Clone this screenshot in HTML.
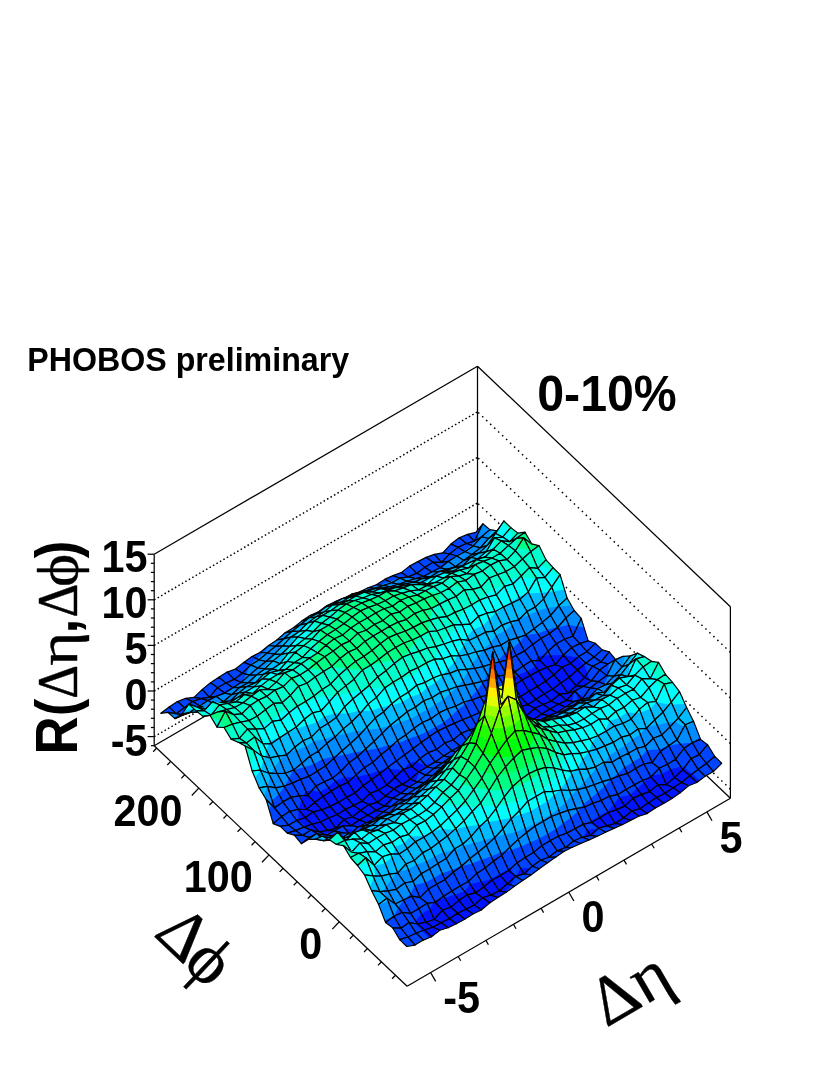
<!DOCTYPE html>
<html><head><meta charset="utf-8"><title>PHOBOS preliminary</title><style>html,body{margin:0;padding:0;background:#fff}svg{display:block}text{font-family:"Liberation Sans",sans-serif;font-weight:bold;fill:#000}.sy{font-family:"Liberation Serif",serif;font-weight:normal;stroke:#000;stroke-width:.4px}</style></head><body>
<svg width="830" height="1075" viewBox="0 0 830 1075">
<rect width="830" height="1075" fill="#fff"/>
<g stroke="#000" stroke-width="1.25" fill="none" stroke-linecap="butt"><line x1="154.2" y1="745.7" x2="154.2" y2="554.2" /><line x1="730.4" y1="798.2" x2="730.4" y2="606.7" /><line x1="477.5" y1="557.7" x2="477.5" y2="366.2" /><line x1="154.2" y1="554.2" x2="477.5" y2="366.2" /><line x1="730.4" y1="606.7" x2="477.5" y2="366.2" /><line x1="154.2" y1="745.7" x2="477.5" y2="557.7" /><line x1="730.4" y1="798.2" x2="477.5" y2="557.7" /><line x1="154.2" y1="736.6" x2="477.5" y2="548.6" stroke-dasharray="1.5 2.5" stroke-width="1.5"/><line x1="730.4" y1="789.1" x2="477.5" y2="548.6" stroke-dasharray="1.5 4.0" stroke-width="1.5"/><line x1="154.2" y1="691.0" x2="477.5" y2="503.0" stroke-dasharray="1.5 2.5" stroke-width="1.5"/><line x1="730.4" y1="743.5" x2="477.5" y2="503.0" stroke-dasharray="1.5 4.0" stroke-width="1.5"/><line x1="154.2" y1="645.4" x2="477.5" y2="457.4" stroke-dasharray="1.5 2.5" stroke-width="1.5"/><line x1="730.4" y1="697.9" x2="477.5" y2="457.4" stroke-dasharray="1.5 4.0" stroke-width="1.5"/><line x1="154.2" y1="599.8" x2="477.5" y2="411.8" stroke-dasharray="1.5 2.5" stroke-width="1.5"/><line x1="730.4" y1="652.3" x2="477.5" y2="411.8" stroke-dasharray="1.5 4.0" stroke-width="1.5"/></g>
<g transform="scale(.1)" stroke="#000" stroke-width="12" stroke-linejoin="round"><path d="M4745 5412l83-174-70 86-83 20z" fill="#0044ff" stroke="none"/>
<path d="M4782 5335l46-97-32 40z" fill="#008bff" stroke="none"/>
<path d="M4745 5412l83-174-70 86-83 20z" fill="none"/>
<path d="M4663 5435l82-23-70-68-83 33z" fill="#0044ff"/>
<path d="M4580 5474l83-39-71-58-83 64z" fill="#0044ff"/>
<path d="M4497 5540l83-66-71-33-82 87z" fill="#0044ff"/>
<path d="M4414 5624l83-84-70-12-83 16z" fill="#0044ff"/>
<path d="M4331 5623l83 1-70-80-83 30z" fill="#0044ff"/>
<path d="M4248 5674l83-51-70-49-83 42z" fill="#0044ff"/>
<path d="M4165 5734l83-60-70-58-83 45z" fill="#0044ff"/>
<path d="M4082 5769l83-35-70-73-83 65z" fill="#0044ff"/>
<path d="M3999 5783l83-14-70-43-83 30z" fill="#0044ff" stroke="none"/>
<path d="M3999 5783l18-3-30-1z" fill="#008bff" stroke="none"/>
<path d="M3999 5783l83-14-70-43-83 30z" fill="none"/>
<path d="M3917 5828l82-45-70-27-83 38z" fill="#0044ff" stroke="none"/>
<path d="M3917 5828l82-45-12-4-93 38z" fill="#008bff" stroke="none"/>
<path d="M3917 5828l82-45-70-27-83 38z" fill="none"/>
<path d="M3834 5855l83-27-71-34-83 54z" fill="#0044ff" stroke="none"/>
<path d="M3834 5855l83-27-23-11-98 34z" fill="#008bff" stroke="none"/>
<path d="M3834 5855l83-27-71-34-83 54z" fill="none"/>
<path d="M3751 5884l83-29-71-7-83 29z" fill="#0044ff" stroke="none"/>
<path d="M3751 5884l83-29-38-4-106 27z" fill="#008bff" stroke="none"/>
<path d="M3751 5884l83-29-71-7-83 29z" fill="none"/>
<path d="M3668 5906l83-22-71-7-82 40z" fill="#0044ff" stroke="none"/>
<path d="M3668 5906l83-22-61-6-92 39z" fill="#008bff" stroke="none"/>
<path d="M3668 5906l83-22-71-7-82 40z" fill="none"/>
<path d="M3585 5926l83-20-70 11-83 25z" fill="#0044ff" stroke="none"/>
<path d="M3585 5926l83-20-70 11-1 0-82 25z" fill="#008bff" stroke="none"/>
<path d="M3585 5926l29-7-37 9z" fill="#00bbff" stroke="none"/>
<path d="M3585 5926l83-20-70 11-83 25z" fill="none"/>
<path d="M3502 5959l83-33-70 16-83 46z" fill="#008bff" stroke="none"/>
<path d="M3502 5959l83-33-8 2-93 38z" fill="#00bbff" stroke="none"/>
<path d="M3502 5959l83-33-70 16-83 46z" fill="none"/>
<path d="M3419 5987l83-28-70 29-83 30z" fill="#008bff" stroke="none"/>
<path d="M3419 5987l83-28-18 7-97 35z" fill="#00bbff" stroke="none"/>
<path d="M3419 5987l83-28-70 29-83 30z" fill="none"/>
<path d="M3336 6041l83-54-70 31-83 40z" fill="#008bff" stroke="none"/>
<path d="M3336 6041l83-54-32 14-84 48z" fill="#00bbff" stroke="none"/>
<path d="M3336 6041l83-54-70 31-83 40z" fill="none"/>
<path d="M3253 6072l83-31-70 17-83 61z" fill="#008bff" stroke="none"/>
<path d="M3253 6072l83-31-33 8-85 46z" fill="#00bbff" stroke="none"/>
<path d="M3253 6072l83-31-70 17-83 61z" fill="none"/>
<path d="M3170 6137l83-65-70 47-83 36z" fill="#008bff" stroke="none"/>
<path d="M3170 6137l83-65-35 23-81 50z" fill="#00bbff" stroke="none"/>
<path d="M3170 6137l83-65-70 47-83 36z" fill="none"/>
<path d="M3088 6180l82-43-70 18-83 56z" fill="#008bff" stroke="none"/>
<path d="M3088 6180l82-43-33 8-82 49z" fill="#00bbff" stroke="none"/>
<path d="M3088 6180l82-43-70 18-83 56z" fill="none"/>
<path d="M3005 6248l83-68-71 31-83 66z" fill="#008bff" stroke="none"/>
<path d="M3005 6248l83-68-33 14-69 62z" fill="#00bbff" stroke="none"/>
<path d="M3005 6248l83-68-71 31-83 66z" fill="none"/>
<path d="M2922 6312l83-64-71 29-83 51z" fill="#008bff" stroke="none"/>
<path d="M2922 6312l83-64-19 8-72 57z" fill="#00bbff" stroke="none"/>
<path d="M2922 6312l83-64-71 29-83 51z" fill="none"/>
<path d="M2839 6388l83-76-71 16-82 71z" fill="#0044ff" stroke="none"/>
<path d="M2839 6388l83-76-71 16-82 70 0 1z" fill="#008bff" stroke="none"/>
<path d="M2893 6338l29-26-8 1z" fill="#00bbff" stroke="none"/>
<path d="M2839 6388l83-76-71 16-82 71z" fill="none"/>
<path d="M2756 6463l83-75-70 11-83 56z" fill="#0044ff" stroke="none"/>
<path d="M2756 6463l83-75-70 11-73 57z" fill="#008bff" stroke="none"/>
<path d="M2756 6463l83-75-70 11-83 56z" fill="none"/>
<path d="M2673 6530l83-67-70-8-83 68z" fill="#0044ff" stroke="none"/>
<path d="M2673 6530l83-67-60-7-60 70z" fill="#008bff" stroke="none"/>
<path d="M2673 6530l83-67-70-8-83 68z" fill="none"/>
<path d="M2590 6599l83-69-70-7-83 42z" fill="#0044ff" stroke="none"/>
<path d="M2590 6599l83-69-37-4-69 62z" fill="#008bff" stroke="none"/>
<path d="M2590 6599l83-69-70-7-83 42z" fill="none"/>
<path d="M2507 6651l83-52-70-34-83 59z" fill="#0044ff" stroke="none"/>
<path d="M2507 6651l83-52-23-11-72 58z" fill="#008bff" stroke="none"/>
<path d="M2507 6651l83-52-70-34-83 59z" fill="none"/>
<path d="M2424 6733l83-82-70-27-83 66z" fill="#0044ff" stroke="none"/>
<path d="M2490 6668l17-17-12-5z" fill="#008bff" stroke="none"/>
<path d="M2424 6733l83-82-70-27-83 66z" fill="none"/>
<path d="M2341 6794l83-61-70-43-83 31z" fill="#0044ff"/>
<path d="M2259 6831l82-37-70-73-83 52z" fill="#0044ff"/>
<path d="M2176 6877l83-46-71-58-83 54z" fill="#0044ff"/>
<path d="M2093 6974l83-97-71-50-82 67z" fill="#0044ff"/>
<path d="M2010 6986l83-12-70-80-83 80z" fill="#0044ff"/>
<path d="M1927 7016l83-30-70-12-83 10z" fill="#0044ff"/>
<path d="M1844 7077l83-61-70-32-83 31z" fill="#0044ff"/>
<path d="M1761 7138l83-61-70-62-83 56z" fill="#0044ff"/>
<path d="M1678 7123l83 15-70-67-83 62z" fill="#0044ff" stroke="none"/>
<path d="M1678 7123l23 4-38-2z" fill="#008bff" stroke="none"/>
<path d="M1678 7123l83 15-70-67-83 62z" fill="none"/>
<path d="M4816 5368l83-72-71-58-83 174z" fill="#0044ff" stroke="none"/>
<path d="M4816 5368l83-72-71-58-46 97-1 55z" fill="#008bff" stroke="none"/>
<path d="M4816 5368l83-72-71-58-83 174z" fill="none"/>
<path d="M4733 5459l83-91-71 44-82 23z" fill="#0044ff" stroke="none"/>
<path d="M4733 5459l83-91-35 22-69 62z" fill="#008bff" stroke="none"/>
<path d="M4733 5459l83-91-71 44-82 23z" fill="none"/>
<path d="M4650 5517l83-58-70-24-83 39z" fill="#0044ff" stroke="none"/>
<path d="M4650 5517l83-58-21-7-71 59z" fill="#008bff" stroke="none"/>
<path d="M4650 5517l83-58-70-24-83 39z" fill="none"/>
<path d="M4567 5560l83-43-70-43-83 66z" fill="#0044ff" stroke="none"/>
<path d="M4567 5560l83-43-9-6-86 45z" fill="#008bff" stroke="none"/>
<path d="M4567 5560l83-43-70-43-83 66z" fill="none"/>
<path d="M4484 5614l83-54-70-20-83 84z" fill="#0044ff" stroke="none"/>
<path d="M4484 5614l83-54-12-4-73 58z" fill="#008bff" stroke="none"/>
<path d="M4484 5614l83-54-70-20-83 84z" fill="none"/>
<path d="M4401 5678l83-64-70 10-83-1z" fill="#0044ff" stroke="none"/>
<path d="M4473 5623l11-9-2 0z" fill="#008bff" stroke="none"/>
<path d="M4401 5678l83-64-70 10-83-1z" fill="none"/>
<path d="M4318 5720l83-42-70-55-83 51z" fill="#0044ff"/>
<path d="M4235 5765l83-45-70-46-83 60z" fill="#0044ff"/>
<path d="M4153 5787l82-22-70-31-83 35z" fill="#0044ff" stroke="none"/>
<path d="M4153 5787l70-19-102 11z" fill="#008bff" stroke="none"/>
<path d="M4153 5787l82-22-70-31-83 35z" fill="none"/>
<path d="M4070 5812l83-25-71-18-83 14z" fill="#0044ff" stroke="none"/>
<path d="M4070 5812l83-25-32-8-104 1-18 3z" fill="#008bff" stroke="none"/>
<path d="M4070 5812l83-25-71-18-83 14z" fill="none"/>
<path d="M3987 5843l83-31-71-29-82 45z" fill="#008bff"/>
<path d="M3904 5868l83-25-70-15-83 27z" fill="#008bff"/>
<path d="M3821 5881l83-13-70-13-83 29z" fill="#008bff" stroke="none"/>
<path d="M3821 5881l60-10-85 11z" fill="#00bbff" stroke="none"/>
<path d="M3821 5881l83-13-70-13-83 29z" fill="none"/>
<path d="M3738 5890l83-9-70 3-83 22z" fill="#008bff" stroke="none"/>
<path d="M3738 5890l83-9-25 1-113 20z" fill="#00bbff" stroke="none"/>
<path d="M3738 5890l83-9-70 3-83 22z" fill="none"/>
<path d="M3655 5928l83-38-70 16-83 20z" fill="#008bff" stroke="none"/>
<path d="M3655 5928l83-38-55 12-69 17-29 7z" fill="#00bbff" stroke="none"/>
<path d="M3655 5928l83-38-70 16-83 20z" fill="none"/>
<path d="M3572 5944l83-16-70-2-83 33z" fill="#00bbff" stroke="none"/>
<path d="M3572 5944l28-5-37 7z" fill="#00fffc" stroke="none"/>
<path d="M3572 5944l83-16-70-2-83 33z" fill="none"/>
<path d="M3489 5977l83-33-70 15-83 28z" fill="#00bbff" stroke="none"/>
<path d="M3489 5977l83-33-9 2-98 34z" fill="#00fffc" stroke="none"/>
<path d="M3489 5977l83-33-70 15-83 28z" fill="none"/>
<path d="M3406 6024l83-47-70 10-83 54z" fill="#00bbff" stroke="none"/>
<path d="M3406 6024l83-47-24 3-82 49z" fill="#00fffc" stroke="none"/>
<path d="M3406 6024l83-47-70 10-83 54z" fill="none"/>
<path d="M3324 6051l82-27-70 17-83 31z" fill="#00bbff" stroke="none"/>
<path d="M3324 6051l82-27-23 5-98 33z" fill="#00fffc" stroke="none"/>
<path d="M3324 6051l82-27-70 17-83 31z" fill="none"/>
<path d="M3241 6120l83-69-71 21-83 65z" fill="#00bbff" stroke="none"/>
<path d="M3241 6120l83-69-39 11-67 64z" fill="#00fffc" stroke="none"/>
<path d="M3241 6120l83-69-71 21-83 65z" fill="none"/>
<path d="M3158 6170l83-50-71 17-82 43z" fill="#00bbff" stroke="none"/>
<path d="M3158 6170l83-50-23 6-84 47z" fill="#00fffc" stroke="none"/>
<path d="M3158 6170l83-50-71 17-82 43z" fill="none"/>
<path d="M3075 6233l83-63-70 10-83 68z" fill="#00bbff" stroke="none"/>
<path d="M3075 6233l83-63-24 3-69 62z" fill="#00fffc" stroke="none"/>
<path d="M3075 6233l83-63-70 10-83 68z" fill="none"/>
<path d="M2992 6314l83-81-70 15-83 64z" fill="#00bbff" stroke="none"/>
<path d="M3047 6260l28-27-10 2z" fill="#00fffc" stroke="none"/>
<path d="M2992 6314l83-81-70 15-83 64z" fill="none"/>
<path d="M2909 6372l83-58-70-2-83 76z" fill="#008bff" stroke="none"/>
<path d="M2909 6372l83-58-70-2-29 26-39 46z" fill="#00bbff" stroke="none"/>
<path d="M2909 6372l83-58-70-2-83 76z" fill="none"/>
<path d="M2826 6459l83-87-70 16-83 75z" fill="#008bff" stroke="none"/>
<path d="M2826 6459l83-87-55 12-53 77z" fill="#00bbff" stroke="none"/>
<path d="M2826 6459l83-87-70 16-83 75z" fill="none"/>
<path d="M2743 6542l83-83-70 4-83 67z" fill="#008bff" stroke="none"/>
<path d="M2766 6519l60-60-25 2z" fill="#00bbff" stroke="none"/>
<path d="M2743 6542l83-83-70 4-83 67z" fill="none"/>
<path d="M2660 6615l83-73-70-12-83 69z" fill="#008bff"/>
<path d="M2578 6680l82-65-70-16-83 52z" fill="#008bff"/>
<path d="M2495 6751l83-71-71-29-83 82z" fill="#0044ff" stroke="none"/>
<path d="M2495 6751l83-71-71-29-17 17-27 75z" fill="#008bff" stroke="none"/>
<path d="M2495 6751l83-71-71-29-83 82z" fill="none"/>
<path d="M2412 6825l83-74-71-18-83 61z" fill="#0044ff" stroke="none"/>
<path d="M2424 6814l71-63-32-8z" fill="#008bff" stroke="none"/>
<path d="M2412 6825l83-74-71-18-83 61z" fill="none"/>
<path d="M2329 6877l83-52-71-31-82 37z" fill="#0044ff"/>
<path d="M2246 6931l83-54-70-46-83 46z" fill="#0044ff"/>
<path d="M2163 6964l83-33-70-54-83 97z" fill="#0044ff" stroke="none"/>
<path d="M2163 6964l11-5-13 5z" fill="#008bff" stroke="none"/>
<path d="M2163 6964l83-33-70-54-83 97z" fill="none"/>
<path d="M2080 7006l83-42-70 10-83 12z" fill="#0044ff" stroke="none"/>
<path d="M2080 7006l83-42-2 0-93 38z" fill="#008bff" stroke="none"/>
<path d="M2080 7006l83-42-70 10-83 12z" fill="none"/>
<path d="M1997 7059l83-53-70-20-83 30z" fill="#0044ff" stroke="none"/>
<path d="M1997 7059l83-53-12-4-80 51z" fill="#008bff" stroke="none"/>
<path d="M1997 7059l83-53-70-20-83 30z" fill="none"/>
<path d="M1914 7122l83-63-70-43-83 61z" fill="#0044ff" stroke="none"/>
<path d="M1980 7073l17-14-9-6z" fill="#008bff" stroke="none"/>
<path d="M1914 7122l83-63-70-43-83 61z" fill="none"/>
<path d="M1831 7149l83-27-70-45-83 61z" fill="#0044ff" stroke="none"/>
<path d="M1831 7149l37-12-48 10z" fill="#008bff" stroke="none"/>
<path d="M1831 7149l83-27-70-45-83 61z" fill="none"/>
<path d="M1749 7186l82-37-70-11-83-15z" fill="#0044ff" stroke="none"/>
<path d="M1749 7186l82-37-11-2-119-20-23-4z" fill="#008bff" stroke="none"/>
<path d="M1749 7186l82-37-70-11-83-15z" fill="none"/>
<path d="M4886 5385l83-77-70-12-83 72z" fill="#008bff" stroke="none"/>
<path d="M4886 5385l83-77-49-8-47 82z" fill="#00bbff" stroke="none"/>
<path d="M4886 5385l83-77-70-12-83 72z" fill="none"/>
<path d="M4803 5479l83-94-70-17-83 91z" fill="#008bff" stroke="none"/>
<path d="M4869 5404l17-19-13-3z" fill="#00bbff" stroke="none"/>
<path d="M4803 5479l83-94-70-17-83 91z" fill="none"/>
<path d="M4720 5545l83-66-70-20-83 58z" fill="#008bff"/>
<path d="M4637 5606l83-61-70-28-83 43z" fill="#008bff"/>
<path d="M4554 5667l83-61-70-46-83 54z" fill="#008bff"/>
<path d="M4472 5694l82-27-70-53-83 64z" fill="#0044ff" stroke="none"/>
<path d="M4472 5694l82-27-70-53-11 9-53 59z" fill="#008bff" stroke="none"/>
<path d="M4472 5694l82-27-70-53-83 64z" fill="none"/>
<path d="M4389 5716l83-22-71-16-83 42z" fill="#0044ff" stroke="none"/>
<path d="M4389 5716l83-22-52-12-94 38z" fill="#008bff" stroke="none"/>
<path d="M4389 5716l83-22-71-16-83 42z" fill="none"/>
<path d="M4306 5767l83-51-71 4-83 45z" fill="#0044ff" stroke="none"/>
<path d="M4306 5767l83-51-63 4-86 45z" fill="#008bff" stroke="none"/>
<path d="M4306 5767l83-51-71 4-83 45z" fill="none"/>
<path d="M4223 5786l83-19-71-2-82 22z" fill="#0044ff" stroke="none"/>
<path d="M4223 5786l83-19-66-2-17 3-70 19z" fill="#008bff" stroke="none"/>
<path d="M4223 5786l83-19-71-2-82 22z" fill="none"/>
<path d="M4140 5821l83-35-70 1-83 25z" fill="#008bff" stroke="none"/>
<path d="M4140 5821l43-18-51 17z" fill="#00bbff" stroke="none"/>
<path d="M4140 5821l83-35-70 1-83 25z" fill="none"/>
<path d="M4057 5838l83-17-70-9-83 31z" fill="#008bff" stroke="none"/>
<path d="M4057 5838l83-17-8-1-112 21z" fill="#00bbff" stroke="none"/>
<path d="M4057 5838l83-17-70-9-83 31z" fill="none"/>
<path d="M3974 5868l83-30-70 5-83 25z" fill="#008bff" stroke="none"/>
<path d="M3974 5868l83-30-37 3-106 27z" fill="#00bbff" stroke="none"/>
<path d="M3974 5868l83-30-70 5-83 25z" fill="none"/>
<path d="M3891 5886l83-18-70 0-83 13z" fill="#008bff" stroke="none"/>
<path d="M3891 5886l83-18-60 0-33 3-60 10z" fill="#00bbff" stroke="none"/>
<path d="M3891 5886l83-18-70 0-83 13z" fill="none"/>
<path d="M3808 5887l83-1-70-5-83 9z" fill="#00bbff" stroke="none"/>
<path d="M3808 5887l68-1-106 2z" fill="#00fffc" stroke="none"/>
<path d="M3808 5887l83-1-70-5-83 9z" fill="none"/>
<path d="M3725 5918l83-31-70 3-83 38z" fill="#00bbff" stroke="none"/>
<path d="M3725 5918l83-31-38 1-95 37z" fill="#00fffc" stroke="none"/>
<path d="M3725 5918l83-31-70 3-83 38z" fill="none"/>
<path d="M3643 5922l82-4-70 10-83 16z" fill="#00bbff" stroke="none"/>
<path d="M3643 5922l82-4-50 7-75 14-28 5z" fill="#00fffc" stroke="none"/>
<path d="M3643 5922l7 0-10 1z" fill="#00ffcc" stroke="none"/>
<path d="M3643 5922l82-4-70 10-83 16z" fill="none"/>
<path d="M3560 5960l83-38-71 22-83 33z" fill="#00fffc" stroke="none"/>
<path d="M3560 5960l83-38-3 1-92 40z" fill="#00ffcc" stroke="none"/>
<path d="M3560 5960l83-38-71 22-83 33z" fill="none"/>
<path d="M3477 6009l83-49-71 17-83 47z" fill="#00fffc" stroke="none"/>
<path d="M3477 6009l83-49-12 3-83 49z" fill="#00ffcc" stroke="none"/>
<path d="M3477 6009l83-49-71 17-83 47z" fill="none"/>
<path d="M3394 6046l83-37-71 15-82 27z" fill="#00fffc" stroke="none"/>
<path d="M3394 6046l83-37-12 3-95 36z" fill="#00ffcc" stroke="none"/>
<path d="M3394 6046l83-37-71 15-82 27z" fill="none"/>
<path d="M3311 6106l83-60-70 5-83 69z" fill="#00fffc" stroke="none"/>
<path d="M3311 6106l83-60-24 2-70 60z" fill="#00ffcc" stroke="none"/>
<path d="M3311 6106l83-60-70 5-83 69z" fill="none"/>
<path d="M3228 6153l83-47-70 14-83 50z" fill="#00fffc" stroke="none"/>
<path d="M3228 6153l83-47-11 2-84 48z" fill="#00ffcc" stroke="none"/>
<path d="M3228 6153l83-47-70 14-83 50z" fill="none"/>
<path d="M3145 6211l83-58-70 17-83 63z" fill="#00fffc" stroke="none"/>
<path d="M3145 6211l83-58-12 3-74 56z" fill="#00ffcc" stroke="none"/>
<path d="M3145 6211l83-58-70 17-83 63z" fill="none"/>
<path d="M3062 6303l83-92-70 22-83 81z" fill="#00bbff" stroke="none"/>
<path d="M3062 6303l83-92-70 22-28 27-35 51z" fill="#00fffc" stroke="none"/>
<path d="M3138 6219l7-8-3 1z" fill="#00ffcc" stroke="none"/>
<path d="M3062 6303l83-92-70 22-83 81z" fill="none"/>
<path d="M2979 6369l83-66-70 11-83 58z" fill="#00bbff" stroke="none"/>
<path d="M2979 6369l83-66-50 8-71 60z" fill="#00fffc" stroke="none"/>
<path d="M2979 6369l83-66-70 11-83 58z" fill="none"/>
<path d="M2896 6464l83-95-70 3-83 87z" fill="#00bbff" stroke="none"/>
<path d="M2912 6447l67-78-38 2z" fill="#00fffc" stroke="none"/>
<path d="M2896 6464l83-95-70 3-83 87z" fill="none"/>
<path d="M2814 6543l82-79-70-5-83 83z" fill="#008bff" stroke="none"/>
<path d="M2814 6543l82-79-70-5-60 60-12 23z" fill="#00bbff" stroke="none"/>
<path d="M2814 6543l82-79-70-5-83 83z" fill="none"/>
<path d="M2731 6609l83-66-71-1-83 73z" fill="#008bff" stroke="none"/>
<path d="M2731 6609l83-66-60-1-61 70z" fill="#00bbff" stroke="none"/>
<path d="M2731 6609l83-66-71-1-83 73z" fill="none"/>
<path d="M2648 6689l83-80-71 6-82 65z" fill="#008bff" stroke="none"/>
<path d="M2648 6689l83-80-38 3-54 76z" fill="#00bbff" stroke="none"/>
<path d="M2648 6689l83-80-71 6-82 65z" fill="none"/>
<path d="M2565 6750l83-61-70-9-83 71z" fill="#008bff" stroke="none"/>
<path d="M2605 6721l43-32-9-1z" fill="#00bbff" stroke="none"/>
<path d="M2565 6750l83-61-70-9-83 71z" fill="none"/>
<path d="M2482 6827l83-77-70 1-83 74z" fill="#0044ff" stroke="none"/>
<path d="M2482 6827l83-77-70 1-71 63-8 11z" fill="#008bff" stroke="none"/>
<path d="M2482 6827l83-77-70 1-83 74z" fill="none"/>
<path d="M2399 6873l83-46-70-2-83 52z" fill="#0044ff" stroke="none"/>
<path d="M2399 6873l83-46-66-2-79 52z" fill="#008bff" stroke="none"/>
<path d="M2399 6873l83-46-70-2-83 52z" fill="none"/>
<path d="M2316 6947l83-74-70 4-83 54z" fill="#0044ff" stroke="none"/>
<path d="M2316 6947l83-74-62 4-73 58z" fill="#008bff" stroke="none"/>
<path d="M2316 6947l83-74-70 4-83 54z" fill="none"/>
<path d="M2233 7017l83-70-70-16-83 33z" fill="#0044ff" stroke="none"/>
<path d="M2233 7017l83-70-52-12-90 24-11 5z" fill="#008bff" stroke="none"/>
<path d="M2233 7017l83-70-70-16-83 33z" fill="none"/>
<path d="M2150 7052l83-35-70-53-83 42z" fill="#008bff"/>
<path d="M2067 7088l83-36-70-46-83 53z" fill="#008bff"/>
<path d="M1985 7118l82-30-70-29-83 63z" fill="#0044ff" stroke="none"/>
<path d="M1985 7118l82-30-70-29-17 14-54 49z" fill="#008bff" stroke="none"/>
<path d="M1985 7118l82-30-70-29-83 63z" fill="none"/>
<path d="M1902 7120l83-2-71 4-83 27z" fill="#0044ff" stroke="none"/>
<path d="M1902 7120l83-2-59 4-58 15-37 12z" fill="#008bff" stroke="none"/>
<path d="M1902 7120l17 0-24 3z" fill="#00bbff" stroke="none"/>
<path d="M1902 7120l83-2-71 4-83 27z" fill="none"/>
<path d="M1819 7140l83-20-71 29-82 37z" fill="#008bff" stroke="none"/>
<path d="M1819 7140l83-20-7 3-100 32z" fill="#00bbff" stroke="none"/>
<path d="M1819 7140l83-20-71 29-82 37z" fill="none"/>
<path d="M4956 5335l83-125-70 98-83 77z" fill="#00bbff" stroke="none"/>
<path d="M4956 5335l83-125-46 64-55 74z" fill="#00fffc" stroke="none"/>
<path d="M5026 5229l13-19-5 7z" fill="#00ffcc" stroke="none"/>
<path d="M4956 5335l83-125-70 98-83 77z" fill="none"/>
<path d="M4873 5453l83-118-70 50-83 94z" fill="#008bff" stroke="none"/>
<path d="M4873 5453l83-118-70 50-17 19-38 65z" fill="#00bbff" stroke="none"/>
<path d="M4920 5386l36-51-18 13z" fill="#00fffc" stroke="none"/>
<path d="M4873 5453l83-118-70 50-83 94z" fill="none"/>
<path d="M4790 5531l83-78-70 26-83 66z" fill="#008bff" stroke="none"/>
<path d="M4790 5531l83-78-42 16-63 67z" fill="#00bbff" stroke="none"/>
<path d="M4790 5531l83-78-70 26-83 66z" fill="none"/>
<path d="M4708 5575l82-44-70 14-83 61z" fill="#008bff" stroke="none"/>
<path d="M4708 5575l82-44-22 5-83 48z" fill="#00bbff" stroke="none"/>
<path d="M4708 5575l82-44-70 14-83 61z" fill="none"/>
<path d="M4625 5660l83-85-71 31-83 61z" fill="#008bff" stroke="none"/>
<path d="M4638 5646l70-71-23 9z" fill="#00bbff" stroke="none"/>
<path d="M4625 5660l83-85-71 31-83 61z" fill="none"/>
<path d="M4542 5677l83-17-71 7-82 27z" fill="#008bff" stroke="none"/>
<path d="M4542 5677l67-14-89 19z" fill="#00bbff" stroke="none"/>
<path d="M4542 5677l83-17-71 7-82 27z" fill="none"/>
<path d="M4459 5708l83-31-70 17-83 22z" fill="#008bff" stroke="none"/>
<path d="M4459 5708l83-31-22 5-101 31z" fill="#00bbff" stroke="none"/>
<path d="M4459 5708l83-31-70 17-83 22z" fill="none"/>
<path d="M4376 5769l83-61-70 8-83 51z" fill="#008bff" stroke="none"/>
<path d="M4376 5769l83-61-40 5-76 55z" fill="#00bbff" stroke="none"/>
<path d="M4376 5769l83-61-70 8-83 51z" fill="none"/>
<path d="M4293 5779l83-10-70-2-83 19z" fill="#008bff" stroke="none"/>
<path d="M4293 5779l83-10-33-1-114 18z" fill="#00bbff" stroke="none"/>
<path d="M4293 5779l83-10-70-2-83 19z" fill="none"/>
<path d="M4210 5825l83-46-70 7-83 35z" fill="#008bff" stroke="none"/>
<path d="M4210 5825l83-46-64 7-46 17-43 18z" fill="#00bbff" stroke="none"/>
<path d="M4210 5825l83-46-70 7-83 35z" fill="none"/>
<path d="M4127 5865l83-40-70-4-83 17z" fill="#00bbff"/>
<path d="M4044 5856l83 9-70-27-83 30z" fill="#00bbff" stroke="none"/>
<path d="M4044 5856l58 6-93 0z" fill="#00fffc" stroke="none"/>
<path d="M4044 5856l83 9-70-27-83 30z" fill="none"/>
<path d="M3961 5874l83-18-70 12-83 18z" fill="#00bbff" stroke="none"/>
<path d="M3961 5874l83-18-35 6-110 23z" fill="#00fffc" stroke="none"/>
<path d="M3961 5874l83-18-70 12-83 18z" fill="none"/>
<path d="M3879 5904l82-30-70 12-83 1z" fill="#00bbff" stroke="none"/>
<path d="M3879 5904l82-30-62 11-23 1-68 1z" fill="#00fffc" stroke="none"/>
<path d="M3879 5904l82-30-70 12-83 1z" fill="none"/>
<path d="M3796 5931l83-27-71-17-83 31z" fill="#00fffc" stroke="none"/>
<path d="M3796 5931l54-18-72 15z" fill="#00ffcc" stroke="none"/>
<path d="M3796 5931l83-27-71-17-83 31z" fill="none"/>
<path d="M3713 5945l83-14-71-13-82 4z" fill="#00fffc" stroke="none"/>
<path d="M3713 5945l83-14-18-3-128-6-7 0z" fill="#00ffcc" stroke="none"/>
<path d="M3713 5945l83-14-71-13-82 4z" fill="none"/>
<path d="M3630 5980l83-35-70-23-83 38z" fill="#00ffcc"/>
<path d="M3547 6005l83-25-70-20-83 49z" fill="#00ffcc"/>
<path d="M3464 6039l83-34-70 4-83 37z" fill="#00ffcc" stroke="none"/>
<path d="M3464 6039l16-6-18 6z" fill="#00ff85" stroke="none"/>
<path d="M3464 6039l83-34-70 4-83 37z" fill="none"/>
<path d="M3381 6101l83-62-70 7-83 60z" fill="#00ffcc" stroke="none"/>
<path d="M3449 6051l15-12-2 0z" fill="#00ff85" stroke="none"/>
<path d="M3381 6101l83-62-70 7-83 60z" fill="none"/>
<path d="M3298 6172l83-71-70 5-83 47z" fill="#00ffcc"/>
<path d="M3215 6234l83-62-70-19-83 58z" fill="#00ffcc"/>
<path d="M3132 6317l83-83-70-23-83 92z" fill="#00fffc" stroke="none"/>
<path d="M3132 6317l83-83-70-23-7 8-23 94z" fill="#00ffcc" stroke="none"/>
<path d="M3132 6317l83-83-70-23-83 92z" fill="none"/>
<path d="M3050 6386l82-69-70-14-83 66z" fill="#00fffc" stroke="none"/>
<path d="M3078 6362l54-45-17-4z" fill="#00ffcc" stroke="none"/>
<path d="M3050 6386l82-69-70-14-83 66z" fill="none"/>
<path d="M2967 6453l83-67-71-17-83 95z" fill="#00bbff" stroke="none"/>
<path d="M2967 6453l83-67-71-17-67 78-8 16z" fill="#00fffc" stroke="none"/>
<path d="M2967 6453l83-67-71-17-83 95z" fill="none"/>
<path d="M2884 6531l83-78-71 11-82 79z" fill="#00bbff" stroke="none"/>
<path d="M2884 6531l83-78-63 10-56 74z" fill="#00fffc" stroke="none"/>
<path d="M2884 6531l83-78-71 11-82 79z" fill="none"/>
<path d="M2801 6637l83-106-70 12-83 66z" fill="#00bbff" stroke="none"/>
<path d="M2826 6604l58-73-36 6z" fill="#00fffc" stroke="none"/>
<path d="M2801 6637l83-106-70 12-83 66z" fill="none"/>
<path d="M2718 6692l83-55-70-28-83 80z" fill="#00bbff"/>
<path d="M2635 6743l83-51-70-3-83 61z" fill="#008bff" stroke="none"/>
<path d="M2635 6743l83-51-70-3-43 32-34 29z" fill="#00bbff" stroke="none"/>
<path d="M2635 6743l83-51-70-3-83 61z" fill="none"/>
<path d="M2552 6829l83-86-70 7-83 77z" fill="#008bff" stroke="none"/>
<path d="M2552 6829l83-86-64 7-51 78z" fill="#00bbff" stroke="none"/>
<path d="M2552 6829l83-86-70 7-83 77z" fill="none"/>
<path d="M2469 6865l83-36-70-2-83 46z" fill="#008bff" stroke="none"/>
<path d="M2469 6865l83-36-32-1-90 42z" fill="#00bbff" stroke="none"/>
<path d="M2469 6865l83-36-70-2-83 46z" fill="none"/>
<path d="M2386 6930l83-65-70 8-83 74z" fill="#008bff" stroke="none"/>
<path d="M2386 6930l83-65-39 5-65 65z" fill="#00bbff" stroke="none"/>
<path d="M2386 6930l83-65-70 8-83 74z" fill="none"/>
<path d="M2304 7010l82-80-70 17-83 70z" fill="#008bff" stroke="none"/>
<path d="M2320 6994l66-64-21 5z" fill="#00bbff" stroke="none"/>
<path d="M2304 7010l82-80-70 17-83 70z" fill="none"/>
<path d="M2221 7021l83-11-71 7-83 35z" fill="#008bff" stroke="none"/>
<path d="M2221 7021l69-9-92 19z" fill="#00bbff" stroke="none"/>
<path d="M2221 7021l83-11-71 7-83 35z" fill="none"/>
<path d="M2138 7074l83-53-71 31-83 36z" fill="#008bff" stroke="none"/>
<path d="M2138 7074l83-53-23 10-83 47z" fill="#00bbff" stroke="none"/>
<path d="M2138 7074l83-53-71 31-83 36z" fill="none"/>
<path d="M2055 7092l83-18-71 14-82 30z" fill="#008bff" stroke="none"/>
<path d="M2055 7092l83-18-23 4-103 30z" fill="#00bbff" stroke="none"/>
<path d="M2055 7092l83-18-71 14-82 30z" fill="none"/>
<path d="M1972 7071l83 21-70 26-83 2z" fill="#008bff" stroke="none"/>
<path d="M1972 7071l83 21-43 16-93 12-17 0z" fill="#00bbff" stroke="none"/>
<path d="M1972 7071l36 9-54 3z" fill="#00fffc" stroke="none"/>
<path d="M1972 7071l83 21-70 26-83 2z" fill="none"/>
<path d="M1889 7041l83 30-70 49-83 20z" fill="#00bbff" stroke="none"/>
<path d="M1889 7041l83 30-18 12-111 22z" fill="#00fffc" stroke="none"/>
<path d="M1889 7041l13 5-18 2z" fill="#00ffcc" stroke="none"/>
<path d="M1889 7041l83 30-70 49-83 20z" fill="none"/>
<path d="M5026 5371l83-95-70-66-83 125z" fill="#00fffc" stroke="none"/>
<path d="M5088 5301l21-25-70-66-13 19z" fill="#00ffcc" stroke="none"/>
<path d="M5026 5371l83-95-70-66-83 125z" fill="none"/>
<path d="M4944 5380l82-9-70-36-83 118z" fill="#00bbff" stroke="none"/>
<path d="M4944 5380l82-9-70-36-36 51-27 46z" fill="#00fffc" stroke="none"/>
<path d="M4944 5380l10-1-13 3z" fill="#00ffcc" stroke="none"/>
<path d="M4944 5380l82-9-70-36-83 118z" fill="none"/>
<path d="M4861 5519l83-139-71 73-83 78z" fill="#00bbff" stroke="none"/>
<path d="M4861 5519l83-139-51 52-41 88z" fill="#00fffc" stroke="none"/>
<path d="M4939 5387l5-7-3 2z" fill="#00ffcc" stroke="none"/>
<path d="M4861 5519l83-139-71 73-83 78z" fill="none"/>
<path d="M4778 5589l83-70-71 12-82 44z" fill="#00bbff" stroke="none"/>
<path d="M4824 5550l37-31-9 1z" fill="#00fffc" stroke="none"/>
<path d="M4778 5589l83-70-71 12-82 44z" fill="none"/>
<path d="M4695 5627l83-38-70-14-83 85z" fill="#008bff" stroke="none"/>
<path d="M4695 5627l83-38-70-14-70 71-9 12z" fill="#00bbff" stroke="none"/>
<path d="M4695 5627l83-38-70-14-83 85z" fill="none"/>
<path d="M4612 5667l83-40-70 33-83 17z" fill="#008bff" stroke="none"/>
<path d="M4612 5667l83-40-66 31-20 5-67 14z" fill="#00bbff" stroke="none"/>
<path d="M4612 5667l58-28-63 29z" fill="#00fffc" stroke="none"/>
<path d="M4612 5667l83-40-70 33-83 17z" fill="none"/>
<path d="M4529 5713l83-46-70 10-83 31z" fill="#00bbff" stroke="none"/>
<path d="M4529 5713l83-46-5 1-88 44z" fill="#00fffc" stroke="none"/>
<path d="M4529 5713l83-46-70 10-83 31z" fill="none"/>
<path d="M4446 5728l83-15-70-5-83 61z" fill="#00bbff" stroke="none"/>
<path d="M4446 5728l83-15-10-1-100 32z" fill="#00fffc" stroke="none"/>
<path d="M4446 5728l83-15-70-5-83 61z" fill="none"/>
<path d="M4363 5761l83-33-70 41-83 10z" fill="#00bbff" stroke="none"/>
<path d="M4363 5761l83-33-27 16-103 29z" fill="#00fffc" stroke="none"/>
<path d="M4363 5761l83-33-70 41-83 10z" fill="none"/>
<path d="M4280 5839l83-78-70 18-83 46z" fill="#00bbff" stroke="none"/>
<path d="M4280 5839l83-78-47 12-72 59z" fill="#00fffc" stroke="none"/>
<path d="M4280 5839l83-78-70 18-83 46z" fill="none"/>
<path d="M4198 5844l82-5-70-14-83 40z" fill="#00bbff" stroke="none"/>
<path d="M4198 5844l82-5-36-7-103 29z" fill="#00fffc" stroke="none"/>
<path d="M4198 5844l82-5-70-14-83 40z" fill="none"/>
<path d="M4115 5847l83-3-71 21-83-9z" fill="#00bbff" stroke="none"/>
<path d="M4115 5847l83-3-57 17-39 1-58-6z" fill="#00fffc" stroke="none"/>
<path d="M4115 5847l36-1-55 3z" fill="#00ffcc" stroke="none"/>
<path d="M4115 5847l83-3-71 21-83-9z" fill="none"/>
<path d="M4032 5879l83-32-71 9-83 18z" fill="#00fffc" stroke="none"/>
<path d="M4032 5879l83-32-19 2-105 27z" fill="#00ffcc" stroke="none"/>
<path d="M4032 5879l83-32-71 9-83 18z" fill="none"/>
<path d="M3949 5909l83-30-71-5-82 30z" fill="#00fffc" stroke="none"/>
<path d="M3949 5909l83-30-41-3-104 28z" fill="#00ffcc" stroke="none"/>
<path d="M3949 5909l83-30-71-5-82 30z" fill="none"/>
<path d="M3866 5915l83-6-70-5-83 27z" fill="#00fffc" stroke="none"/>
<path d="M3866 5915l83-6-62-5-37 9-54 18z" fill="#00ffcc" stroke="none"/>
<path d="M3866 5915l2-1-3 1z" fill="#00ff85" stroke="none"/>
<path d="M3866 5915l83-6-70-5-83 27z" fill="none"/>
<path d="M3783 5962l83-47-70 16-83 14z" fill="#00ffcc" stroke="none"/>
<path d="M3783 5962l83-47-1 0-84 47z" fill="#00ff85" stroke="none"/>
<path d="M3783 5962l83-47-70 16-83 14z" fill="none"/>
<path d="M3700 5999l83-37-70-17-83 35z" fill="#00ffcc" stroke="none"/>
<path d="M3700 5999l83-37-2 0-100 32z" fill="#00ff85" stroke="none"/>
<path d="M3700 5999l83-37-70-17-83 35z" fill="none"/>
<path d="M3617 6030l83-31-70-19-83 25z" fill="#00ffcc" stroke="none"/>
<path d="M3617 6030l83-31-19-5-115 18z" fill="#00ff85" stroke="none"/>
<path d="M3617 6030l83-31-70-19-83 25z" fill="none"/>
<path d="M3534 6075l83-45-70-25-83 34z" fill="#00ffcc" stroke="none"/>
<path d="M3534 6075l83-45-51-18-86 21-16 6z" fill="#00ff85" stroke="none"/>
<path d="M3534 6075l83-45-70-25-83 34z" fill="none"/>
<path d="M3451 6126l83-51-70-36-83 62z" fill="#00ffcc" stroke="none"/>
<path d="M3451 6126l83-51-70-36-15 12-49 57z" fill="#00ff85" stroke="none"/>
<path d="M3451 6126l83-51-70-36-83 62z" fill="none"/>
<path d="M3369 6192l82-66-70-25-83 71z" fill="#00ffcc" stroke="none"/>
<path d="M3369 6192l82-66-51-18-51 79z" fill="#00ff85" stroke="none"/>
<path d="M3369 6192l82-66-70-25-83 71z" fill="none"/>
<path d="M3286 6252l83-60-71-20-83 62z" fill="#00ffcc" stroke="none"/>
<path d="M3286 6252l83-60-20-5-65 64z" fill="#00ff85" stroke="none"/>
<path d="M3286 6252l83-60-71-20-83 62z" fill="none"/>
<path d="M3203 6300l83-48-71-18-83 83z" fill="#00ffcc" stroke="none"/>
<path d="M3203 6300l83-48-2-1-82 49z" fill="#00ff85" stroke="none"/>
<path d="M3203 6300l83-48-71-18-83 83z" fill="none"/>
<path d="M3120 6391l83-91-71 17-82 69z" fill="#00fffc" stroke="none"/>
<path d="M3120 6391l83-91-71 17-54 45-20 24z" fill="#00ffcc" stroke="none"/>
<path d="M3201 6302l2-2-1 0z" fill="#00ff85" stroke="none"/>
<path d="M3120 6391l83-91-71 17-82 69z" fill="none"/>
<path d="M3037 6457l83-66-70-5-83 67z" fill="#00fffc" stroke="none"/>
<path d="M3037 6457l83-66-62-5-62 69z" fill="#00ffcc" stroke="none"/>
<path d="M3037 6457l83-66-70-5-83 67z" fill="none"/>
<path d="M2954 6522l83-65-70-4-83 78z" fill="#00fffc" stroke="none"/>
<path d="M2954 6522l83-65-41-2-60 69z" fill="#00ffcc" stroke="none"/>
<path d="M2954 6522l83-65-70-4-83 78z" fill="none"/>
<path d="M2871 6615l83-93-70 9-83 106z" fill="#00bbff" stroke="none"/>
<path d="M2871 6615l83-93-70 9-58 73-11 28z" fill="#00fffc" stroke="none"/>
<path d="M2918 6563l36-41-18 2z" fill="#00ffcc" stroke="none"/>
<path d="M2871 6615l83-93-70 9-83 106z" fill="none"/>
<path d="M2788 6707l83-92-70 22-83 55z" fill="#00bbff" stroke="none"/>
<path d="M2788 6707l83-92-56 17-63 67z" fill="#00fffc" stroke="none"/>
<path d="M2788 6707l83-92-70 22-83 55z" fill="none"/>
<path d="M2705 6725l83-18-70-15-83 51z" fill="#00bbff" stroke="none"/>
<path d="M2705 6725l83-18-36-8-94 38z" fill="#00fffc" stroke="none"/>
<path d="M2705 6725l83-18-70-15-83 51z" fill="none"/>
<path d="M2622 6789l83-64-70 18-83 86z" fill="#00bbff" stroke="none"/>
<path d="M2622 6789l83-64-47 12-63 67z" fill="#00fffc" stroke="none"/>
<path d="M2622 6789l83-64-70 18-83 86z" fill="none"/>
<path d="M2540 6870l82-81-70 40-83 36z" fill="#00bbff" stroke="none"/>
<path d="M2540 6870l82-81-27 15-65 65z" fill="#00fffc" stroke="none"/>
<path d="M2540 6870l82-81-70 40-83 36z" fill="none"/>
<path d="M2457 6921l83-51-71-5-83 65z" fill="#00bbff" stroke="none"/>
<path d="M2457 6921l83-51-10-1-79 53z" fill="#00fffc" stroke="none"/>
<path d="M2457 6921l83-51-71-5-83 65z" fill="none"/>
<path d="M2374 6977l83-56-71 9-82 80z" fill="#008bff" stroke="none"/>
<path d="M2374 6977l83-56-71 9-66 64-12 14z" fill="#00bbff" stroke="none"/>
<path d="M2398 6960l59-39-6 1z" fill="#00fffc" stroke="none"/>
<path d="M2374 6977l83-56-71 9-82 80z" fill="none"/>
<path d="M2291 7035l83-58-70 33-83 11z" fill="#008bff" stroke="none"/>
<path d="M2291 7035l83-58-66 31-18 4-69 9z" fill="#00bbff" stroke="none"/>
<path d="M2291 7035l83-58-70 33-83 11z" fill="none"/>
<path d="M2208 7062l83-27-70-14-83 53z" fill="#00bbff" stroke="none"/>
<path d="M2208 7062l37-12-46 13z" fill="#00fffc" stroke="none"/>
<path d="M2208 7062l83-27-70-14-83 53z" fill="none"/>
<path d="M2125 7019l83 43-70 12-83 18z" fill="#00bbff" stroke="none"/>
<path d="M2125 7019l83 43-9 1-124 8z" fill="#00fffc" stroke="none"/>
<path d="M2125 7019l5 2-7 0z" fill="#00ffcc" stroke="none"/>
<path d="M2125 7019l83 43-70 12-83 18z" fill="none"/>
<path d="M2042 7107l83-88-70 73-83-21z" fill="#00bbff" stroke="none"/>
<path d="M2042 7107l83-88-50 52-67 9-36-9z" fill="#00fffc" stroke="none"/>
<path d="M2115 7030l10-11-2 2z" fill="#00ffcc" stroke="none"/>
<path d="M2042 7107l83-88-70 73-83-21z" fill="none"/>
<path d="M1959 7108l83-1-70-36-83-30z" fill="#00fffc" stroke="none"/>
<path d="M1959 7108l22-1-79-61-13-5z" fill="#00ffcc" stroke="none"/>
<path d="M1959 7108l83-1-70-36-83-30z" fill="none"/>
<path d="M5097 5417l83-85-71-56-83 95z" fill="#00fffc" stroke="none"/>
<path d="M5127 5385l53-53-71-56-21 25z" fill="#00ffcc" stroke="none"/>
<path d="M5097 5417l83-85-71-56-83 95z" fill="none"/>
<path d="M5014 5409l83 8-71-46-82 9z" fill="#00fffc" stroke="none"/>
<path d="M5014 5409l63 6-123-36-10 1z" fill="#00ffcc" stroke="none"/>
<path d="M5014 5409l83 8-71-46-82 9z" fill="none"/>
<path d="M4931 5493l83-84-70-29-83 139z" fill="#00fffc" stroke="none"/>
<path d="M4931 5493l83-84-70-29-5 7-13 108z" fill="#00ffcc" stroke="none"/>
<path d="M4931 5493l83-84-70-29-83 139z" fill="none"/>
<path d="M4848 5572l83-79-70 26-83 70z" fill="#00bbff" stroke="none"/>
<path d="M4848 5572l83-79-70 26-37 31-36 37z" fill="#00fffc" stroke="none"/>
<path d="M4913 5510l18-17-5 2z" fill="#00ffcc" stroke="none"/>
<path d="M4848 5572l83-79-70 26-83 70z" fill="none"/>
<path d="M4765 5596l83-24-70 17-83 38z" fill="#00bbff" stroke="none"/>
<path d="M4765 5596l83-24-60 15-91 40z" fill="#00fffc" stroke="none"/>
<path d="M4765 5596l83-24-70 17-83 38z" fill="none"/>
<path d="M4682 5681l83-85-70 31-83 40z" fill="#00bbff" stroke="none"/>
<path d="M4682 5681l83-85-68 31-27 12-58 28z" fill="#00fffc" stroke="none"/>
<path d="M4682 5681l83-85-70 31-83 40z" fill="none"/>
<path d="M4599 5702l83-21-70-14-83 46z" fill="#00fffc"/>
<path d="M4516 5733l83-31-70 11-83 15z" fill="#00fffc" stroke="none"/>
<path d="M4516 5733l37-14-45 14z" fill="#00ffcc" stroke="none"/>
<path d="M4516 5733l83-31-70 11-83 15z" fill="none"/>
<path d="M4434 5782l82-49-70-5-83 33z" fill="#00fffc" stroke="none"/>
<path d="M4434 5782l82-49-8 0-85 46z" fill="#00ffcc" stroke="none"/>
<path d="M4434 5782l82-49-70-5-83 33z" fill="none"/>
<path d="M4351 5825l83-43-71-21-83 78z" fill="#00fffc" stroke="none"/>
<path d="M4351 5825l83-43-11-3-83 48z" fill="#00ffcc" stroke="none"/>
<path d="M4351 5825l83-43-71-21-83 78z" fill="none"/>
<path d="M4268 5856l83-31-71 14-82 5z" fill="#00fffc" stroke="none"/>
<path d="M4268 5856l83-31-11 2-110 23z" fill="#00ffcc" stroke="none"/>
<path d="M4268 5856l83-31-71 14-82 5z" fill="none"/>
<path d="M4185 5900l83-44-70-12-83 3z" fill="#00fffc" stroke="none"/>
<path d="M4185 5900l83-44-38-6-79-4-36 1z" fill="#00ffcc" stroke="none"/>
<path d="M4185 5900l83-44-70-12-83 3z" fill="none"/>
<path d="M4102 5909l83-9-70-53-83 32z" fill="#00ffcc"/>
<path d="M4019 5933l83-24-70-30-83 30z" fill="#00ffcc" stroke="none"/>
<path d="M4019 5933l3 0-4 0z" fill="#00ff85" stroke="none"/>
<path d="M4019 5933l83-24-70-30-83 30z" fill="none"/>
<path d="M3936 5961l83-28-70-24-83 6z" fill="#00ffcc" stroke="none"/>
<path d="M3936 5961l83-28-1 0-150-19-2 1z" fill="#00ff85" stroke="none"/>
<path d="M3936 5961l83-28-70-24-83 6z" fill="none"/>
<path d="M3853 6007l83-46-70-46-83 47z" fill="#00ff85"/>
<path d="M3770 6045l83-38-70-45-83 37z" fill="#00ff85"/>
<path d="M3687 6074l83-29-70-46-83 31z" fill="#00ff85"/>
<path d="M3605 6109l82-35-70-44-83 45z" fill="#00ff85"/>
<path d="M3522 6170l83-61-71-34-83 51z" fill="#00ff85"/>
<path d="M3439 6238l83-68-71-44-82 66z" fill="#00ff85"/>
<path d="M3356 6296l83-58-70-46-83 60z" fill="#00ff85"/>
<path d="M3273 6347l83-51-70-44-83 48z" fill="#00ff85"/>
<path d="M3190 6415l83-68-70-47-83 91z" fill="#00ffcc" stroke="none"/>
<path d="M3190 6415l83-68-70-47-2 2-12 113z" fill="#00ff85" stroke="none"/>
<path d="M3190 6415l83-68-70-47-83 91z" fill="none"/>
<path d="M3107 6488l83-73-70-24-83 66z" fill="#00ffcc" stroke="none"/>
<path d="M3187 6418l3-3-1 0z" fill="#00ff85" stroke="none"/>
<path d="M3107 6488l83-73-70-24-83 66z" fill="none"/>
<path d="M3024 6574l83-86-70-31-83 65z" fill="#00ffcc"/>
<path d="M2941 6627l83-53-70-52-83 93z" fill="#00fffc" stroke="none"/>
<path d="M2941 6627l83-53-70-52-36 41-14 58z" fill="#00ffcc" stroke="none"/>
<path d="M2941 6627l83-53-70-52-83 93z" fill="none"/>
<path d="M2859 6693l82-66-70-12-83 92z" fill="#00fffc" stroke="none"/>
<path d="M2859 6693l82-66-37-6-56 74z" fill="#00ffcc" stroke="none"/>
<path d="M2859 6693l82-66-70-12-83 92z" fill="none"/>
<path d="M2776 6746l83-53-71 14-83 18z" fill="#00fffc" stroke="none"/>
<path d="M2776 6746l83-53-11 2-83 48z" fill="#00ffcc" stroke="none"/>
<path d="M2776 6746l83-53-71 14-83 18z" fill="none"/>
<path d="M2693 6794l83-48-71-21-83 64z" fill="#00fffc" stroke="none"/>
<path d="M2693 6794l83-48-11-3-81 50z" fill="#00ffcc" stroke="none"/>
<path d="M2693 6794l83-48-71-21-83 64z" fill="none"/>
<path d="M2610 6859l83-65-71-5-82 81z" fill="#00fffc" stroke="none"/>
<path d="M2656 6823l37-29-9-1z" fill="#00ffcc" stroke="none"/>
<path d="M2610 6859l83-65-71-5-82 81z" fill="none"/>
<path d="M2527 6935l83-76-70 11-83 51z" fill="#00fffc"/>
<path d="M2444 6946l83-11-70-14-83 56z" fill="#00bbff" stroke="none"/>
<path d="M2444 6946l83-11-70-14-59 39-22 16z" fill="#00fffc" stroke="none"/>
<path d="M2444 6946l83-11-70-14-83 56z" fill="none"/>
<path d="M2361 7018l83-72-70 31-83 58z" fill="#00bbff" stroke="none"/>
<path d="M2361 7018l83-72-68 30-75 57z" fill="#00fffc" stroke="none"/>
<path d="M2361 7018l83-72-70 31-83 58z" fill="none"/>
<path d="M2278 7035l83-17-70 17-83 27z" fill="#00bbff" stroke="none"/>
<path d="M2278 7035l83-17-60 15-56 17-37 12z" fill="#00fffc" stroke="none"/>
<path d="M2278 7035l18-3-23 5z" fill="#00ffcc" stroke="none"/>
<path d="M2278 7035l83-17-70 17-83 27z" fill="none"/>
<path d="M2195 7048l83-13-70 27-83-43z" fill="#00fffc" stroke="none"/>
<path d="M2195 7048l83-13-5 2-143-16-5-2z" fill="#00ffcc" stroke="none"/>
<path d="M2195 7048l83-13-70 27-83-43z" fill="none"/>
<path d="M2112 7152l83-104-70-29-83 88z" fill="#00fffc" stroke="none"/>
<path d="M2133 7127l62-79-70-29-10 11z" fill="#00ffcc" stroke="none"/>
<path d="M2112 7152l83-104-70-29-83 88z" fill="none"/>
<path d="M2030 7164l82-12-70-45-83 1z" fill="#00fffc" stroke="none"/>
<path d="M2030 7164l52-8-101-49-22 1z" fill="#00ffcc" stroke="none"/>
<path d="M2030 7164l82-12-70-45-83 1z" fill="none"/>
<path d="M5167 5383l83-61-70 10-83 85z" fill="#00fffc" stroke="none"/>
<path d="M5167 5383l83-61-70 10-53 53-21 27z" fill="#00ffcc" stroke="none"/>
<path d="M5222 5342l28-20-4 0z" fill="#00ff85" stroke="none"/>
<path d="M5167 5383l83-61-70 10-83 85z" fill="none"/>
<path d="M5084 5456l83-73-70 34-83-8z" fill="#00fffc" stroke="none"/>
<path d="M5084 5456l83-73-61 29-29 3-63-6z" fill="#00ffcc" stroke="none"/>
<path d="M5084 5456l83-73-70 34-83-8z" fill="none"/>
<path d="M5001 5533l83-77-70-47-83 84z" fill="#00ffcc"/>
<path d="M4918 5582l83-49-70-40-83 79z" fill="#00fffc" stroke="none"/>
<path d="M4918 5582l83-49-70-40-18 17-35 66z" fill="#00ffcc" stroke="none"/>
<path d="M4918 5582l83-49-70-40-83 79z" fill="none"/>
<path d="M4835 5614l83-32-70-10-83 24z" fill="#00fffc" stroke="none"/>
<path d="M4835 5614l83-32-40-6-113 20z" fill="#00ffcc" stroke="none"/>
<path d="M4835 5614l83-32-70-10-83 24z" fill="none"/>
<path d="M4753 5646l82-32-70-18-83 85z" fill="#00fffc" stroke="none"/>
<path d="M4753 5646l82-32-70-18-57 73z" fill="#00ffcc" stroke="none"/>
<path d="M4753 5646l82-32-70-18-83 85z" fill="none"/>
<path d="M4670 5737l83-91-71 35-83 21z" fill="#00fffc" stroke="none"/>
<path d="M4670 5737l83-91-45 23-88 44z" fill="#00ffcc" stroke="none"/>
<path d="M4670 5737l83-91-71 35-83 21z" fill="none"/>
<path d="M4587 5761l83-24-71-35-83 31z" fill="#00fffc" stroke="none"/>
<path d="M4587 5761l83-24-50-24-67 6-37 14z" fill="#00ffcc" stroke="none"/>
<path d="M4587 5761l83-24-71-35-83 31z" fill="none"/>
<path d="M4504 5765l83-4-71-28-82 49z" fill="#00ffcc"/>
<path d="M4421 5832l83-67-70 17-83 43z" fill="#00ffcc"/>
<path d="M4338 5866l83-34-70-7-83 31z" fill="#00ffcc"/>
<path d="M4255 5907l83-41-70-10-83 44z" fill="#00ffcc"/>
<path d="M4172 5951l83-44-70-7-83 9z" fill="#00ffcc" stroke="none"/>
<path d="M4172 5951l29-15-32 13z" fill="#00ff85" stroke="none"/>
<path d="M4172 5951l83-44-70-7-83 9z" fill="none"/>
<path d="M4089 5970l83-19-70-42-83 24z" fill="#00ffcc" stroke="none"/>
<path d="M4089 5970l83-19-3-2-147-16-3 0z" fill="#00ff85" stroke="none"/>
<path d="M4089 5970l83-19-70-42-83 24z" fill="none"/>
<path d="M4006 6002l83-32-70-37-83 28z" fill="#00ff85"/>
<path d="M3924 6062l82-60-70-41-83 46z" fill="#00ff85"/>
<path d="M3841 6088l83-26-71-55-83 38z" fill="#00ff85"/>
<path d="M3758 6130l83-42-71-43-83 29z" fill="#00ff85"/>
<path d="M3675 6180l83-50-71-56-82 35z" fill="#00ff85"/>
<path d="M3592 6226l83-46-70-71-83 61z" fill="#00ff85"/>
<path d="M3509 6280l83-54-70-56-83 68z" fill="#00ff85"/>
<path d="M3426 6351l83-71-70-42-83 58z" fill="#00ff85"/>
<path d="M3343 6388l83-37-70-55-83 51z" fill="#00ff85"/>
<path d="M3260 6452l83-64-70-41-83 68z" fill="#00ff85"/>
<path d="M3177 6530l83-78-70-37-83 73z" fill="#00ffcc" stroke="none"/>
<path d="M3177 6530l83-78-70-37-3 3-13 110z" fill="#00ff85" stroke="none"/>
<path d="M3177 6530l83-78-70-37-83 73z" fill="none"/>
<path d="M3095 6582l82-52-70-42-83 86z" fill="#00ffcc" stroke="none"/>
<path d="M3149 6548l28-18-3-2z" fill="#00ff85" stroke="none"/>
<path d="M3095 6582l82-52-70-42-83 86z" fill="none"/>
<path d="M3012 6637l83-55-71-8-83 53z" fill="#00ffcc"/>
<path d="M2929 6699l83-62-71-10-82 66z" fill="#00ffcc"/>
<path d="M2846 6729l83-30-70-6-83 53z" fill="#00ffcc"/>
<path d="M2763 6821l83-92-70 17-83 48z" fill="#00ffcc"/>
<path d="M2680 6894l83-73-70-27-83 65z" fill="#00fffc" stroke="none"/>
<path d="M2680 6894l83-73-70-27-37 29-25 46z" fill="#00ffcc" stroke="none"/>
<path d="M2680 6894l83-73-70-27-83 65z" fill="none"/>
<path d="M2597 6900l83-6-70-35-83 76z" fill="#00fffc" stroke="none"/>
<path d="M2597 6900l83-6-49-25-79 53z" fill="#00ffcc" stroke="none"/>
<path d="M2597 6900l83-6-70-35-83 76z" fill="none"/>
<path d="M2514 6963l83-63-70 35-83 11z" fill="#00fffc" stroke="none"/>
<path d="M2514 6963l83-63-45 22-108 24z" fill="#00ffcc" stroke="none"/>
<path d="M2514 6963l83-63-70 35-83 11z" fill="none"/>
<path d="M2431 7028l83-65-70-17-83 72z" fill="#00fffc" stroke="none"/>
<path d="M2431 7028l83-65-70-17-53 77z" fill="#00ffcc" stroke="none"/>
<path d="M2431 7028l83-65-70-17-83 72z" fill="none"/>
<path d="M2348 7076l83-48-70-10-83 17z" fill="#00fffc" stroke="none"/>
<path d="M2348 7076l83-48-40-5-95 9-18 3z" fill="#00ffcc" stroke="none"/>
<path d="M2348 7076l83-48-70-10-83 17z" fill="none"/>
<path d="M2266 7095l82-19-70-41-83 13z" fill="#00ffcc"/>
<path d="M2183 7118l83-23-71-47-83 104z" fill="#00fffc" stroke="none"/>
<path d="M2183 7118l83-23-71-47-62 79-11 21z" fill="#00ffcc" stroke="none"/>
<path d="M2183 7118l83-23-71-47-83 104z" fill="none"/>
<path d="M2100 7153l83-35-71 34-82 12z" fill="#00fffc" stroke="none"/>
<path d="M2100 7153l83-35-61 30-40 8-52 8z" fill="#00ffcc" stroke="none"/>
<path d="M2100 7153l29-12-33 13z" fill="#00ff85" stroke="none"/>
<path d="M2100 7153l83-35-71 34-82 12z" fill="none"/>
<path d="M5237 5379l83 63-70-120-83 61z" fill="#00ffcc" stroke="none"/>
<path d="M5237 5379l47 35-29-83-5-9-28 20-46 40z" fill="#00ff85" stroke="none"/>
<path d="M5237 5379l83 63-70-120-83 61z" fill="none"/>
<path d="M5154 5508l83-129-70 4-83 73z" fill="#00ffcc" stroke="none"/>
<path d="M5173 5478l64-99-61 3z" fill="#00ff85" stroke="none"/>
<path d="M5154 5508l83-129-70 4-83 73z" fill="none"/>
<path d="M5071 5597l83-89-70-52-83 77z" fill="#00ffcc"/>
<path d="M4989 5609l82-12-70-64-83 49z" fill="#00ffcc"/>
<path d="M4906 5651l83-42-71-27-83 32z" fill="#00ffcc"/>
<path d="M4823 5711l83-60-71-37-82 32z" fill="#00ffcc"/>
<path d="M4740 5744l83-33-70-65-83 91z" fill="#00ffcc"/>
<path d="M4657 5806l83-62-70-7-83 24z" fill="#00ffcc"/>
<path d="M4574 5820l83-14-70-45-83 4z" fill="#00ffcc" stroke="none"/>
<path d="M4574 5820l16-3-57-29z" fill="#00ff85" stroke="none"/>
<path d="M4574 5820l83-14-70-45-83 4z" fill="none"/>
<path d="M4491 5883l83-63-70-55-83 67z" fill="#00ffcc" stroke="none"/>
<path d="M4536 5849l38-29-41-32z" fill="#00ff85" stroke="none"/>
<path d="M4491 5883l83-63-70-55-83 67z" fill="none"/>
<path d="M4408 5927l83-44-70-51-83 34z" fill="#00ffcc"/>
<path d="M4325 5955l83-28-70-61-83 41z" fill="#00ffcc" stroke="none"/>
<path d="M4325 5955l68-23-129-19z" fill="#00ff85" stroke="none"/>
<path d="M4325 5955l83-28-70-61-83 41z" fill="none"/>
<path d="M4242 5989l83-34-70-48-83 44z" fill="#00ffcc" stroke="none"/>
<path d="M4242 5989l83-34-61-42-63 23-29 15z" fill="#00ff85" stroke="none"/>
<path d="M4242 5989l83-34-70-48-83 44z" fill="none"/>
<path d="M4160 6030l82-41-70-38-83 19z" fill="#00ff85"/>
<path d="M4077 6064l83-34-71-60-83 32z" fill="#00ff85"/>
<path d="M3994 6122l83-58-71-62-82 60z" fill="#00ff85"/>
<path d="M3911 6140l83-18-70-60-83 26z" fill="#00ff85"/>
<path d="M3828 6206l83-66-70-52-83 42z" fill="#00ff85"/>
<path d="M3745 6245l83-39-70-76-83 50z" fill="#00ff85"/>
<path d="M3662 6303l83-58-70-65-83 46z" fill="#00ff85"/>
<path d="M3579 6333l83-30-70-77-83 54z" fill="#00ff85"/>
<path d="M3496 6411l83-78-70-53-83 71z" fill="#00ff85"/>
<path d="M3413 6449l83-38-70-60-83 37z" fill="#00ff85"/>
<path d="M3331 6512l82-63-70-61-83 64z" fill="#00ff85"/>
<path d="M3248 6567l83-55-71-60-83 78z" fill="#00ff85"/>
<path d="M3165 6630l83-63-71-37-82 52z" fill="#00ffcc" stroke="none"/>
<path d="M3165 6630l83-63-71-37-28 18-45 40z" fill="#00ff85" stroke="none"/>
<path d="M3165 6630l83-63-71-37-82 52z" fill="none"/>
<path d="M3082 6698l83-68-70-48-83 55z" fill="#00ffcc" stroke="none"/>
<path d="M3097 6686l68-56-61-42z" fill="#00ff85" stroke="none"/>
<path d="M3082 6698l83-68-70-48-83 55z" fill="none"/>
<path d="M2999 6751l83-53-70-61-83 62z" fill="#00ffcc"/>
<path d="M2916 6784l83-33-70-52-83 30z" fill="#00ffcc" stroke="none"/>
<path d="M2916 6784l38-15-79-17z" fill="#00ff85" stroke="none"/>
<path d="M2916 6784l83-33-70-52-83 30z" fill="none"/>
<path d="M2833 6866l83-82-70-55-83 92z" fill="#00ffcc" stroke="none"/>
<path d="M2900 6800l16-16-41-32z" fill="#00ff85" stroke="none"/>
<path d="M2833 6866l83-82-70-55-83 92z" fill="none"/>
<path d="M2750 6901l83-35-70-45-83 73z" fill="#00ffcc"/>
<path d="M2667 6964l83-63-70-7-83 6z" fill="#00ffcc"/>
<path d="M2585 7001l82-37-70-64-83 63z" fill="#00ffcc"/>
<path d="M2502 7056l83-55-71-38-83 65z" fill="#00ffcc"/>
<path d="M2419 7139l83-83-71-28-83 48z" fill="#00ffcc"/>
<path d="M2336 7146l83-7-71-63-82 19z" fill="#00ffcc"/>
<path d="M2253 7112l83 34-70-51-83 23z" fill="#00ffcc" stroke="none"/>
<path d="M2253 7112l65 27-127-22z" fill="#00ff85" stroke="none"/>
<path d="M2253 7112l83 34-70-51-83 23z" fill="none"/>
<path d="M2170 7271l83-159-70 6-83 35z" fill="#00ffcc" stroke="none"/>
<path d="M2205 7204l48-92-62 5-62 24-29 12 6 11z" fill="#00ff85" stroke="none"/>
<path d="M2170 7271l83-159-70 6-83 35z" fill="none"/>
<path d="M5307 5517l83-61-70-14-83-63z" fill="#00ffcc" stroke="none"/>
<path d="M5363 5476l27-20-5-2-101-40-47-35 62 121z" fill="#00ff85" stroke="none"/>
<path d="M5307 5517l83-61-70-14-83-63z" fill="none"/>
<path d="M5225 5590l82-73-70-138-83 129z" fill="#00ffcc" stroke="none"/>
<path d="M5299 5500l-62-121-64 99z" fill="#00ff85" stroke="none"/>
<path d="M5225 5590l82-73-70-138-83 129z" fill="none"/>
<path d="M5142 5667l83-77-71-82-83 89z" fill="#00ffcc"/>
<path d="M5059 5716l83-49-71-70-82 12z" fill="#00ffcc"/>
<path d="M4976 5747l83-31-70-107-83 42z" fill="#00ffcc"/>
<path d="M4893 5780l83-33-70-96-83 60z" fill="#00ffcc"/>
<path d="M4810 5871l83-91-70-69-83 33z" fill="#00ffcc"/>
<path d="M4727 5894l83-23-70-127-83 62z" fill="#00ffcc"/>
<path d="M4644 5898l83-4-70-88-83 14z" fill="#00ffcc" stroke="none"/>
<path d="M4590 5817l-16 3 40 45z" fill="#00ff85" stroke="none"/>
<path d="M4644 5898l83-4-70-88-83 14z" fill="none"/>
<path d="M4561 5965l83-67-70-78-83 63z" fill="#00ffcc" stroke="none"/>
<path d="M4614 5865l-40-45-38 29z" fill="#00ff85" stroke="none"/>
<path d="M4561 5965l83-67-70-78-83 63z" fill="none"/>
<path d="M4479 5999l82-34-70-82-83 44z" fill="#00ffcc"/>
<path d="M4396 6041l83-42-71-72-83 28z" fill="#00ffcc" stroke="none"/>
<path d="M4393 5932l-68 23 61 74z" fill="#00ff85" stroke="none"/>
<path d="M4396 6041l83-42-71-72-83 28z" fill="none"/>
<path d="M4313 6085l83-44-71-86-83 34z" fill="#00ffcc" stroke="none"/>
<path d="M4313 6085l27-14 46-42-61-74-83 34z" fill="#00ff85" stroke="none"/>
<path d="M4313 6085l83-44-71-86-83 34z" fill="none"/>
<path d="M4230 6103l83-18-71-96-82 41z" fill="#00ff85"/>
<path d="M4147 6136l83-33-70-73-83 34z" fill="#00ff85"/>
<path d="M4064 6196l83-60-70-72-83 58z" fill="#00ff85"/>
<path d="M3981 6221l83-25-70-74-83 18z" fill="#00ff85"/>
<path d="M3898 6263l83-42-70-81-83 66z" fill="#00ff85"/>
<path d="M3815 6313l83-50-70-57-83 39z" fill="#00ff85"/>
<path d="M3732 6360l83-47-70-68-83 58z" fill="#00ff85"/>
<path d="M3650 6414l82-54-70-57-83 30z" fill="#00ff85"/>
<path d="M3567 6485l83-71-71-81-83 78z" fill="#00ff85"/>
<path d="M3484 6521l83-36-71-74-83 38z" fill="#00ff85"/>
<path d="M3401 6585l83-64-71-72-82 63z" fill="#00ff85"/>
<path d="M3318 6664l83-79-70-73-83 55z" fill="#00ff85"/>
<path d="M3235 6716l83-52-70-97-83 63z" fill="#00ffcc" stroke="none"/>
<path d="M3291 6681l27-17-70-97-83 63 61 74z" fill="#00ff85" stroke="none"/>
<path d="M3235 6716l83-52-70-97-83 63z" fill="none"/>
<path d="M3152 6771l83-55-70-86-83 68z" fill="#00ffcc" stroke="none"/>
<path d="M3226 6704l-61-74-68 56z" fill="#00ff85" stroke="none"/>
<path d="M3152 6771l83-55-70-86-83 68z" fill="none"/>
<path d="M3069 6833l83-62-70-73-83 53z" fill="#00ffcc"/>
<path d="M2986 6862l83-29-70-82-83 33z" fill="#00ffcc" stroke="none"/>
<path d="M2954 6769l-38 15 41 45z" fill="#00ff85" stroke="none"/>
<path d="M2986 6862l83-29-70-82-83 33z" fill="none"/>
<path d="M2903 6955l83-93-70-78-83 82z" fill="#00ffcc" stroke="none"/>
<path d="M2957 6829l-41-45-16 16z" fill="#00ff85" stroke="none"/>
<path d="M2903 6955l83-93-70-78-83 82z" fill="none"/>
<path d="M2821 7028l82-73-70-89-83 35z" fill="#00ffcc"/>
<path d="M2738 7034l83-6-71-127-83 63z" fill="#00ffcc"/>
<path d="M2655 7097l83-63-71-70-82 37z" fill="#00ffcc"/>
<path d="M2572 7162l83-65-70-96-83 55z" fill="#00ffcc"/>
<path d="M2489 7206l83-44-70-106-83 83z" fill="#00ffcc"/>
<path d="M2406 7221l83-15-70-67-83 7z" fill="#00ffcc"/>
<path d="M2323 7241l83-20-70-75-83-34z" fill="#00ffcc" stroke="none"/>
<path d="M2323 7241l7-2-12-100-65-27z" fill="#00ff85" stroke="none"/>
<path d="M2323 7241l83-20-70-75-83-34z" fill="none"/>
<path d="M2240 7275l83-34-70-129-83 159z" fill="#00ffcc" stroke="none"/>
<path d="M2240 7275l83-34-70-129-48 92 17 70z" fill="#00ff85" stroke="none"/>
<path d="M2240 7275l83-34-70-129-83 159z" fill="none"/>
<path d="M5378 5684l83-85-71-143-83 61z" fill="#00fffc" stroke="none"/>
<path d="M5409 5653l52-54-71-143-83 61 61 144z" fill="#00ffcc" stroke="none"/>
<path d="M5394 5463l-4-7-27 20z" fill="#00ff85" stroke="none"/>
<path d="M5378 5684l83-85-71-143-83 61z" fill="none"/>
<path d="M5295 5677l83 7-71-167-82 73z" fill="#00fffc" stroke="none"/>
<path d="M5295 5677l62 5 11-21-61-144-82 73z" fill="#00ffcc" stroke="none"/>
<path d="M5295 5677l83 7-71-167-82 73z" fill="none"/>
<path d="M5212 5760l83-83-70-87-83 77z" fill="#00ffcc"/>
<path d="M5129 5840l83-80-70-93-83 49z" fill="#00fffc" stroke="none"/>
<path d="M5194 5777l18-17-70-93-83 49 40 70z" fill="#00ffcc" stroke="none"/>
<path d="M5129 5840l83-80-70-93-83 49z" fill="none"/>
<path d="M5046 5864l83-24-70-124-83 31z" fill="#00fffc" stroke="none"/>
<path d="M5099 5786l-40-70-83 31 69 116z" fill="#00ffcc" stroke="none"/>
<path d="M5046 5864l83-24-70-124-83 31z" fill="none"/>
<path d="M4963 5949l83-85-70-117-83 33z" fill="#00fffc" stroke="none"/>
<path d="M5045 5863l-69-116-83 33 44 107z" fill="#00ffcc" stroke="none"/>
<path d="M4963 5949l83-85-70-117-83 33z" fill="none"/>
<path d="M4880 5970l83-21-70-169-83 91z" fill="#00fffc" stroke="none"/>
<path d="M4937 5887l-44-107-83 91 48 68z" fill="#00ffcc" stroke="none"/>
<path d="M4880 5970l83-21-70-169-83 91z" fill="none"/>
<path d="M4797 6001l83-31-70-99-83 23z" fill="#00fffc" stroke="none"/>
<path d="M4797 6001l34-13 27-49-48-68-83 23z" fill="#00ffcc" stroke="none"/>
<path d="M4797 6001l83-31-70-99-83 23z" fill="none"/>
<path d="M4715 6050l82-49-70-107-83 4z" fill="#00ffcc"/>
<path d="M4632 6093l83-43-71-152-83 67z" fill="#00ffcc"/>
<path d="M4549 6124l83-31-71-128-82 34z" fill="#00ffcc"/>
<path d="M4466 6167l83-43-70-125-83 42z" fill="#00ffcc"/>
<path d="M4383 6177l83-10-70-126-83 44z" fill="#00ffcc" stroke="none"/>
<path d="M4340 6071l-27 14 3 5z" fill="#00ff85" stroke="none"/>
<path d="M4383 6177l83-10-70-126-83 44z" fill="none"/>
<path d="M4300 6201l83-24-70-92-83 18z" fill="#00ffcc" stroke="none"/>
<path d="M4300 6201l2-1 14-110-3-5-83 18z" fill="#00ff85" stroke="none"/>
<path d="M4300 6201l83-24-70-92-83 18z" fill="none"/>
<path d="M4217 6229l83-28-70-98-83 33z" fill="#00ff85"/>
<path d="M4134 6274l83-45-70-93-83 60z" fill="#00ff85"/>
<path d="M4051 6312l83-38-70-78-83 25z" fill="#00ff85"/>
<path d="M3968 6341l83-29-70-91-83 42z" fill="#00ff85"/>
<path d="M3886 6376l82-35-70-78-83 50z" fill="#00ff85"/>
<path d="M3803 6437l83-61-71-63-83 47z" fill="#00ff85"/>
<path d="M3720 6505l83-68-71-77-82 54z" fill="#00ff85"/>
<path d="M3637 6564l83-59-70-91-83 71z" fill="#00ff85"/>
<path d="M3554 6614l83-50-70-79-83 36z" fill="#00ff85"/>
<path d="M3471 6683l83-69-70-93-83 64z" fill="#00ff85"/>
<path d="M3388 6755l83-72-70-98-83 79z" fill="#00ffcc" stroke="none"/>
<path d="M3469 6685l2-2-70-98-83 79 3 4z" fill="#00ff85" stroke="none"/>
<path d="M3388 6755l83-72-70-98-83 79z" fill="none"/>
<path d="M3305 6842l83-87-70-91-83 52z" fill="#00ffcc" stroke="none"/>
<path d="M3321 6668l-3-4-27 17z" fill="#00ff85" stroke="none"/>
<path d="M3305 6842l83-87-70-91-83 52z" fill="none"/>
<path d="M3222 6895l83-53-70-126-83 55z" fill="#00ffcc"/>
<path d="M3140 6960l82-65-70-124-83 62z" fill="#00ffcc"/>
<path d="M3057 7014l83-54-71-127-83 29z" fill="#00ffcc"/>
<path d="M2974 7062l83-48-71-152-83 93z" fill="#00ffcc"/>
<path d="M2891 7127l83-65-71-107-82 73z" fill="#00fffc" stroke="none"/>
<path d="M2940 7088l34-26-71-107-82 73 48 68z" fill="#00ffcc" stroke="none"/>
<path d="M2891 7127l83-65-71-107-82 73z" fill="none"/>
<path d="M2808 7202l83-75-70-99-83 6z" fill="#00fffc" stroke="none"/>
<path d="M2869 7096l-48-68-83 6 44 106z" fill="#00ffcc" stroke="none"/>
<path d="M2808 7202l83-75-70-99-83 6z" fill="none"/>
<path d="M2725 7214l83-12-70-168-83 63z" fill="#00fffc" stroke="none"/>
<path d="M2782 7140l-44-106-83 63 69 115z" fill="#00ffcc" stroke="none"/>
<path d="M2725 7214l83-12-70-168-83 63z" fill="none"/>
<path d="M2642 7286l83-72-70-117-83 65z" fill="#00fffc" stroke="none"/>
<path d="M2724 7212l-69-115-83 65 40 71z" fill="#00ffcc" stroke="none"/>
<path d="M2642 7286l83-72-70-117-83 65z" fill="none"/>
<path d="M2559 7291l83-5-70-124-83 44z" fill="#00fffc" stroke="none"/>
<path d="M2559 7291l36-2 17-56-40-71-83 44z" fill="#00ffcc" stroke="none"/>
<path d="M2559 7291l83-5-70-124-83 44z" fill="none"/>
<path d="M2476 7291l83 0-70-85-83 15z" fill="#00ffcc"/>
<path d="M2393 7383l83-92-70-70-83 20z" fill="#00ffcc" stroke="none"/>
<path d="M2330 7239l-7 2 2 4z" fill="#00ff85" stroke="none"/>
<path d="M2393 7383l83-92-70-70-83 20z" fill="none"/>
<path d="M2311 7391l82-8-70-142-83 34z" fill="#00ffcc" stroke="none"/>
<path d="M2325 7245l-2-4-83 34 24 39z" fill="#00ff85" stroke="none"/>
<path d="M2311 7391l82-8-70-142-83 34z" fill="none"/>
<path d="M5448 5773l83-96-70-78-83 85z" fill="#00fffc" stroke="none"/>
<path d="M5510 5701l21-24-70-78-52 54z" fill="#00ffcc" stroke="none"/>
<path d="M5448 5773l83-96-70-78-83 85z" fill="none"/>
<path d="M5365 5781l83-8-70-89-83-7z" fill="#00fffc" stroke="none"/>
<path d="M5365 5781l9 0-17-99-62-5z" fill="#00ffcc" stroke="none"/>
<path d="M5365 5781l83-8-70-89-83-7z" fill="none"/>
<path d="M5282 5921l83-140-70-104-83 83z" fill="#00fffc" stroke="none"/>
<path d="M5361 5788l4-7-70-104-83 83 5 12z" fill="#00ffcc" stroke="none"/>
<path d="M5282 5921l83-140-70-104-83 83z" fill="none"/>
<path d="M5199 5992l83-71-70-161-83 80z" fill="#00bbff" stroke="none"/>
<path d="M5251 5947l31-26-70-161-83 80 59 127z" fill="#00fffc" stroke="none"/>
<path d="M5217 5772l-5-12-18 17z" fill="#00ffcc" stroke="none"/>
<path d="M5199 5992l83-71-70-161-83 80z" fill="none"/>
<path d="M5116 6031l83-39-70-152-83 24z" fill="#00bbff" stroke="none"/>
<path d="M5188 5967l-59-127-83 24 67 159z" fill="#00fffc" stroke="none"/>
<path d="M5116 6031l83-39-70-152-83 24z" fill="none"/>
<path d="M5034 6071l82-40-70-167-83 85z" fill="#00bbff" stroke="none"/>
<path d="M5034 6071l33-17 46-31-67-159-83 85z" fill="#00fffc" stroke="none"/>
<path d="M5034 6071l82-40-70-167-83 85z" fill="none"/>
<path d="M4951 6117l83-46-71-122-83 21z" fill="#00fffc"/>
<path d="M4868 6132l83-15-71-147-83 31z" fill="#00fffc" stroke="none"/>
<path d="M4831 5988l-34 13 8 14z" fill="#00ffcc" stroke="none"/>
<path d="M4868 6132l83-15-71-147-83 31z" fill="none"/>
<path d="M4785 6164l83-32-71-131-82 49z" fill="#00fffc" stroke="none"/>
<path d="M4805 6015l-8-14-82 49 8 15z" fill="#00ffcc" stroke="none"/>
<path d="M4785 6164l83-32-71-131-82 49z" fill="none"/>
<path d="M4702 6242l83-78-70-114-83 43z" fill="#00fffc" stroke="none"/>
<path d="M4723 6065l-8-15-83 43 10 21z" fill="#00ffcc" stroke="none"/>
<path d="M4702 6242l83-78-70-114-83 43z" fill="none"/>
<path d="M4619 6246l83-4-70-149-83 31z" fill="#00fffc" stroke="none"/>
<path d="M4642 6114l-10-21-83 31 36 63z" fill="#00ffcc" stroke="none"/>
<path d="M4619 6246l83-4-70-149-83 31z" fill="none"/>
<path d="M4536 6249l83-3-70-122-83 43z" fill="#00fffc" stroke="none"/>
<path d="M4536 6249l34-1 15-61-36-63-83 43z" fill="#00ffcc" stroke="none"/>
<path d="M4536 6249l83-3-70-122-83 43z" fill="none"/>
<path d="M4453 6280l83-31-70-82-83 10z" fill="#00ffcc"/>
<path d="M4370 6310l83-30-70-103-83 24z" fill="#00ffcc" stroke="none"/>
<path d="M4302 6200l-2 1 1 1z" fill="#00ff85" stroke="none"/>
<path d="M4370 6310l83-30-70-103-83 24z" fill="none"/>
<path d="M4287 6316l83-6-70-109-83 28z" fill="#00ffcc" stroke="none"/>
<path d="M4287 6316l2 0 12-114-1-1-83 28z" fill="#00ff85" stroke="none"/>
<path d="M4287 6316l83-6-70-109-83 28z" fill="none"/>
<path d="M4205 6363l82-47-70-87-83 45z" fill="#00ff85"/>
<path d="M4122 6400l83-37-71-89-83 38z" fill="#00ff85"/>
<path d="M4039 6430l83-30-71-88-83 29z" fill="#00ff85"/>
<path d="M3956 6476l83-46-71-89-82 35z" fill="#00ff85"/>
<path d="M3873 6527l83-51-70-100-83 61z" fill="#00ff85"/>
<path d="M3790 6593l83-66-70-90-83 68z" fill="#00ff85"/>
<path d="M3707 6653l83-60-70-88-83 59z" fill="#00ff85"/>
<path d="M3624 6701l83-48-70-89-83 50z" fill="#00ff85"/>
<path d="M3541 6792l83-91-70-87-83 69z" fill="#00ffcc" stroke="none"/>
<path d="M3623 6703l1-2-70-87-83 69 1 2z" fill="#00ff85" stroke="none"/>
<path d="M3541 6792l83-91-70-87-83 69z" fill="none"/>
<path d="M3458 6859l83-67-70-109-83 72z" fill="#00ffcc" stroke="none"/>
<path d="M3472 6685l-1-2-2 2z" fill="#00ff85" stroke="none"/>
<path d="M3458 6859l83-67-70-109-83 72z" fill="none"/>
<path d="M3376 6924l82-65-70-104-83 87z" fill="#00ffcc"/>
<path d="M3293 7018l83-94-71-82-83 53z" fill="#00fffc" stroke="none"/>
<path d="M3342 6962l34-38-71-82-83 53 37 63z" fill="#00ffcc" stroke="none"/>
<path d="M3293 7018l83-94-71-82-83 53z" fill="none"/>
<path d="M3210 7110l83-92-71-123-82 65z" fill="#00fffc" stroke="none"/>
<path d="M3259 6958l-37-63-82 65 9 22z" fill="#00ffcc" stroke="none"/>
<path d="M3210 7110l83-92-71-123-82 65z" fill="none"/>
<path d="M3127 7128l83-18-70-150-83 54z" fill="#00fffc" stroke="none"/>
<path d="M3149 6982l-9-22-83 54 9 15z" fill="#00ffcc" stroke="none"/>
<path d="M3127 7128l83-18-70-150-83 54z" fill="none"/>
<path d="M3044 7192l83-64-70-114-83 48z" fill="#00fffc" stroke="none"/>
<path d="M3066 7029l-9-15-83 48 7 14z" fill="#00ffcc" stroke="none"/>
<path d="M3044 7192l83-64-70-114-83 48z" fill="none"/>
<path d="M2961 7273l83-81-70-130-83 65z" fill="#00fffc" stroke="none"/>
<path d="M2981 7076l-7-14-34 26z" fill="#00ffcc" stroke="none"/>
<path d="M2961 7273l83-81-70-130-83 65z" fill="none"/>
<path d="M2878 7324l83-51-70-146-83 75z" fill="#00fffc"/>
<path d="M2795 7380l83-56-70-122-83 12z" fill="#00bbff" stroke="none"/>
<path d="M2844 7347l34-23-70-122-83 12 67 159z" fill="#00fffc" stroke="none"/>
<path d="M2795 7380l83-56-70-122-83 12z" fill="none"/>
<path d="M2712 7438l83-58-70-166-83 72z" fill="#00bbff" stroke="none"/>
<path d="M2792 7373l-67-159-83 72 59 127z" fill="#00fffc" stroke="none"/>
<path d="M2712 7438l83-58-70-166-83 72z" fill="none"/>
<path d="M2629 7438l83 0-70-152-83 5z" fill="#00bbff" stroke="none"/>
<path d="M2629 7438l59 0 13-25-59-127-83 5z" fill="#00fffc" stroke="none"/>
<path d="M2595 7289l-36 2 17 34z" fill="#00ffcc" stroke="none"/>
<path d="M2629 7438l83 0-70-152-83 5z" fill="none"/>
<path d="M2547 7369l82 69-70-147-83 0z" fill="#00fffc" stroke="none"/>
<path d="M2547 7369l39 33-10-77-17-34-83 0z" fill="#00ffcc" stroke="none"/>
<path d="M2547 7369l82 69-70-147-83 0z" fill="none"/>
<path d="M2464 7431l83-62-71-78-83 92z" fill="#00ffcc"/>
<path d="M2381 7423l83 8-71-48-82 8z" fill="#00ffcc" stroke="none"/>
<path d="M2381 7423l3 0-8-2z" fill="#00ff85" stroke="none"/>
<path d="M2381 7423l83 8-71-48-82 8z" fill="none"/>
<path d="M5518 5872l83-126-70-69-83 96z" fill="#00fffc" stroke="none"/>
<path d="M5590 5762l11-16-70-69-21 24z" fill="#00ffcc" stroke="none"/>
<path d="M5518 5872l83-126-70-69-83 96z" fill="none"/>
<path d="M5435 5991l83-119-70-99-83 8z" fill="#00bbff" stroke="none"/>
<path d="M5486 5919l32-47-70-99-83 8 49 147z" fill="#00fffc" stroke="none"/>
<path d="M5374 5781l-9 0 2 6z" fill="#00ffcc" stroke="none"/>
<path d="M5435 5991l83-119-70-99-83 8z" fill="none"/>
<path d="M5352 6071l83-80-70-210-83 140z" fill="#00bbff" stroke="none"/>
<path d="M5414 5928l-49-147-83 140 7 15z" fill="#00fffc" stroke="none"/>
<path d="M5367 5787l-2-6-4 7z" fill="#00ffcc" stroke="none"/>
<path d="M5352 6071l83-80-70-210-83 140z" fill="none"/>
<path d="M5270 6115l82-44-70-150-83 71z" fill="#00bbff" stroke="none"/>
<path d="M5289 5936l-7-15-31 26z" fill="#00fffc" stroke="none"/>
<path d="M5270 6115l82-44-70-150-83 71z" fill="none"/>
<path d="M5187 6202l83-87-71-123-83 39z" fill="#008bff" stroke="none"/>
<path d="M5215 6172l55-57-71-123-83 39 62 149z" fill="#00bbff" stroke="none"/>
<path d="M5187 6202l83-87-71-123-83 39z" fill="none"/>
<path d="M5104 6219l83-17-71-171-82 40z" fill="#008bff" stroke="none"/>
<path d="M5104 6219l47-10 27-29-62-149-82 40z" fill="#00bbff" stroke="none"/>
<path d="M5067 6054l-33 17 2 6z" fill="#00fffc" stroke="none"/>
<path d="M5104 6219l83-17-71-171-82 40z" fill="none"/>
<path d="M5021 6251l83-32-70-148-83 46z" fill="#00bbff" stroke="none"/>
<path d="M5036 6077l-2-6-83 46 6 11z" fill="#00fffc" stroke="none"/>
<path d="M5021 6251l83-32-70-148-83 46z" fill="none"/>
<path d="M4938 6312l83-61-70-134-83 15z" fill="#00bbff" stroke="none"/>
<path d="M4957 6128l-6-11-83 15 24 61z" fill="#00fffc" stroke="none"/>
<path d="M4938 6312l83-61-70-134-83 15z" fill="none"/>
<path d="M4855 6322l83-10-70-180-83 32z" fill="#00bbff" stroke="none"/>
<path d="M4892 6193l-24-61-83 32 42 95z" fill="#00fffc" stroke="none"/>
<path d="M4855 6322l83-10-70-180-83 32z" fill="none"/>
<path d="M4772 6366l83-44-70-158-83 78z" fill="#00bbff" stroke="none"/>
<path d="M4827 6259l-42-95-83 78 31 54z" fill="#00fffc" stroke="none"/>
<path d="M4772 6366l83-44-70-158-83 78z" fill="none"/>
<path d="M4689 6405l83-39-70-124-83 4z" fill="#00bbff" stroke="none"/>
<path d="M4733 6296l-31-54-83 4 53 119z" fill="#00fffc" stroke="none"/>
<path d="M4689 6405l83-39-70-124-83 4z" fill="none"/>
<path d="M4606 6394l83 11-70-159-83 3z" fill="#00bbff" stroke="none"/>
<path d="M4606 6394l51 7 15-36-53-119-83 3z" fill="#00fffc" stroke="none"/>
<path d="M4570 6248l-34 1 17 34z" fill="#00ffcc" stroke="none"/>
<path d="M4606 6394l83 11-70-159-83 3z" fill="none"/>
<path d="M4523 6412l83-18-70-145-83 31z" fill="#00fffc" stroke="none"/>
<path d="M4553 6283l-17-34-83 31 39 72z" fill="#00ffcc" stroke="none"/>
<path d="M4523 6412l83-18-70-145-83 31z" fill="none"/>
<path d="M4441 6440l82-28-70-132-83 30z" fill="#00fffc" stroke="none"/>
<path d="M4492 6352l-39-72-83 30 61 111z" fill="#00ffcc" stroke="none"/>
<path d="M4441 6440l82-28-70-132-83 30z" fill="none"/>
<path d="M4358 6466l83-26-71-130-83 6z" fill="#00fffc" stroke="none"/>
<path d="M4358 6466l48-15 25-30-61-111-83 6z" fill="#00ffcc" stroke="none"/>
<path d="M4289 6316l-2 0 1 1z" fill="#00ff85" stroke="none"/>
<path d="M4358 6466l83-26-71-130-83 6z" fill="none"/>
<path d="M4275 6480l83-14-71-150-82 47z" fill="#00ffcc" stroke="none"/>
<path d="M4288 6317l-1-1-82 47 1 3z" fill="#00ff85" stroke="none"/>
<path d="M4275 6480l83-14-71-150-82 47z" fill="none"/>
<path d="M4192 6514l83-34-70-117-83 37z" fill="#00ffcc" stroke="none"/>
<path d="M4206 6366l-1-3-83 37 19 31z" fill="#00ff85" stroke="none"/>
<path d="M4192 6514l83-34-70-117-83 37z" fill="none"/>
<path d="M4109 6539l83-25-70-114-83 30z" fill="#00ffcc" stroke="none"/>
<path d="M4141 6431l-19-31-83 30 51 79z" fill="#00ff85" stroke="none"/>
<path d="M4109 6539l83-25-70-114-83 30z" fill="none"/>
<path d="M4026 6573l83-34-70-109-83 46z" fill="#00ffcc" stroke="none"/>
<path d="M4026 6573l15-6 49-58-51-79-83 46z" fill="#00ff85" stroke="none"/>
<path d="M4026 6573l83-34-70-109-83 46z" fill="none"/>
<path d="M3943 6636l83-63-70-97-83 51z" fill="#00ffcc" stroke="none"/>
<path d="M4011 6585l15-12-70-97-83 51 51 79z" fill="#00ff85" stroke="none"/>
<path d="M3943 6636l83-63-70-97-83 51z" fill="none"/>
<path d="M3860 6707l83-71-70-109-83 66z" fill="#00ffcc" stroke="none"/>
<path d="M3924 6606l-51-79-83 66 19 31z" fill="#00ff85" stroke="none"/>
<path d="M3860 6707l83-71-70-109-83 66z" fill="none"/>
<path d="M3777 6769l83-62-70-114-83 60z" fill="#00ffcc" stroke="none"/>
<path d="M3809 6624l-19-31-83 60 2 3z" fill="#00ff85" stroke="none"/>
<path d="M3777 6769l83-62-70-114-83 60z" fill="none"/>
<path d="M3694 6852l83-83-70-116-83 48z" fill="#00ffcc" stroke="none"/>
<path d="M3709 6656l-2-3-83 48 1 2z" fill="#00ff85" stroke="none"/>
<path d="M3694 6852l83-83-70-116-83 48z" fill="none"/>
<path d="M3612 6922l82-70-70-151-83 91z" fill="#00fffc" stroke="none"/>
<path d="M3646 6893l48-41-70-151-83 91 61 111z" fill="#00ffcc" stroke="none"/>
<path d="M3625 6703l-1-2-1 2z" fill="#00ff85" stroke="none"/>
<path d="M3612 6922l82-70-70-151-83 91z" fill="none"/>
<path d="M3529 6990l83-68-71-130-83 67z" fill="#00fffc" stroke="none"/>
<path d="M3602 6903l-61-111-83 67 39 72z" fill="#00ffcc" stroke="none"/>
<path d="M3529 6990l83-68-71-130-83 67z" fill="none"/>
<path d="M3446 7069l83-79-71-131-82 65z" fill="#00fffc" stroke="none"/>
<path d="M3497 6931l-39-72-82 65 16 34z" fill="#00ffcc" stroke="none"/>
<path d="M3446 7069l83-79-71-131-82 65z" fill="none"/>
<path d="M3363 7176l83-107-70-145-83 94z" fill="#00bbff" stroke="none"/>
<path d="M3395 7134l51-65-70-145-83 94 52 118z" fill="#00fffc" stroke="none"/>
<path d="M3392 6958l-16-34-34 38z" fill="#00ffcc" stroke="none"/>
<path d="M3363 7176l83-107-70-145-83 94z" fill="none"/>
<path d="M3280 7234l83-58-70-158-83 92z" fill="#00bbff" stroke="none"/>
<path d="M3345 7136l-52-118-83 92 30 54z" fill="#00fffc" stroke="none"/>
<path d="M3280 7234l83-58-70-158-83 92z" fill="none"/>
<path d="M3197 7286l83-52-70-124-83 18z" fill="#00bbff" stroke="none"/>
<path d="M3240 7164l-30-54-83 18 42 95z" fill="#00fffc" stroke="none"/>
<path d="M3197 7286l83-52-70-124-83 18z" fill="none"/>
<path d="M3114 7372l83-86-70-158-83 64z" fill="#00bbff" stroke="none"/>
<path d="M3169 7223l-42-95-83 64 24 62z" fill="#00fffc" stroke="none"/>
<path d="M3114 7372l83-86-70-158-83 64z" fill="none"/>
<path d="M3031 7408l83-36-70-180-83 81z" fill="#00bbff" stroke="none"/>
<path d="M3068 7254l-24-62-83 81 6 12z" fill="#00fffc" stroke="none"/>
<path d="M3031 7408l83-36-70-180-83 81z" fill="none"/>
<path d="M2948 7473l83-65-70-135-83 51z" fill="#00bbff" stroke="none"/>
<path d="M2967 7285l-6-12-83 51 3 6z" fill="#00fffc" stroke="none"/>
<path d="M2948 7473l83-65-70-135-83 51z" fill="none"/>
<path d="M2866 7551l82-78-70-149-83 56z" fill="#008bff" stroke="none"/>
<path d="M2901 7517l47-44-70-149-83 56 62 150z" fill="#00bbff" stroke="none"/>
<path d="M2881 7330l-3-6-34 23z" fill="#00fffc" stroke="none"/>
<path d="M2866 7551l82-78-70-149-83 56z" fill="none"/>
<path d="M2783 7561l83-10-71-171-83 58z" fill="#008bff" stroke="none"/>
<path d="M2783 7561l54-6 20-25-62-150-83 58z" fill="#00bbff" stroke="none"/>
<path d="M2783 7561l83-10-71-171-83 58z" fill="none"/>
<path d="M2700 7578l83-17-71-123-83 0z" fill="#00bbff" stroke="none"/>
<path d="M2688 7438l-59 0 33 65z" fill="#00fffc" stroke="none"/>
<path d="M2700 7578l83-17-71-123-83 0z" fill="none"/>
<path d="M2617 7560l83 18-71-140-82-69z" fill="#00bbff" stroke="none"/>
<path d="M2617 7560l34 7 11-64-33-65-82-69z" fill="#00fffc" stroke="none"/>
<path d="M2586 7402l-39-33 31 85z" fill="#00ffcc" stroke="none"/>
<path d="M2617 7560l83 18-71-140-82-69z" fill="none"/>
<path d="M2534 7502l83 58-70-191-83 62z" fill="#00fffc" stroke="none"/>
<path d="M2534 7502l29 20 15-68-31-85-83 62z" fill="#00ffcc" stroke="none"/>
<path d="M2534 7502l83 58-70-191-83 62z" fill="none"/>
<path d="M2451 7460l83 42-70-71-83-8z" fill="#00ffcc" stroke="none"/>
<path d="M2451 7460l29 15-96-52-3 0z" fill="#00ff85" stroke="none"/>
<path d="M2451 7460l83 42-70-71-83-8z" fill="none"/>
<path d="M5588 6059l83-79-70-234-83 126z" fill="#00bbff" stroke="none"/>
<path d="M5646 5894l-45-148-83 126 16 43z" fill="#00fffc" stroke="none"/>
<path d="M5605 5760l-4-14-11 16z" fill="#00ffcc" stroke="none"/>
<path d="M5588 6059l83-79-70-234-83 126z" fill="none"/>
<path d="M5506 6155l82-96-70-187-83 119z" fill="#008bff" stroke="none"/>
<path d="M5582 6066l6-7-70-187-83 119 39 89z" fill="#00bbff" stroke="none"/>
<path d="M5534 5915l-16-43-32 47z" fill="#00fffc" stroke="none"/>
<path d="M5506 6155l82-96-70-187-83 119z" fill="none"/>
<path d="M5423 6224l83-69-71-164-83 80z" fill="#008bff" stroke="none"/>
<path d="M5474 6080l-39-89-83 80 18 38z" fill="#00bbff" stroke="none"/>
<path d="M5423 6224l83-69-71-164-83 80z" fill="none"/>
<path d="M5340 6287l83-63-71-153-82 44z" fill="#008bff" stroke="none"/>
<path d="M5370 6109l-18-38-82 44 16 41z" fill="#00bbff" stroke="none"/>
<path d="M5340 6287l83-63-71-153-82 44z" fill="none"/>
<path d="M5257 6351l83-64-70-172-83 87z" fill="#0044ff" stroke="none"/>
<path d="M5258 6350l82-63-70-172-83 87 70 149z" fill="#008bff" stroke="none"/>
<path d="M5286 6156l-16-41-55 57z" fill="#00bbff" stroke="none"/>
<path d="M5257 6351l83-64-70-172-83 87z" fill="none"/>
<path d="M5174 6379l83-28-70-149-83 17z" fill="#0044ff" stroke="none"/>
<path d="M5174 6379l82-28 1 0-70-149-83 17z" fill="#008bff" stroke="none"/>
<path d="M5151 6209l-47 10 13 30z" fill="#00bbff" stroke="none"/>
<path d="M5174 6379l83-28-70-149-83 17z" fill="none"/>
<path d="M5091 6403l83-24-70-160-83 32z" fill="#008bff" stroke="none"/>
<path d="M5117 6249l-13-30-83 32 28 60z" fill="#00bbff" stroke="none"/>
<path d="M5091 6403l83-24-70-160-83 32z" fill="none"/>
<path d="M5008 6453l83-50-70-152-83 61z" fill="#008bff" stroke="none"/>
<path d="M5049 6311l-28-60-83 61 20 40z" fill="#00bbff" stroke="none"/>
<path d="M5008 6453l83-50-70-152-83 61z" fill="none"/>
<path d="M4925 6471l83-18-70-141-83 10z" fill="#008bff" stroke="none"/>
<path d="M4958 6352l-20-40-83 10 51 107z" fill="#00bbff" stroke="none"/>
<path d="M4925 6471l83-18-70-141-83 10z" fill="none"/>
<path d="M4842 6504l83-33-70-149-83 44z" fill="#008bff" stroke="none"/>
<path d="M4906 6429l-51-107-83 44 63 123z" fill="#00bbff" stroke="none"/>
<path d="M4842 6504l83-33-70-149-83 44z" fill="none"/>
<path d="M4760 6518l82-14-70-138-83 39z" fill="#008bff" stroke="none"/>
<path d="M4760 6518l64-11 11-18-63-123-83 39z" fill="#00bbff" stroke="none"/>
<path d="M4760 6518l82-14-70-138-83 39z" fill="none"/>
<path d="M4677 6545l83-27-71-113-83-11z" fill="#00bbff" stroke="none"/>
<path d="M4657 6401l-51-7 30 65z" fill="#00fffc" stroke="none"/>
<path d="M4677 6545l83-27-71-113-83-11z" fill="none"/>
<path d="M4594 6560l83-15-71-151-83 18z" fill="#00bbff" stroke="none"/>
<path d="M4636 6459l-30-65-83 18 58 121z" fill="#00fffc" stroke="none"/>
<path d="M4594 6560l83-15-71-151-83 18z" fill="none"/>
<path d="M4511 6559l83 1-71-148-82 28z" fill="#00bbff" stroke="none"/>
<path d="M4511 6559l58 1 12-27-58-121-82 28z" fill="#00fffc" stroke="none"/>
<path d="M4511 6559l83 1-71-148-82 28z" fill="none"/>
<path d="M4428 6588l83-29-70-119-83 26z" fill="#00fffc" stroke="none"/>
<path d="M4406 6451l-48 15 16 28z" fill="#00ffcc" stroke="none"/>
<path d="M4428 6588l83-29-70-119-83 26z" fill="none"/>
<path d="M4345 6592l83-4-70-122-83 14z" fill="#00fffc" stroke="none"/>
<path d="M4345 6592l5-1 24-97-16-28-83 14z" fill="#00ffcc" stroke="none"/>
<path d="M4345 6592l83-4-70-122-83 14z" fill="none"/>
<path d="M4262 6629l83-37-70-112-83 34z" fill="#00ffcc"/>
<path d="M4179 6678l83-49-70-115-83 25z" fill="#00ffcc"/>
<path d="M4096 6714l83-36-70-139-83 34z" fill="#00ffcc" stroke="none"/>
<path d="M4041 6567l-15 6 3 5z" fill="#00ff85" stroke="none"/>
<path d="M4096 6714l83-36-70-139-83 34z" fill="none"/>
<path d="M4013 6774l83-60-70-141-83 63z" fill="#00ffcc" stroke="none"/>
<path d="M4029 6578l-3-5-15 12z" fill="#00ff85" stroke="none"/>
<path d="M4013 6774l83-60-70-141-83 63z" fill="none"/>
<path d="M3931 6822l82-48-70-138-83 71z" fill="#00ffcc"/>
<path d="M3848 6881l83-59-71-115-83 62z" fill="#00ffcc"/>
<path d="M3765 6974l83-93-71-112-83 83z" fill="#00fffc" stroke="none"/>
<path d="M3843 6886l5-5-71-112-83 83 17 28z" fill="#00ffcc" stroke="none"/>
<path d="M3765 6974l83-93-71-112-83 83z" fill="none"/>
<path d="M3682 7041l83-67-71-122-82 70z" fill="#00fffc" stroke="none"/>
<path d="M3711 6880l-17-28-48 41z" fill="#00ffcc" stroke="none"/>
<path d="M3682 7041l83-67-71-122-82 70z" fill="none"/>
<path d="M3599 7138l83-97-70-119-83 68z" fill="#00bbff" stroke="none"/>
<path d="M3624 7109l58-68-70-119-83 68 57 121z" fill="#00fffc" stroke="none"/>
<path d="M3599 7138l83-97-70-119-83 68z" fill="none"/>
<path d="M3516 7220l83-82-70-148-83 79z" fill="#00bbff" stroke="none"/>
<path d="M3586 7111l-57-121-83 79 30 65z" fill="#00fffc" stroke="none"/>
<path d="M3516 7220l83-82-70-148-83 79z" fill="none"/>
<path d="M3433 7289l83-69-70-151-83 107z" fill="#00bbff" stroke="none"/>
<path d="M3476 7134l-30-65-51 65z" fill="#00fffc" stroke="none"/>
<path d="M3433 7289l83-69-70-151-83 107z" fill="none"/>
<path d="M3350 7372l83-83-70-113-83 58z" fill="#008bff" stroke="none"/>
<path d="M3369 7353l64-64-70-113-83 58 63 123z" fill="#00bbff" stroke="none"/>
<path d="M3350 7372l83-83-70-113-83 58z" fill="none"/>
<path d="M3267 7436l83-64-70-138-83 52z" fill="#008bff" stroke="none"/>
<path d="M3343 7357l-63-123-83 52 51 107z" fill="#00bbff" stroke="none"/>
<path d="M3267 7436l83-64-70-138-83 52z" fill="none"/>
<path d="M3184 7513l83-77-70-150-83 86z" fill="#008bff" stroke="none"/>
<path d="M3248 7393l-51-107-83 86 20 41z" fill="#00bbff" stroke="none"/>
<path d="M3184 7513l83-77-70-150-83 86z" fill="none"/>
<path d="M3102 7560l82-47-70-141-83 36z" fill="#008bff" stroke="none"/>
<path d="M3134 7413l-20-41-83 36 28 60z" fill="#00bbff" stroke="none"/>
<path d="M3102 7560l82-47-70-141-83 36z" fill="none"/>
<path d="M3019 7633l83-73-71-152-83 65z" fill="#008bff" stroke="none"/>
<path d="M3059 7468l-28-60-83 65 13 29z" fill="#00bbff" stroke="none"/>
<path d="M3019 7633l83-73-71-152-83 65z" fill="none"/>
<path d="M2936 7701l83-68-71-160-82 78z" fill="#0044ff" stroke="none"/>
<path d="M2937 7700l82-67-71-160-82 78 70 150z" fill="#008bff" stroke="none"/>
<path d="M2961 7502l-13-29-47 44z" fill="#00bbff" stroke="none"/>
<path d="M2936 7701l83-68-71-160-82 78z" fill="none"/>
<path d="M2853 7733l83-32-70-150-83 10z" fill="#0044ff" stroke="none"/>
<path d="M2853 7733l82-32 1 0-70-150-83 10z" fill="#008bff" stroke="none"/>
<path d="M2837 7555l-54 6 16 41z" fill="#00bbff" stroke="none"/>
<path d="M2853 7733l83-32-70-150-83 10z" fill="none"/>
<path d="M2770 7735l83-2-70-172-83 17z" fill="#008bff" stroke="none"/>
<path d="M2799 7602l-16-41-83 17 44 98z" fill="#00bbff" stroke="none"/>
<path d="M2770 7735l83-2-70-172-83 17z" fill="none"/>
<path d="M2687 7732l83 3-70-157-83-18z" fill="#008bff" stroke="none"/>
<path d="M2687 7732l29 1 28-57-44-98-83-18z" fill="#00bbff" stroke="none"/>
<path d="M2651 7567l-34-7 18 44z" fill="#00fffc" stroke="none"/>
<path d="M2687 7732l83 3-70-157-83-18z" fill="none"/>
<path d="M2604 7702l83 30-70-172-83-58z" fill="#00bbff" stroke="none"/>
<path d="M2604 7702l1 0 30-98-18-44-83-58z" fill="#00fffc" stroke="none"/>
<path d="M2563 7522l-29-20 20 56z" fill="#00ffcc" stroke="none"/>
<path d="M2604 7702l83 30-70-172-83-58z" fill="none"/>
<path d="M2521 7709l83-7-70-200-83-42z" fill="#00fffc" stroke="none"/>
<path d="M2554 7558l-20-56-83-42 49 175z" fill="#00ffcc" stroke="none"/>
<path d="M2480 7475l-29-15 12 44z" fill="#00ff85" stroke="none"/>
<path d="M2521 7709l83-7-70-200-83-42z" fill="none"/>
<path d="M5659 6180l83-75-71-125-83 79z" fill="#008bff" stroke="none"/>
<path d="M5713 6053l-42-73-83 79 5 8z" fill="#00bbff" stroke="none"/>
<path d="M5659 6180l83-75-71-125-83 79z" fill="none"/>
<path d="M5576 6275l83-95-71-121-82 96z" fill="#0044ff" stroke="none"/>
<path d="M5579 6272l80-92-71-121-82 96 68 116z" fill="#008bff" stroke="none"/>
<path d="M5593 6067l-5-8-6 7z" fill="#00bbff" stroke="none"/>
<path d="M5576 6275l83-95-71-121-82 96z" fill="none"/>
<path d="M5493 6337l83-62-70-120-83 69z" fill="#0044ff" stroke="none"/>
<path d="M5574 6271l-68-116-83 69 46 75z" fill="#008bff" stroke="none"/>
<path d="M5493 6337l83-62-70-120-83 69z" fill="none"/>
<path d="M5410 6385l83-48-70-113-83 63z" fill="#0044ff" stroke="none"/>
<path d="M5469 6299l-46-75-83 63 36 50z" fill="#008bff" stroke="none"/>
<path d="M5410 6385l83-48-70-113-83 63z" fill="none"/>
<path d="M5327 6444l83-59-70-98-83 64z" fill="#0044ff" stroke="none"/>
<path d="M5376 6337l-36-50-82 63z" fill="#008bff" stroke="none"/>
<path d="M5327 6444l83-59-70-98-83 64z" fill="none"/>
<path d="M5244 6511l83-67-70-93-83 28z" fill="#0044ff" stroke="none"/>
<path d="M5256 6351l-82 28 22 41z" fill="#008bff" stroke="none"/>
<path d="M5244 6511l83-67-70-93-83 28z" fill="none"/>
<path d="M5161 6555l83-44-70-132-83 24z" fill="#0044ff" stroke="none"/>
<path d="M5196 6420l-22-41-83 24 36 79z" fill="#008bff" stroke="none"/>
<path d="M5161 6555l83-44-70-132-83 24z" fill="none"/>
<path d="M5078 6599l83-44-70-152-83 50z" fill="#0044ff" stroke="none"/>
<path d="M5127 6482l-36-79-83 50 38 78z" fill="#008bff" stroke="none"/>
<path d="M5078 6599l83-44-70-152-83 50z" fill="none"/>
<path d="M4996 6619l82-20-70-146-83 18z" fill="#0044ff" stroke="none"/>
<path d="M5046 6531l-38-78-83 18 63 132z" fill="#008bff" stroke="none"/>
<path d="M4996 6619l82-20-70-146-83 18z" fill="none"/>
<path d="M4913 6640l83-21-71-148-83 33z" fill="#0044ff" stroke="none"/>
<path d="M4913 6640l56-14 19-23-63-132-83 33z" fill="#008bff" stroke="none"/>
<path d="M4913 6640l83-21-71-148-83 33z" fill="none"/>
<path d="M4830 6666l83-26-71-136-82 14z" fill="#008bff" stroke="none"/>
<path d="M4824 6507l-64 11 23 48z" fill="#00bbff" stroke="none"/>
<path d="M4830 6666l83-26-71-136-82 14z" fill="none"/>
<path d="M4747 6685l83-19-70-148-83 27z" fill="#008bff" stroke="none"/>
<path d="M4783 6566l-23-48-83 27 46 91z" fill="#00bbff" stroke="none"/>
<path d="M4747 6685l83-19-70-148-83 27z" fill="none"/>
<path d="M4664 6693l83-8-70-140-83 15z" fill="#008bff" stroke="none"/>
<path d="M4664 6693l30-3 29-54-46-91-83 15z" fill="#00bbff" stroke="none"/>
<path d="M4664 6693l83-8-70-140-83 15z" fill="none"/>
<path d="M4581 6699l83-6-70-133-83-1z" fill="#00bbff" stroke="none"/>
<path d="M4569 6560l-58-1 33 66z" fill="#00fffc" stroke="none"/>
<path d="M4581 6699l83-6-70-133-83-1z" fill="none"/>
<path d="M4498 6734l83-35-70-140-83 29z" fill="#00bbff" stroke="none"/>
<path d="M4544 6625l-33-66-83 29 47 99z" fill="#00fffc" stroke="none"/>
<path d="M4498 6734l83-35-70-140-83 29z" fill="none"/>
<path d="M4415 6748l83-14-70-146-83 4z" fill="#00bbff" stroke="none"/>
<path d="M4415 6748l21-3 39-58-47-99-83 4z" fill="#00fffc" stroke="none"/>
<path d="M4350 6591l-5 1 2 4z" fill="#00ffcc" stroke="none"/>
<path d="M4415 6748l83-14-70-146-83 4z" fill="none"/>
<path d="M4332 6780l83-32-70-156-83 37z" fill="#00fffc" stroke="none"/>
<path d="M4347 6596l-2-4-83 37 11 24z" fill="#00ffcc" stroke="none"/>
<path d="M4332 6780l83-32-70-156-83 37z" fill="none"/>
<path d="M4249 6826l83-46-70-151-83 49z" fill="#00fffc" stroke="none"/>
<path d="M4273 6653l-11-24-83 49 11 23z" fill="#00ffcc" stroke="none"/>
<path d="M4249 6826l83-46-70-151-83 49z" fill="none"/>
<path d="M4167 6853l82-27-70-148-83 36z" fill="#00fffc" stroke="none"/>
<path d="M4190 6701l-11-23-83 36 24 47z" fill="#00ffcc" stroke="none"/>
<path d="M4167 6853l82-27-70-148-83 36z" fill="none"/>
<path d="M4084 6923l83-70-71-139-83 60z" fill="#00fffc" stroke="none"/>
<path d="M4120 6761l-24-47-83 60 11 23z" fill="#00ffcc" stroke="none"/>
<path d="M4084 6923l83-70-71-139-83 60z" fill="none"/>
<path d="M4001 6973l83-50-71-149-82 48z" fill="#00fffc" stroke="none"/>
<path d="M4024 6797l-11-23-82 48 11 23z" fill="#00ffcc" stroke="none"/>
<path d="M4001 6973l83-50-71-149-82 48z" fill="none"/>
<path d="M3918 7037l83-64-70-151-83 59z" fill="#00fffc" stroke="none"/>
<path d="M3942 6845l-11-23-83 59 2 4z" fill="#00ffcc" stroke="none"/>
<path d="M3918 7037l83-64-70-151-83 59z" fill="none"/>
<path d="M3835 7120l83-83-70-156-83 93z" fill="#00bbff" stroke="none"/>
<path d="M3897 7058l21-21-70-156-83 93 47 98z" fill="#00fffc" stroke="none"/>
<path d="M3850 6885l-2-4-5 5z" fill="#00ffcc" stroke="none"/>
<path d="M3835 7120l83-83-70-156-83 93z" fill="none"/>
<path d="M3752 7181l83-61-70-146-83 67z" fill="#00bbff" stroke="none"/>
<path d="M3812 7072l-47-98-83 67 33 66z" fill="#00fffc" stroke="none"/>
<path d="M3752 7181l83-61-70-146-83 67z" fill="none"/>
<path d="M3669 7272l83-91-70-140-83 97z" fill="#00bbff" stroke="none"/>
<path d="M3715 7107l-33-66-58 68z" fill="#00fffc" stroke="none"/>
<path d="M3669 7272l83-91-70-140-83 97z" fill="none"/>
<path d="M3586 7360l83-88-70-134-83 82z" fill="#008bff" stroke="none"/>
<path d="M3639 7304l30-32-70-134-83 82 46 91z" fill="#00bbff" stroke="none"/>
<path d="M3586 7360l83-88-70-134-83 82z" fill="none"/>
<path d="M3503 7437l83-77-70-140-83 69z" fill="#008bff" stroke="none"/>
<path d="M3562 7311l-46-91-83 69 23 49z" fill="#00bbff" stroke="none"/>
<path d="M3503 7437l83-77-70-140-83 69z" fill="none"/>
<path d="M3421 7507l82-70-70-148-83 83z" fill="#008bff" stroke="none"/>
<path d="M3456 7338l-23-49-64 64z" fill="#00bbff" stroke="none"/>
<path d="M3421 7507l82-70-70-148-83 83z" fill="none"/>
<path d="M3338 7584l83-77-71-135-83 64z" fill="#0044ff" stroke="none"/>
<path d="M3364 7559l57-52-71-135-83 64 63 131z" fill="#008bff" stroke="none"/>
<path d="M3338 7584l83-77-71-135-83 64z" fill="none"/>
<path d="M3255 7660l83-76-71-148-83 77z" fill="#0044ff" stroke="none"/>
<path d="M3330 7567l-63-131-83 77 38 79z" fill="#008bff" stroke="none"/>
<path d="M3255 7660l83-76-71-148-83 77z" fill="none"/>
<path d="M3172 7712l83-52-71-147-82 47z" fill="#0044ff" stroke="none"/>
<path d="M3222 7592l-38-79-82 47 36 79z" fill="#008bff" stroke="none"/>
<path d="M3172 7712l83-52-71-147-82 47z" fill="none"/>
<path d="M3089 7764l83-52-70-152-83 73z" fill="#0044ff" stroke="none"/>
<path d="M3138 7639l-36-79-83 73 21 40z" fill="#008bff" stroke="none"/>
<path d="M3089 7764l83-52-70-152-83 73z" fill="none"/>
<path d="M3006 7794l83-30-70-131-83 68z" fill="#0044ff" stroke="none"/>
<path d="M3040 7673l-21-40-82 67z" fill="#008bff" stroke="none"/>
<path d="M3006 7794l83-30-70-131-83 68z" fill="none"/>
<path d="M2923 7831l83-37-70-93-83 32z" fill="#0044ff" stroke="none"/>
<path d="M2935 7701l-82 32 36 50z" fill="#008bff" stroke="none"/>
<path d="M2923 7831l83-37-70-93-83 32z" fill="none"/>
<path d="M2840 7862l83-31-70-98-83 2z" fill="#0044ff" stroke="none"/>
<path d="M2840 7862l9-3 40-76-36-50-83 2z" fill="#008bff" stroke="none"/>
<path d="M2840 7862l83-31-70-98-83 2z" fill="none"/>
<path d="M2757 7879l83-17-70-127-83-3z" fill="#008bff" stroke="none"/>
<path d="M2716 7733l-29-1 16 32z" fill="#00bbff" stroke="none"/>
<path d="M2757 7879l83-17-70-127-83-3z" fill="none"/>
<path d="M2674 7863l83 16-70-147-83-30z" fill="#008bff" stroke="none"/>
<path d="M2674 7863l2 1 27-100-16-32-83-30z" fill="#00bbff" stroke="none"/>
<path d="M2605 7702l-1 0 1 0z" fill="#00fffc" stroke="none"/>
<path d="M2674 7863l83 16-70-147-83-30z" fill="none"/>
<path d="M2592 7879l82-16-70-161-83 7z" fill="#00bbff" stroke="none"/>
<path d="M2605 7702l-1 0-83 7 28 68z" fill="#00fffc" stroke="none"/>
<path d="M2592 7879l82-16-70-161-83 7z" fill="none"/>
<path d="M5729 6363l83-179-70-79-83 75z" fill="#0044ff" stroke="none"/>
<path d="M5774 6265l38-81-70-79-83 75 27 71z" fill="#008bff" stroke="none"/>
<path d="M5729 6363l83-179-70-79-83 75z" fill="none"/>
<path d="M5646 6393l83-30-70-183-83 95z" fill="#0044ff" stroke="none"/>
<path d="M5686 6251l-27-71-80 92z" fill="#008bff" stroke="none"/>
<path d="M5646 6393l83-30-70-183-83 95z" fill="none"/>
<path d="M5563 6438l83-45-70-118-83 62z" fill="#0044ff"/>
<path d="M5480 6512l83-74-70-101-83 48z" fill="#0044ff"/>
<path d="M5397 6603l83-91-70-127-83 59z" fill="#0014ff" stroke="none"/>
<path d="M5441 6555l39-43-70-127-83 59 53 120z" fill="#0044ff" stroke="none"/>
<path d="M5397 6603l83-91-70-127-83 59z" fill="none"/>
<path d="M5315 6608l82-5-70-159-83 67z" fill="#0014ff" stroke="none"/>
<path d="M5315 6608l39-2 26-42-53-120-83 67z" fill="#0044ff" stroke="none"/>
<path d="M5315 6608l82-5-70-159-83 67z" fill="none"/>
<path d="M5232 6661l83-53-71-97-83 44z" fill="#0044ff"/>
<path d="M5149 6720l83-59-71-106-83 44z" fill="#0044ff"/>
<path d="M5066 6751l83-31-71-121-82 20z" fill="#0044ff"/>
<path d="M4983 6759l83-8-70-132-83 21z" fill="#0044ff" stroke="none"/>
<path d="M4969 6626l-56 14 25 43z" fill="#008bff" stroke="none"/>
<path d="M4983 6759l83-8-70-132-83 21z" fill="none"/>
<path d="M4900 6796l83-37-70-119-83 26z" fill="#0044ff" stroke="none"/>
<path d="M4938 6683l-25-43-83 26 46 85z" fill="#008bff" stroke="none"/>
<path d="M4900 6796l83-37-70-119-83 26z" fill="none"/>
<path d="M4817 6815l83-19-70-130-83 19z" fill="#0044ff" stroke="none"/>
<path d="M4817 6815l21-5 38-59-46-85-83 19z" fill="#008bff" stroke="none"/>
<path d="M4817 6815l83-19-70-130-83 19z" fill="none"/>
<path d="M4734 6837l83-22-70-130-83 8z" fill="#008bff" stroke="none"/>
<path d="M4694 6690l-30 3 13 27z" fill="#00bbff" stroke="none"/>
<path d="M4734 6837l83-22-70-130-83 8z" fill="none"/>
<path d="M4651 6852l83-15-70-144-83 6z" fill="#008bff" stroke="none"/>
<path d="M4677 6720l-13-27-83 6 47 101z" fill="#00bbff" stroke="none"/>
<path d="M4651 6852l83-15-70-144-83 6z" fill="none"/>
<path d="M4568 6868l83-16-70-153-83 35z" fill="#008bff" stroke="none"/>
<path d="M4568 6868l8-2 52-66-47-101-83 35z" fill="#00bbff" stroke="none"/>
<path d="M4568 6868l83-16-70-153-83 35z" fill="none"/>
<path d="M4486 6898l82-30-70-134-83 14z" fill="#00bbff" stroke="none"/>
<path d="M4436 6745l-21 3 8 15z" fill="#00fffc" stroke="none"/>
<path d="M4486 6898l82-30-70-134-83 14z" fill="none"/>
<path d="M4403 6924l83-26-71-150-83 32z" fill="#00bbff" stroke="none"/>
<path d="M4423 6763l-8-15-83 32 23 46z" fill="#00fffc" stroke="none"/>
<path d="M4403 6924l83-26-71-150-83 32z" fill="none"/>
<path d="M4320 6977l83-53-71-144-83 46z" fill="#00bbff" stroke="none"/>
<path d="M4355 6826l-23-46-83 46 23 48z" fill="#00fffc" stroke="none"/>
<path d="M4320 6977l83-53-71-144-83 46z" fill="none"/>
<path d="M4237 7007l83-30-71-151-82 27z" fill="#00bbff" stroke="none"/>
<path d="M4272 6874l-23-48-82 27 38 85z" fill="#00fffc" stroke="none"/>
<path d="M4237 7007l83-30-71-151-82 27z" fill="none"/>
<path d="M4154 7073l83-66-70-154-83 70z" fill="#00bbff" stroke="none"/>
<path d="M4205 6938l-38-85-83 70 22 48z" fill="#00fffc" stroke="none"/>
<path d="M4154 7073l83-66-70-154-83 70z" fill="none"/>
<path d="M4071 7117l83-44-70-150-83 50z" fill="#00bbff" stroke="none"/>
<path d="M4106 6971l-22-48-83 50 22 46z" fill="#00fffc" stroke="none"/>
<path d="M4071 7117l83-44-70-150-83 50z" fill="none"/>
<path d="M3988 7187l83-70-70-144-83 64z" fill="#00bbff" stroke="none"/>
<path d="M4023 7019l-22-46-83 64 7 16z" fill="#00fffc" stroke="none"/>
<path d="M3988 7187l83-70-70-144-83 64z" fill="none"/>
<path d="M3905 7253l83-66-70-150-83 83z" fill="#00bbff" stroke="none"/>
<path d="M3925 7053l-7-16-21 21z" fill="#00fffc" stroke="none"/>
<path d="M3905 7253l83-66-70-150-83 83z" fill="none"/>
<path d="M3822 7334l83-81-70-133-83 61z" fill="#008bff" stroke="none"/>
<path d="M3897 7261l8-8-70-133-83 61 47 101z" fill="#00bbff" stroke="none"/>
<path d="M3822 7334l83-81-70-133-83 61z" fill="none"/>
<path d="M3739 7415l83-81-70-153-83 91z" fill="#008bff" stroke="none"/>
<path d="M3799 7282l-47-101-83 91 13 27z" fill="#00bbff" stroke="none"/>
<path d="M3739 7415l83-81-70-153-83 91z" fill="none"/>
<path d="M3657 7490l82-75-70-143-83 88z" fill="#008bff" stroke="none"/>
<path d="M3682 7299l-13-27-30 32z" fill="#00bbff" stroke="none"/>
<path d="M3657 7490l82-75-70-143-83 88z" fill="none"/>
<path d="M3574 7567l83-77-71-130-83 77z" fill="#0044ff" stroke="none"/>
<path d="M3636 7509l21-19-71-130-83 77 46 85z" fill="#008bff" stroke="none"/>
<path d="M3574 7567l83-77-71-130-83 77z" fill="none"/>
<path d="M3491 7627l83-60-71-130-82 70z" fill="#0044ff" stroke="none"/>
<path d="M3549 7522l-46-85-82 70 25 44z" fill="#008bff" stroke="none"/>
<path d="M3491 7627l83-60-71-130-82 70z" fill="none"/>
<path d="M3408 7715l83-88-70-120-83 77z" fill="#0044ff" stroke="none"/>
<path d="M3446 7551l-25-44-57 52z" fill="#008bff" stroke="none"/>
<path d="M3408 7715l83-88-70-120-83 77z" fill="none"/>
<path d="M3325 7781l83-66-70-131-83 76z" fill="#0044ff"/>
<path d="M3242 7818l83-37-70-121-83 52z" fill="#0044ff"/>
<path d="M3159 7861l83-43-70-106-83 52z" fill="#0044ff"/>
<path d="M3076 7953l83-92-70-97-83 30z" fill="#0014ff" stroke="none"/>
<path d="M3120 7905l39-44-70-97-83 30 53 119z" fill="#0044ff" stroke="none"/>
<path d="M3076 7953l83-92-70-97-83 30z" fill="none"/>
<path d="M2993 7958l83-5-70-159-83 37z" fill="#0014ff" stroke="none"/>
<path d="M2993 7958l39-2 27-43-53-119-83 37z" fill="#0044ff" stroke="none"/>
<path d="M2993 7958l83-5-70-159-83 37z" fill="none"/>
<path d="M2910 7974l83-16-70-127-83 31z" fill="#0044ff" stroke="none"/>
<path d="M2849 7859l-9 3 3 4z" fill="#008bff" stroke="none"/>
<path d="M2910 7974l83-16-70-127-83 31z" fill="none"/>
<path d="M2828 8019l82-45-70-112-83 17z" fill="#0044ff" stroke="none"/>
<path d="M2843 7866l-3-4-83 17 32 63z" fill="#008bff" stroke="none"/>
<path d="M2828 8019l82-45-70-112-83 17z" fill="none"/>
<path d="M2745 8080l83-61-71-140-83-16z" fill="#0044ff" stroke="none"/>
<path d="M2789 7942l-32-63-83-16 46 141z" fill="#008bff" stroke="none"/>
<path d="M2676 7864l-2-1 1 2z" fill="#00bbff" stroke="none"/>
<path d="M2745 8080l83-61-71-140-83-16z" fill="none"/>
<path d="M2662 7995l83 85-71-217-82 16z" fill="#0044ff" stroke="none"/>
<path d="M2662 7995l50 51 8-42-46-141-82 16z" fill="#008bff" stroke="none"/>
<path d="M2675 7865l-1-2-82 16 48 80z" fill="#00bbff" stroke="none"/>
<path d="M2662 7995l83 85-71-217-82 16z" fill="none"/>
<path d="M5799 6436l83-27-70-225-83 179z" fill="#0014ff" stroke="none"/>
<path d="M5799 6436l71-23 11-8-69-221-83 179z" fill="#0044ff" stroke="none"/>
<path d="M5838 6269l-26-85-38 81z" fill="#008bff" stroke="none"/>
<path d="M5799 6436l83-27-70-225-83 179z" fill="none"/>
<path d="M5716 6477l83-41-70-73-83 30z" fill="#0044ff"/>
<path d="M5633 6551l83-74-70-84-83 45z" fill="#0014ff" stroke="none"/>
<path d="M5636 6550l80-73-70-84-83 45 69 112z" fill="#0044ff" stroke="none"/>
<path d="M5633 6551l83-74-70-84-83 45z" fill="none"/>
<path d="M5551 6648l82-97-70-113-83 74z" fill="#0014ff" stroke="none"/>
<path d="M5632 6550l-69-112-83 74 21 40z" fill="#0044ff" stroke="none"/>
<path d="M5551 6648l82-97-70-113-83 74z" fill="none"/>
<path d="M5468 6674l83-26-71-136-83 91z" fill="#0014ff" stroke="none"/>
<path d="M5501 6552l-21-40-39 43z" fill="#0044ff" stroke="none"/>
<path d="M5468 6674l83-26-71-136-83 91z" fill="none"/>
<path d="M5385 6711l83-37-71-71-82 5z" fill="#0014ff" stroke="none"/>
<path d="M5354 6606l-39 2 40 59z" fill="#0044ff" stroke="none"/>
<path d="M5385 6711l83-37-71-71-82 5z" fill="none"/>
<path d="M5302 6756l83-45-70-103-83 53z" fill="#0014ff" stroke="none"/>
<path d="M5355 6667l-40-59-83 53 38 53z" fill="#0044ff" stroke="none"/>
<path d="M5302 6756l83-45-70-103-83 53z" fill="none"/>
<path d="M5219 6800l83-44-70-95-83 59z" fill="#0014ff" stroke="none"/>
<path d="M5270 6714l-38-53-83 59 25 29z" fill="#0044ff" stroke="none"/>
<path d="M5219 6800l83-44-70-95-83 59z" fill="none"/>
<path d="M5136 6860l83-60-70-80-83 31z" fill="#0014ff" stroke="none"/>
<path d="M5174 6749l-25-29-83 31 36 57z" fill="#0044ff" stroke="none"/>
<path d="M5136 6860l83-60-70-80-83 31z" fill="none"/>
<path d="M5053 6881l83-21-70-109-83 8z" fill="#0014ff" stroke="none"/>
<path d="M5053 6881l22-6 27-67-36-57-83 8z" fill="#0044ff" stroke="none"/>
<path d="M5053 6881l83-21-70-109-83 8z" fill="none"/>
<path d="M4970 6907l83-26-70-122-83 37z" fill="#0044ff"/>
<path d="M4887 6950l83-43-70-111-83 19z" fill="#0044ff" stroke="none"/>
<path d="M4838 6810l-21 5 8 14z" fill="#008bff" stroke="none"/>
<path d="M4887 6950l83-43-70-111-83 19z" fill="none"/>
<path d="M4804 6969l83-19-70-135-83 22z" fill="#0044ff" stroke="none"/>
<path d="M4825 6829l-8-14-83 22 37 68z" fill="#008bff" stroke="none"/>
<path d="M4804 6969l83-19-70-135-83 22z" fill="none"/>
<path d="M4722 7000l82-31-70-132-83 15z" fill="#0044ff" stroke="none"/>
<path d="M4771 6905l-37-68-83 15 58 121z" fill="#008bff" stroke="none"/>
<path d="M4722 7000l82-31-70-132-83 15z" fill="none"/>
<path d="M4639 7020l83-20-71-148-83 16z" fill="#0044ff" stroke="none"/>
<path d="M4639 7020l39-9 31-38-58-121-83 16z" fill="#008bff" stroke="none"/>
<path d="M4576 6866l-8 2 3 5z" fill="#00bbff" stroke="none"/>
<path d="M4639 7020l83-20-71-148-83 16z" fill="none"/>
<path d="M4556 7062l83-42-71-152-82 30z" fill="#008bff" stroke="none"/>
<path d="M4571 6873l-3-5-82 30 15 36z" fill="#00bbff" stroke="none"/>
<path d="M4556 7062l83-42-71-152-82 30z" fill="none"/>
<path d="M4473 7090l83-28-70-164-83 26z" fill="#008bff" stroke="none"/>
<path d="M4501 6934l-15-36-83 26 30 72z" fill="#00bbff" stroke="none"/>
<path d="M4473 7090l83-28-70-164-83 26z" fill="none"/>
<path d="M4390 7129l83-39-70-166-83 53z" fill="#008bff" stroke="none"/>
<path d="M4433 6996l-30-72-83 53 32 69z" fill="#00bbff" stroke="none"/>
<path d="M4390 7129l83-39-70-166-83 53z" fill="none"/>
<path d="M4307 7189l83-60-70-152-83 30z" fill="#008bff" stroke="none"/>
<path d="M4352 7046l-32-69-83 30 34 90z" fill="#00bbff" stroke="none"/>
<path d="M4307 7189l83-60-70-152-83 30z" fill="none"/>
<path d="M4224 7225l83-36-70-182-83 66z" fill="#008bff" stroke="none"/>
<path d="M4271 7097l-34-90-83 66 32 69z" fill="#00bbff" stroke="none"/>
<path d="M4224 7225l83-36-70-182-83 66z" fill="none"/>
<path d="M4141 7283l83-58-70-152-83 44z" fill="#008bff" stroke="none"/>
<path d="M4186 7142l-32-69-83 44 31 72z" fill="#00bbff" stroke="none"/>
<path d="M4141 7283l83-58-70-152-83 44z" fill="none"/>
<path d="M4058 7351l83-68-70-166-83 70z" fill="#008bff" stroke="none"/>
<path d="M4102 7189l-31-72-83 70 15 36z" fill="#00bbff" stroke="none"/>
<path d="M4058 7351l83-68-70-166-83 70z" fill="none"/>
<path d="M3975 7406l83-55-70-164-83 66z" fill="#008bff" stroke="none"/>
<path d="M4003 7223l-15-36-83 66 3 6z" fill="#00bbff" stroke="none"/>
<path d="M3975 7406l83-55-70-164-83 66z" fill="none"/>
<path d="M3893 7483l82-77-70-153-83 81z" fill="#0044ff" stroke="none"/>
<path d="M3937 7442l38-36-70-153-83 81 58 121z" fill="#008bff" stroke="none"/>
<path d="M3908 7259l-3-6-8 8z" fill="#00bbff" stroke="none"/>
<path d="M3893 7483l82-77-70-153-83 81z" fill="none"/>
<path d="M3810 7547l83-64-71-149-83 81z" fill="#0044ff" stroke="none"/>
<path d="M3880 7455l-58-121-83 81 37 68z" fill="#008bff" stroke="none"/>
<path d="M3810 7547l83-64-71-149-83 81z" fill="none"/>
<path d="M3727 7625l83-78-71-132-82 75z" fill="#0044ff" stroke="none"/>
<path d="M3776 7483l-37-68-82 75 7 14z" fill="#008bff" stroke="none"/>
<path d="M3727 7625l83-78-71-132-82 75z" fill="none"/>
<path d="M3644 7678l83-53-70-135-83 77z" fill="#0044ff" stroke="none"/>
<path d="M3664 7504l-7-14-21 19z" fill="#008bff" stroke="none"/>
<path d="M3644 7678l83-53-70-135-83 77z" fill="none"/>
<path d="M3561 7749l83-71-70-111-83 60z" fill="#0044ff"/>
<path d="M3478 7824l83-75-70-122-83 88z" fill="#0014ff" stroke="none"/>
<path d="M3539 7769l22-20-70-122-83 88 37 57z" fill="#0044ff" stroke="none"/>
<path d="M3478 7824l83-75-70-122-83 88z" fill="none"/>
<path d="M3395 7861l83-37-70-109-83 66z" fill="#0014ff" stroke="none"/>
<path d="M3445 7772l-37-57-83 66 25 28z" fill="#0044ff" stroke="none"/>
<path d="M3395 7861l83-37-70-109-83 66z" fill="none"/>
<path d="M3312 7913l83-52-70-80-83 37z" fill="#0014ff" stroke="none"/>
<path d="M3350 7809l-25-28-83 37 39 53z" fill="#0044ff" stroke="none"/>
<path d="M3312 7913l83-52-70-80-83 37z" fill="none"/>
<path d="M3229 7964l83-51-70-95-83 43z" fill="#0014ff" stroke="none"/>
<path d="M3281 7871l-39-53-83 43 41 59z" fill="#0044ff" stroke="none"/>
<path d="M3229 7964l83-51-70-95-83 43z" fill="none"/>
<path d="M3147 8024l82-60-70-103-83 92z" fill="#0014ff" stroke="none"/>
<path d="M3200 7920l-41-59-39 44z" fill="#0044ff" stroke="none"/>
<path d="M3147 8024l82-60-70-103-83 92z" fill="none"/>
<path d="M3064 8095l83-71-71-71-83 5z" fill="#0014ff" stroke="none"/>
<path d="M3032 7956l-39 2 21 40z" fill="#0044ff" stroke="none"/>
<path d="M3064 8095l83-71-71-71-83 5z" fill="none"/>
<path d="M2981 8093l83 2-71-137-83 16z" fill="#0014ff" stroke="none"/>
<path d="M2981 8093l1 0 32-95-21-40-83 16z" fill="#0044ff" stroke="none"/>
<path d="M2981 8093l83 2-71-137-83 16z" fill="none"/>
<path d="M2898 8113l83-20-71-119-82 45z" fill="#0044ff"/>
<path d="M2815 8167l83-54-70-94-83 61z" fill="#0044ff"/>
<path d="M2732 8236l83-69-70-87-83-85z" fill="#0044ff" stroke="none"/>
<path d="M2712 8046l-50-51 32 111z" fill="#008bff" stroke="none"/>
<path d="M2732 8236l83-69-70-87-83-85z" fill="none"/>
<path d="M5869 6517l83-84-70-24-83 27z" fill="#0014ff" stroke="none"/>
<path d="M5869 6517l83-84-65-22-17 2-71 23z" fill="#0044ff" stroke="none"/>
<path d="M5869 6517l83-84-70-24-83 27z" fill="none"/>
<path d="M5787 6566l82-49-70-81-83 41z" fill="#0044ff"/>
<path d="M5704 6635l83-69-71-89-83 74z" fill="#0014ff" stroke="none"/>
<path d="M5774 6576l13-10-71-89-80 73z" fill="#0044ff" stroke="none"/>
<path d="M5704 6635l83-69-71-89-83 74z" fill="none"/>
<path d="M5621 6672l83-37-71-84-82 97z" fill="#0014ff"/>
<path d="M5538 6750l83-78-70-24-83 26z" fill="#0014ff"/>
<path d="M5455 6812l83-62-70-76-83 37z" fill="#0014ff"/>
<path d="M5372 6867l83-55-70-101-83 45z" fill="#0014ff"/>
<path d="M5289 6913l83-46-70-111-83 44z" fill="#0014ff"/>
<path d="M5206 6968l83-55-70-113-83 60z" fill="#0014ff"/>
<path d="M5123 6991l83-23-70-108-83 21z" fill="#0014ff" stroke="none"/>
<path d="M5075 6875l-22 6 12 18z" fill="#0044ff" stroke="none"/>
<path d="M5123 6991l83-23-70-108-83 21z" fill="none"/>
<path d="M5041 7026l82-35-70-110-83 26z" fill="#0014ff" stroke="none"/>
<path d="M5065 6899l-12-18-83 26 40 67z" fill="#0044ff" stroke="none"/>
<path d="M5041 7026l82-35-70-110-83 26z" fill="none"/>
<path d="M4958 7062l83-36-71-119-83 43z" fill="#0014ff" stroke="none"/>
<path d="M5010 6974l-40-67-83 43 54 86z" fill="#0044ff" stroke="none"/>
<path d="M4958 7062l83-36-71-119-83 43z" fill="none"/>
<path d="M4875 7093l83-31-71-112-83 19z" fill="#0014ff" stroke="none"/>
<path d="M4875 7093l31-11 35-46-54-86-83 19z" fill="#0044ff" stroke="none"/>
<path d="M4875 7093l83-31-71-112-83 19z" fill="none"/>
<path d="M4792 7128l83-35-71-124-82 31z" fill="#0044ff"/>
<path d="M4709 7165l83-37-70-128-83 20z" fill="#0044ff" stroke="none"/>
<path d="M4678 7011l-39 9 12 25z" fill="#008bff" stroke="none"/>
<path d="M4709 7165l83-37-70-128-83 20z" fill="none"/>
<path d="M4626 7198l83-33-70-145-83 42z" fill="#0044ff" stroke="none"/>
<path d="M4651 7045l-12-25-83 42 20 39z" fill="#008bff" stroke="none"/>
<path d="M4626 7198l83-33-70-145-83 42z" fill="none"/>
<path d="M4543 7234l83-36-70-136-83 28z" fill="#0044ff" stroke="none"/>
<path d="M4576 7101l-20-39-83 28 36 75z" fill="#008bff" stroke="none"/>
<path d="M4543 7234l83-36-70-136-83 28z" fill="none"/>
<path d="M4460 7271l83-37-70-144-83 39z" fill="#0044ff" stroke="none"/>
<path d="M4509 7165l-36-75-83 39 46 93z" fill="#008bff" stroke="none"/>
<path d="M4460 7271l83-37-70-144-83 39z" fill="none"/>
<path d="M4377 7311l83-40-70-142-83 60z" fill="#0044ff" stroke="none"/>
<path d="M4436 7222l-46-93-83 60 48 82z" fill="#008bff" stroke="none"/>
<path d="M4377 7311l83-40-70-142-83 60z" fill="none"/>
<path d="M4294 7368l83-57-70-122-83 36z" fill="#0044ff" stroke="none"/>
<path d="M4355 7271l-48-82-83 36 46 93z" fill="#008bff" stroke="none"/>
<path d="M4294 7368l83-57-70-122-83 36z" fill="none"/>
<path d="M4212 7426l82-58-70-143-83 58z" fill="#0044ff" stroke="none"/>
<path d="M4270 7318l-46-93-83 58 37 74z" fill="#008bff" stroke="none"/>
<path d="M4212 7426l82-58-70-143-83 58z" fill="none"/>
<path d="M4129 7487l83-61-71-143-83 68z" fill="#0044ff" stroke="none"/>
<path d="M4178 7357l-37-74-83 68 20 39z" fill="#008bff" stroke="none"/>
<path d="M4129 7487l83-61-71-143-83 68z" fill="none"/>
<path d="M4046 7551l83-64-71-136-83 55z" fill="#0044ff" stroke="none"/>
<path d="M4078 7390l-20-39-83 55 13 25z" fill="#008bff" stroke="none"/>
<path d="M4046 7551l83-64-71-136-83 55z" fill="none"/>
<path d="M3963 7610l83-59-71-145-82 77z" fill="#0044ff" stroke="none"/>
<path d="M3988 7431l-13-25-38 36z" fill="#008bff" stroke="none"/>
<path d="M3963 7610l83-59-71-145-82 77z" fill="none"/>
<path d="M3880 7672l83-62-70-127-83 64z" fill="#0044ff"/>
<path d="M3797 7737l83-65-70-125-83 78z" fill="#0014ff" stroke="none"/>
<path d="M3849 7696l31-24-70-125-83 78 54 86z" fill="#0044ff" stroke="none"/>
<path d="M3797 7737l83-65-70-125-83 78z" fill="none"/>
<path d="M3714 7797l83-60-70-112-83 53z" fill="#0014ff" stroke="none"/>
<path d="M3781 7711l-54-86-83 53 40 67z" fill="#0044ff" stroke="none"/>
<path d="M3714 7797l83-60-70-112-83 53z" fill="none"/>
<path d="M3631 7858l83-61-70-119-83 71z" fill="#0014ff" stroke="none"/>
<path d="M3684 7745l-40-67-83 71 12 18z" fill="#0044ff" stroke="none"/>
<path d="M3631 7858l83-61-70-119-83 71z" fill="none"/>
<path d="M3548 7932l83-74-70-109-83 75z" fill="#0014ff" stroke="none"/>
<path d="M3573 7767l-12-18-22 20z" fill="#0044ff" stroke="none"/>
<path d="M3548 7932l83-74-70-109-83 75z" fill="none"/>
<path d="M3465 7974l83-42-70-108-83 37z" fill="#0014ff"/>
<path d="M3383 8024l82-50-70-113-83 52z" fill="#0014ff"/>
<path d="M3300 8065l83-41-71-111-83 51z" fill="#0014ff"/>
<path d="M3217 8099l83-34-71-101-82 60z" fill="#0014ff"/>
<path d="M3134 8118l83-19-70-75-83 71z" fill="#0014ff"/>
<path d="M3051 8177l83-59-70-23-83-2z" fill="#0014ff" stroke="none"/>
<path d="M2982 8093l-1 0 3 3z" fill="#0044ff" stroke="none"/>
<path d="M3051 8177l83-59-70-23-83-2z" fill="none"/>
<path d="M2968 8205l83-28-70-84-83 20z" fill="#0014ff" stroke="none"/>
<path d="M2968 8205l14-5 2-104-3-3-83 20z" fill="#0044ff" stroke="none"/>
<path d="M2968 8205l83-28-70-84-83 20z" fill="none"/>
<path d="M2885 8252l83-47-70-92-83 54z" fill="#0044ff"/>
<path d="M2802 8264l83-12-70-85-83 69z" fill="#0044ff"/>
<path d="M5940 6571l83-72-71-66-83 84z" fill="#0044ff"/>
<path d="M5857 6633l83-62-71-54-82 49z" fill="#0044ff"/>
<path d="M5774 6700l83-67-70-67-83 69z" fill="#0014ff" stroke="none"/>
<path d="M5842 6645l15-12-70-67-13 10z" fill="#0044ff" stroke="none"/>
<path d="M5774 6700l83-67-70-67-83 69z" fill="none"/>
<path d="M5691 6774l83-74-70-65-83 37z" fill="#0014ff"/>
<path d="M5608 6830l83-56-70-102-83 78z" fill="#0014ff"/>
<path d="M5525 6893l83-63-70-80-83 62z" fill="#0014ff"/>
<path d="M5442 6938l83-45-70-81-83 55z" fill="#0014ff"/>
<path d="M5359 6995l83-57-70-71-83 46z" fill="#0014ff"/>
<path d="M5277 7048l82-53-70-82-83 55z" fill="#0014ff"/>
<path d="M5194 7067l83-19-71-80-83 23z" fill="#0014ff"/>
<path d="M5111 7130l83-63-71-76-82 35z" fill="#0014ff"/>
<path d="M5028 7177l83-47-70-104-83 36z" fill="#0014ff"/>
<path d="M4945 7195l83-18-70-115-83 31z" fill="#0014ff" stroke="none"/>
<path d="M4906 7082l-31 11 12 19z" fill="#0044ff" stroke="none"/>
<path d="M4945 7195l83-18-70-115-83 31z" fill="none"/>
<path d="M4862 7213l83-18-70-102-83 35z" fill="#0014ff" stroke="none"/>
<path d="M4862 7213l6-2 19-99-12-19-83 35z" fill="#0044ff" stroke="none"/>
<path d="M4862 7213l83-18-70-102-83 35z" fill="none"/>
<path d="M4779 7281l83-68-70-85-83 37z" fill="#0014ff" stroke="none"/>
<path d="M4853 7220l9-7-70-85-83 37 45 73z" fill="#0044ff" stroke="none"/>
<path d="M4779 7281l83-68-70-85-83 37z" fill="none"/>
<path d="M4696 7298l83-17-70-116-83 33z" fill="#0014ff" stroke="none"/>
<path d="M4696 7298l36-8 22-52-45-73-83 33z" fill="#0044ff" stroke="none"/>
<path d="M4696 7298l83-17-70-116-83 33z" fill="none"/>
<path d="M4613 7334l83-36-70-100-83 36z" fill="#0044ff"/>
<path d="M4530 7400l83-66-70-100-83 37z" fill="#0044ff"/>
<path d="M4448 7431l82-31-70-129-83 40z" fill="#0044ff"/>
<path d="M4365 7496l83-65-71-120-83 57z" fill="#0044ff"/>
<path d="M4282 7526l83-30-71-128-82 58z" fill="#0044ff"/>
<path d="M4199 7587l83-61-70-100-83 61z" fill="#0044ff"/>
<path d="M4116 7666l83-79-70-100-83 64z" fill="#0014ff" stroke="none"/>
<path d="M4164 7621l35-34-70-100-83 64 44 73z" fill="#0044ff" stroke="none"/>
<path d="M4116 7666l83-79-70-100-83 64z" fill="none"/>
<path d="M4033 7695l83-29-70-115-83 59z" fill="#0014ff" stroke="none"/>
<path d="M4033 7695l9-3 48-68-44-73-83 59z" fill="#0044ff" stroke="none"/>
<path d="M4033 7695l83-29-70-115-83 59z" fill="none"/>
<path d="M3950 7773l83-78-70-85-83 62z" fill="#0014ff" stroke="none"/>
<path d="M4027 7700l6-5-70-85-83 62 13 18z" fill="#0044ff" stroke="none"/>
<path d="M3950 7773l83-78-70-85-83 62z" fill="none"/>
<path d="M3867 7852l83-79-70-101-83 65z" fill="#0014ff" stroke="none"/>
<path d="M3893 7690l-13-18-31 24z" fill="#0044ff" stroke="none"/>
<path d="M3867 7852l83-79-70-101-83 65z" fill="none"/>
<path d="M3784 7901l83-49-70-115-83 60z" fill="#0014ff"/>
<path d="M3702 7934l82-33-70-104-83 61z" fill="#0014ff"/>
<path d="M3619 8012l83-78-71-76-83 74z" fill="#0014ff"/>
<path d="M3536 8056l83-44-71-80-83 42z" fill="#0014ff"/>
<path d="M3453 8095l83-39-71-82-82 50z" fill="#0014ff"/>
<path d="M3370 8147l83-52-70-71-83 41z" fill="#0014ff"/>
<path d="M3287 8180l83-33-70-82-83 34z" fill="#0014ff"/>
<path d="M3204 8220l83-40-70-81-83 19z" fill="#0014ff"/>
<path d="M3121 8243l83-23-70-102-83 59z" fill="#0014ff"/>
<path d="M3038 8271l83-28-70-66-83 28z" fill="#0014ff" stroke="none"/>
<path d="M3038 8271l16-5-72-66-14 5z" fill="#0044ff" stroke="none"/>
<path d="M3038 8271l83-28-70-66-83 28z" fill="none"/>
<path d="M2955 8306l83-35-70-66-83 47z" fill="#0044ff"/>
<path d="M2873 8331l82-25-70-54-83 12z" fill="#0044ff"/>
<path d="M6010 6620l83-101-70-20-83 72z" fill="#0044ff"/>
<path d="M5927 6662l83-42-70-49-83 62z" fill="#0044ff"/>
<path d="M5844 6776l83-114-70-29-83 67z" fill="#0014ff" stroke="none"/>
<path d="M5875 6733l52-71-70-29-15 12z" fill="#0044ff" stroke="none"/>
<path d="M5844 6776l83-114-70-29-83 67z" fill="none"/>
<path d="M5761 6859l83-83-70-76-83 74z" fill="#0014ff"/>
<path d="M5678 6933l83-74-70-85-83 56z" fill="#0014ff"/>
<path d="M5596 6942l82-9-70-103-83 63z" fill="#0014ff"/>
<path d="M5513 7013l83-71-71-49-83 45z" fill="#0014ff"/>
<path d="M5430 7045l83-32-71-75-83 57z" fill="#0014ff"/>
<path d="M5347 7082l83-37-71-50-82 53z" fill="#0014ff"/>
<path d="M5264 7157l83-75-70-34-83 19z" fill="#0014ff"/>
<path d="M5181 7192l83-35-70-90-83 63z" fill="#0014ff"/>
<path d="M5098 7214l83-22-70-62-83 47z" fill="#0014ff"/>
<path d="M5015 7266l83-52-70-37-83 18z" fill="#0014ff"/>
<path d="M4932 7311l83-45-70-71-83 18z" fill="#0014ff" stroke="none"/>
<path d="M4868 7211l-6 2 5 6z" fill="#0044ff" stroke="none"/>
<path d="M4932 7311l83-45-70-71-83 18z" fill="none"/>
<path d="M4849 7334l83-23-70-98-83 68z" fill="#0014ff" stroke="none"/>
<path d="M4867 7219l-5-6-9 7z" fill="#0044ff" stroke="none"/>
<path d="M4849 7334l83-23-70-98-83 68z" fill="none"/>
<path d="M4767 7380l82-46-70-53-83 17z" fill="#0014ff" stroke="none"/>
<path d="M4732 7290l-36 8 59 69z" fill="#0044ff" stroke="none"/>
<path d="M4767 7380l82-46-70-53-83 17z" fill="none"/>
<path d="M4684 7428l83-48-71-82-83 36z" fill="#0014ff" stroke="none"/>
<path d="M4755 7367l-59-69-83 36 65 86z" fill="#0044ff" stroke="none"/>
<path d="M4684 7428l83-48-71-82-83 36z" fill="none"/>
<path d="M4601 7463l83-35-71-94-83 66z" fill="#0014ff" stroke="none"/>
<path d="M4601 7463l68-29 9-14-65-86-83 66z" fill="#0044ff" stroke="none"/>
<path d="M4601 7463l83-35-71-94-83 66z" fill="none"/>
<path d="M4518 7508l83-45-71-63-82 31z" fill="#0044ff"/>
<path d="M4435 7559l83-51-70-77-83 65z" fill="#0044ff"/>
<path d="M4352 7621l83-62-70-63-83 30z" fill="#0014ff" stroke="none"/>
<path d="M4366 7611l69-52-70-63-83 30 64 87z" fill="#0044ff" stroke="none"/>
<path d="M4352 7621l83-62-70-63-83 30z" fill="none"/>
<path d="M4269 7670l83-49-70-95-83 61z" fill="#0014ff" stroke="none"/>
<path d="M4346 7613l-64-87-83 61 59 69z" fill="#0044ff" stroke="none"/>
<path d="M4269 7670l83-49-70-95-83 61z" fill="none"/>
<path d="M4186 7719l83-49-70-83-83 79z" fill="#0014ff" stroke="none"/>
<path d="M4258 7656l-59-69-35 34z" fill="#0044ff" stroke="none"/>
<path d="M4186 7719l83-49-70-83-83 79z" fill="none"/>
<path d="M4103 7793l83-74-70-53-83 29z" fill="#0014ff" stroke="none"/>
<path d="M4042 7692l-9 3 5 6z" fill="#0044ff" stroke="none"/>
<path d="M4103 7793l83-74-70-53-83 29z" fill="none"/>
<path d="M4020 7844l83-51-70-98-83 78z" fill="#0014ff" stroke="none"/>
<path d="M4038 7701l-5-6-6 5z" fill="#0044ff" stroke="none"/>
<path d="M4020 7844l83-51-70-98-83 78z" fill="none"/>
<path d="M3938 7889l82-45-70-71-83 79z" fill="#0014ff"/>
<path d="M3855 7963l83-74-71-37-83 49z" fill="#0014ff"/>
<path d="M3772 8025l83-62-71-62-82 33z" fill="#0014ff"/>
<path d="M3689 8046l83-21-70-91-83 78z" fill="#0014ff"/>
<path d="M3606 8105l83-59-70-34-83 44z" fill="#0014ff"/>
<path d="M3523 8170l83-65-70-49-83 39z" fill="#0014ff"/>
<path d="M3440 8195l83-25-70-75-83 52z" fill="#0014ff"/>
<path d="M3357 8283l83-88-70-48-83 33z" fill="#0014ff"/>
<path d="M3274 8305l83-22-70-103-83 40z" fill="#0014ff"/>
<path d="M3191 8318l83-13-70-85-83 23z" fill="#0014ff"/>
<path d="M3109 8301l82 17-70-75-83 28z" fill="#0014ff" stroke="none"/>
<path d="M3109 8301l51 11-106-46-16 5z" fill="#0044ff" stroke="none"/>
<path d="M3109 8301l82 17-70-75-83 28z" fill="none"/>
<path d="M3026 8355l83-54-71-30-83 35z" fill="#0044ff"/>
<path d="M2943 8351l83 4-71-49-82 25z" fill="#0044ff"/>
<path d="M6080 6641l83-36-70-86-83 101z" fill="#0044ff"/>
<path d="M5997 6701l83-60-70-21-83 42z" fill="#0044ff"/>
<path d="M5914 6809l83-108-70-39-83 114z" fill="#0014ff" stroke="none"/>
<path d="M5914 6809l83-108-70-39-52 71 21 68z" fill="#0044ff" stroke="none"/>
<path d="M5914 6809l83-108-70-39-83 114z" fill="none"/>
<path d="M5832 6864l82-55-70-33-83 83z" fill="#0014ff" stroke="none"/>
<path d="M5832 6864l82-55-18-8-67 63z" fill="#0044ff" stroke="none"/>
<path d="M5832 6864l82-55-70-33-83 83z" fill="none"/>
<path d="M5749 6910l83-46-71-5-83 74z" fill="#0014ff" stroke="none"/>
<path d="M5749 6910l83-46-3 0-84 47z" fill="#0044ff" stroke="none"/>
<path d="M5749 6910l83-46-71-5-83 74z" fill="none"/>
<path d="M5666 7004l83-94-71 23-82 9z" fill="#0014ff" stroke="none"/>
<path d="M5741 6919l8-9-4 1z" fill="#0044ff" stroke="none"/>
<path d="M5666 7004l83-94-71 23-82 9z" fill="none"/>
<path d="M5583 7043l83-39-70-62-83 71z" fill="#0014ff"/>
<path d="M5500 7091l83-48-70-30-83 32z" fill="#0014ff"/>
<path d="M5417 7141l83-50-70-46-83 37z" fill="#0014ff"/>
<path d="M5334 7195l83-54-70-59-83 75z" fill="#0014ff"/>
<path d="M5251 7213l83-18-70-38-83 35z" fill="#0014ff"/>
<path d="M5168 7260l83-47-70-21-83 22z" fill="#0014ff"/>
<path d="M5085 7292l83-32-70-46-83 52z" fill="#0014ff" stroke="none"/>
<path d="M5085 7292l41-15-54 10z" fill="#0044ff" stroke="none"/>
<path d="M5085 7292l83-32-70-46-83 52z" fill="none"/>
<path d="M5003 7339l82-47-70-26-83 45z" fill="#0014ff" stroke="none"/>
<path d="M5003 7339l82-47-13-5-86 46z" fill="#0044ff" stroke="none"/>
<path d="M5003 7339l82-47-70-26-83 45z" fill="none"/>
<path d="M4920 7365l83-26-71-28-83 23z" fill="#0014ff" stroke="none"/>
<path d="M4920 7365l83-26-17-6-128 4z" fill="#0044ff" stroke="none"/>
<path d="M4920 7365l83-26-71-28-83 23z" fill="none"/>
<path d="M4837 7395l83-30-71-31-82 46z" fill="#0014ff" stroke="none"/>
<path d="M4837 7395l83-30-62-28-88 44z" fill="#0044ff" stroke="none"/>
<path d="M4837 7395l83-30-71-31-82 46z" fill="none"/>
<path d="M4754 7437l83-42-70-15-83 48z" fill="#0014ff" stroke="none"/>
<path d="M4754 7437l83-42-67-14-83 48z" fill="#0044ff" stroke="none"/>
<path d="M4754 7437l83-42-70-15-83 48z" fill="none"/>
<path d="M4671 7476l83-39-70-9-83 35z" fill="#0014ff" stroke="none"/>
<path d="M4671 7476l83-39-67-8-18 5-68 29z" fill="#0044ff" stroke="none"/>
<path d="M4671 7476l83-39-70-9-83 35z" fill="none"/>
<path d="M4588 7528l83-52-70-13-83 45z" fill="#0044ff"/>
<path d="M4505 7573l83-45-70-20-83 51z" fill="#0044ff"/>
<path d="M4422 7629l83-56-70-14-83 62z" fill="#0014ff" stroke="none"/>
<path d="M4422 7629l83-56-70-14-69 52-11 11z" fill="#0044ff" stroke="none"/>
<path d="M4422 7629l83-56-70-14-83 62z" fill="none"/>
<path d="M4339 7685l83-56-70-8-83 49z" fill="#0014ff" stroke="none"/>
<path d="M4339 7685l83-56-67-7-82 48z" fill="#0044ff" stroke="none"/>
<path d="M4339 7685l83-56-70-8-83 49z" fill="none"/>
<path d="M4256 7751l83-66-70-15-83 49z" fill="#0014ff" stroke="none"/>
<path d="M4256 7751l83-66-66-15-79 53z" fill="#0044ff" stroke="none"/>
<path d="M4256 7751l83-66-70-15-83 49z" fill="none"/>
<path d="M4174 7821l82-70-70-32-83 74z" fill="#0014ff" stroke="none"/>
<path d="M4174 7821l82-70-62-28-37 92z" fill="#0044ff" stroke="none"/>
<path d="M4174 7821l82-70-70-32-83 74z" fill="none"/>
<path d="M4091 7871l83-50-71-28-83 51z" fill="#0014ff" stroke="none"/>
<path d="M4091 7871l83-50-17-6-80 51z" fill="#0044ff" stroke="none"/>
<path d="M4091 7871l83-50-71-28-83 51z" fill="none"/>
<path d="M4008 7935l83-64-71-27-82 45z" fill="#0014ff" stroke="none"/>
<path d="M4050 7902l41-31-14-5z" fill="#0044ff" stroke="none"/>
<path d="M4008 7935l83-64-71-27-82 45z" fill="none"/>
<path d="M3925 7984l83-49-70-46-83 74z" fill="#0014ff"/>
<path d="M3842 8062l83-78-70-21-83 62z" fill="#0014ff"/>
<path d="M3759 8105l83-43-70-37-83 21z" fill="#0014ff"/>
<path d="M3676 8152l83-47-70-59-83 59z" fill="#0014ff"/>
<path d="M3593 8199l83-47-70-47-83 65z" fill="#0014ff"/>
<path d="M3510 8257l83-58-70-29-83 25z" fill="#0014ff"/>
<path d="M3428 8260l82-3-70-62-83 88z" fill="#0014ff" stroke="none"/>
<path d="M3428 8260l7 0-11 1z" fill="#0044ff" stroke="none"/>
<path d="M3428 8260l82-3-70-62-83 88z" fill="none"/>
<path d="M3345 8310l83-50-71 23-83 22z" fill="#0014ff" stroke="none"/>
<path d="M3345 8310l83-50-4 1-82 49z" fill="#0044ff" stroke="none"/>
<path d="M3345 8310l83-50-71 23-83 22z" fill="none"/>
<path d="M3262 8352l83-42-71-5-83 13z" fill="#0014ff" stroke="none"/>
<path d="M3262 8352l83-42-3 0-98 33z" fill="#0044ff" stroke="none"/>
<path d="M3262 8352l83-42-71-5-83 13z" fill="none"/>
<path d="M3179 8340l83 12-71-34-82-17z" fill="#0014ff" stroke="none"/>
<path d="M3179 8340l83 12-18-9-84-31-51-11z" fill="#0044ff" stroke="none"/>
<path d="M3179 8340l83 12-71-34-82-17z" fill="none"/>
<path d="M3096 8376l83-36-70-39-83 54z" fill="#0044ff"/>
<path d="M3013 8437l83-61-70-21-83-4z" fill="#0044ff"/>
<path d="M6150 6599l83-36-70 42-83 36z" fill="#0044ff" stroke="none"/>
<path d="M6150 6599l83-36-52 32-91 40z" fill="#008bff" stroke="none"/>
<path d="M6150 6599l83-36-70 42-83 36z" fill="none"/>
<path d="M6068 6756l82-157-70 42-83 60z" fill="#0044ff" stroke="none"/>
<path d="M6079 6734l71-135-60 36z" fill="#008bff" stroke="none"/>
<path d="M6068 6756l82-157-70 42-83 60z" fill="none"/>
<path d="M5985 6816l83-60-71-55-83 108z" fill="#0044ff"/>
<path d="M5902 6879l83-63-71-7-82 55z" fill="#0044ff"/>
<path d="M5819 6997l83-118-70-15-83 46z" fill="#0014ff" stroke="none"/>
<path d="M5838 6970l64-91-70-15-83 46 14 18z" fill="#0044ff" stroke="none"/>
<path d="M5819 6997l83-118-70-15-83 46z" fill="none"/>
<path d="M5736 7017l83-20-70-87-83 94z" fill="#0014ff" stroke="none"/>
<path d="M5736 7017l37-9-10-80-14-18-8 9-21 95z" fill="#0044ff" stroke="none"/>
<path d="M5736 7017l83-20-70-87-83 94z" fill="none"/>
<path d="M5653 7070l83-53-70-13-83 39z" fill="#0014ff" stroke="none"/>
<path d="M5653 7070l83-53-16-3-81 50z" fill="#0044ff" stroke="none"/>
<path d="M5653 7070l83-53-70-13-83 39z" fill="none"/>
<path d="M5570 7128l83-58-70-27-83 48z" fill="#0014ff" stroke="none"/>
<path d="M5587 7116l66-46-14-6z" fill="#0044ff" stroke="none"/>
<path d="M5570 7128l83-58-70-27-83 48z" fill="none"/>
<path d="M5487 7156l83-28-70-37-83 50z" fill="#0014ff" stroke="none"/>
<path d="M5487 7156l75-26-99 21z" fill="#0044ff" stroke="none"/>
<path d="M5487 7156l83-28-70-37-83 50z" fill="none"/>
<path d="M5404 7197l83-41-70-15-83 54z" fill="#0014ff" stroke="none"/>
<path d="M5404 7197l83-41-24-5-86 45z" fill="#0044ff" stroke="none"/>
<path d="M5404 7197l83-41-70-15-83 54z" fill="none"/>
<path d="M5322 7228l82-31-70-2-83 18z" fill="#0014ff" stroke="none"/>
<path d="M5322 7228l82-31-27-1-114 19z" fill="#0044ff" stroke="none"/>
<path d="M5322 7228l82-31-70-2-83 18z" fill="none"/>
<path d="M5239 7266l83-38-71-15-83 47z" fill="#0014ff" stroke="none"/>
<path d="M5239 7266l83-38-59-13-85 46z" fill="#0044ff" stroke="none"/>
<path d="M5239 7266l83-38-71-15-83 47z" fill="none"/>
<path d="M5156 7308l83-42-71-6-83 32z" fill="#0014ff" stroke="none"/>
<path d="M5156 7308l83-42-61-5-52 16-41 15z" fill="#0044ff" stroke="none"/>
<path d="M5156 7308l83-42-71-6-83 32z" fill="none"/>
<path d="M5073 7344l83-36-71-16-82 47z" fill="#0044ff"/>
<path d="M4990 7370l83-26-70-5-83 26z" fill="#0044ff"/>
<path d="M4907 7385l83-15-70-5-83 30z" fill="#0044ff" stroke="none"/>
<path d="M4907 7385l77-14-105 18z" fill="#008bff" stroke="none"/>
<path d="M4907 7385l83-15-70-5-83 30z" fill="none"/>
<path d="M4824 7418l83-33-70 10-83 42z" fill="#0044ff" stroke="none"/>
<path d="M4824 7418l83-33-28 4-93 39z" fill="#008bff" stroke="none"/>
<path d="M4824 7418l83-33-70 10-83 42z" fill="none"/>
<path d="M4741 7432l83-14-70 19-83 39z" fill="#0044ff" stroke="none"/>
<path d="M4741 7432l83-14-38 10-95 36z" fill="#008bff" stroke="none"/>
<path d="M4741 7432l83-14-70 19-83 39z" fill="none"/>
<path d="M4658 7485l83-53-70 44-83 52z" fill="#0044ff" stroke="none"/>
<path d="M4658 7485l83-53-50 32-81 51z" fill="#008bff" stroke="none"/>
<path d="M4658 7485l83-53-70 44-83 52z" fill="none"/>
<path d="M4575 7528l83-43-70 43-83 45z" fill="#0044ff" stroke="none"/>
<path d="M4575 7528l83-43-48 30-85 45z" fill="#008bff" stroke="none"/>
<path d="M4575 7528l83-43-70 43-83 45z" fill="none"/>
<path d="M4493 7611l82-83-70 45-83 56z" fill="#0044ff" stroke="none"/>
<path d="M4493 7611l82-83-50 32-70 61z" fill="#008bff" stroke="none"/>
<path d="M4493 7611l82-83-70 45-83 56z" fill="none"/>
<path d="M4410 7675l83-64-71 18-83 56z" fill="#0044ff" stroke="none"/>
<path d="M4410 7675l83-64-38 10-73 58z" fill="#008bff" stroke="none"/>
<path d="M4410 7675l83-64-71 18-83 56z" fill="none"/>
<path d="M4327 7756l83-81-71 10-83 66z" fill="#0044ff" stroke="none"/>
<path d="M4333 7750l77-75-28 4z" fill="#008bff" stroke="none"/>
<path d="M4327 7756l83-81-71 10-83 66z" fill="none"/>
<path d="M4244 7826l83-70-71-5-82 70z" fill="#0044ff"/>
<path d="M4161 7886l83-60-70-5-83 50z" fill="#0044ff"/>
<path d="M4078 7941l83-55-70-15-83 64z" fill="#0014ff" stroke="none"/>
<path d="M4078 7941l83-55-70-15-41 31-33 34z" fill="#0044ff" stroke="none"/>
<path d="M4078 7941l83-55-70-15-83 64z" fill="none"/>
<path d="M3995 7999l83-58-70-6-83 49z" fill="#0014ff" stroke="none"/>
<path d="M3995 7999l83-58-61-5-80 50z" fill="#0044ff" stroke="none"/>
<path d="M3995 7999l83-58-70-6-83 49z" fill="none"/>
<path d="M3912 8065l83-66-70-15-83 78z" fill="#0014ff" stroke="none"/>
<path d="M3912 8065l83-66-58-13-52 78z" fill="#0044ff" stroke="none"/>
<path d="M3912 8065l83-66-70-15-83 78z" fill="none"/>
<path d="M3829 8120l83-55-70-3-83 43z" fill="#0014ff" stroke="none"/>
<path d="M3829 8120l83-55-27-1-80 51z" fill="#0044ff" stroke="none"/>
<path d="M3829 8120l83-55-70-3-83 43z" fill="none"/>
<path d="M3746 8188l83-68-70-15-83 47z" fill="#0014ff" stroke="none"/>
<path d="M3754 8182l75-62-24-5z" fill="#0044ff" stroke="none"/>
<path d="M3746 8188l83-68-70-15-83 47z" fill="none"/>
<path d="M3664 8227l82-39-70-36-83 47z" fill="#0014ff" stroke="none"/>
<path d="M3664 8227l66-31-80 25z" fill="#0044ff" stroke="none"/>
<path d="M3664 8227l82-39-70-36-83 47z" fill="none"/>
<path d="M3581 8270l83-43-71-28-83 58z" fill="#0014ff" stroke="none"/>
<path d="M3581 8270l83-43-14-6-86 46z" fill="#0044ff" stroke="none"/>
<path d="M3581 8270l83-43-71-28-83 58z" fill="none"/>
<path d="M3498 8347l83-77-71-13-82 3z" fill="#0014ff" stroke="none"/>
<path d="M3544 8304l37-34-17-3-129-7-7 0 14 18z" fill="#0044ff" stroke="none"/>
<path d="M3498 8347l83-77-71-13-82 3z" fill="none"/>
<path d="M3415 8326l83 21-70-87-83 50z" fill="#0014ff" stroke="none"/>
<path d="M3415 8326l64 16-37-64-14-18-83 50z" fill="#0044ff" stroke="none"/>
<path d="M3415 8326l83 21-70-87-83 50z" fill="none"/>
<path d="M3332 8359l83-33-70-16-83 42z" fill="#0044ff"/>
<path d="M3249 8395l83-36-70-7-83-12z" fill="#0044ff"/>
<path d="M3166 8334l83 61-70-55-83 36z" fill="#0044ff" stroke="none"/>
<path d="M3166 8334l72 52-132-16z" fill="#008bff" stroke="none"/>
<path d="M3166 8334l83 61-70-55-83 36z" fill="none"/>
<path d="M3083 8395l83-61-70 42-83 61z" fill="#0044ff" stroke="none"/>
<path d="M3083 8395l83-61-60 36-75 56z" fill="#008bff" stroke="none"/>
<path d="M3083 8395l83-61-70 42-83 61z" fill="none"/>
<path d="M6221 6670l83-111-71 4-83 36z" fill="#008bff" stroke="none"/>
<path d="M6229 6659l75-100-56 3z" fill="#00bbff" stroke="none"/>
<path d="M6221 6670l83-111-71 4-83 36z" fill="none"/>
<path d="M6138 6763l83-93-71-71-82 157z" fill="#0044ff" stroke="none"/>
<path d="M6138 6763l83-93-71-71-71 135 6 24z" fill="#008bff" stroke="none"/>
<path d="M6138 6763l83-93-71-71-82 157z" fill="none"/>
<path d="M6055 6849l83-86-70-7-83 60z" fill="#0044ff" stroke="none"/>
<path d="M6055 6849l83-86-53-5-44 85z" fill="#008bff" stroke="none"/>
<path d="M6055 6849l83-86-70-7-83 60z" fill="none"/>
<path d="M5972 6888l83-39-70-33-83 63z" fill="#0044ff" stroke="none"/>
<path d="M5972 6888l83-39-14-6-88 43z" fill="#008bff" stroke="none"/>
<path d="M5972 6888l83-39-70-33-83 63z" fill="none"/>
<path d="M5889 6977l83-89-70-9-83 118z" fill="#0014ff" stroke="none"/>
<path d="M5889 6977l83-89-70-9-64 91-6 23z" fill="#0044ff" stroke="none"/>
<path d="M5940 6923l32-35-19-2z" fill="#008bff" stroke="none"/>
<path d="M5889 6977l83-89-70-9-83 118z" fill="none"/>
<path d="M5806 7003l83-26-70 20-83 20z" fill="#0014ff" stroke="none"/>
<path d="M5806 7003l83-26-57 16-59 15-37 9z" fill="#0044ff" stroke="none"/>
<path d="M5806 7003l83-26-70 20-83 20z" fill="none"/>
<path d="M5723 7059l83-56-70 14-83 53z" fill="#0044ff"/>
<path d="M5640 7107l83-48-70 11-83 58z" fill="#0014ff" stroke="none"/>
<path d="M5640 7107l83-48-70 11-66 46-15 11z" fill="#0044ff" stroke="none"/>
<path d="M5640 7107l83-48-70 11-83 58z" fill="none"/>
<path d="M5558 7163l82-56-70 21-83 28z" fill="#0014ff" stroke="none"/>
<path d="M5558 7163l82-56-68 20-10 3-75 26z" fill="#0044ff" stroke="none"/>
<path d="M5558 7163l82-56-70 21-83 28z" fill="none"/>
<path d="M5475 7172l83-9-71-7-83 41z" fill="#0044ff" stroke="none"/>
<path d="M5475 7172l45-5-62 11z" fill="#008bff" stroke="none"/>
<path d="M5475 7172l83-9-71-7-83 41z" fill="none"/>
<path d="M5392 7229l83-57-71 25-82 31z" fill="#0044ff" stroke="none"/>
<path d="M5392 7229l83-57-17 6-79 51z" fill="#008bff" stroke="none"/>
<path d="M5392 7229l83-57-71 25-82 31z" fill="none"/>
<path d="M5309 7261l83-32-70-1-83 38z" fill="#0044ff" stroke="none"/>
<path d="M5309 7261l83-32-13 0-98 34z" fill="#008bff" stroke="none"/>
<path d="M5309 7261l83-32-70-1-83 38z" fill="none"/>
<path d="M5226 7276l83-15-70 5-83 42z" fill="#0044ff" stroke="none"/>
<path d="M5226 7276l83-15-28 2-99 33z" fill="#008bff" stroke="none"/>
<path d="M5226 7276l83-15-70 5-83 42z" fill="none"/>
<path d="M5143 7314l83-38-70 32-83 36z" fill="#0044ff" stroke="none"/>
<path d="M5143 7314l83-38-44 20-91 40z" fill="#008bff" stroke="none"/>
<path d="M5143 7314l83-38-70 32-83 36z" fill="none"/>
<path d="M5060 7324l83-10-70 30-83 26z" fill="#0044ff" stroke="none"/>
<path d="M5060 7324l83-10-52 22-100 33z" fill="#008bff" stroke="none"/>
<path d="M5060 7324l31-4-40 10z" fill="#00bbff" stroke="none"/>
<path d="M5060 7324l83-10-70 30-83 26z" fill="none"/>
<path d="M4977 7324l83 0-70 46-83 15z" fill="#0044ff" stroke="none"/>
<path d="M4977 7324l83 0-69 45-7 2-77 14z" fill="#008bff" stroke="none"/>
<path d="M4977 7324l83 0-9 6-108 24z" fill="#00bbff" stroke="none"/>
<path d="M4977 7324l83 0-70 46-83 15z" fill="none"/>
<path d="M4894 7338l83-14-70 61-83 33z" fill="#008bff" stroke="none"/>
<path d="M4894 7338l83-14-34 30-95 37z" fill="#00bbff" stroke="none"/>
<path d="M4894 7338l3 0-3 1z" fill="#00fffc" stroke="none"/>
<path d="M4894 7338l83-14-70 61-83 33z" fill="none"/>
<path d="M4811 7376l83-38-70 80-83 14z" fill="#008bff" stroke="none"/>
<path d="M4811 7376l83-38-46 53-98 34z" fill="#00bbff" stroke="none"/>
<path d="M4811 7376l83-38 0 1-89 42z" fill="#00fffc" stroke="none"/>
<path d="M4811 7376l83-38-70 80-83 14z" fill="none"/>
<path d="M4729 7419l82-43-70 56-83 53z" fill="#008bff" stroke="none"/>
<path d="M4729 7419l82-43-61 49-81 50z" fill="#00bbff" stroke="none"/>
<path d="M4729 7419l82-43-6 5-85 46z" fill="#00fffc" stroke="none"/>
<path d="M4729 7419l82-43-70 56-83 53z" fill="none"/>
<path d="M4646 7472l83-53-71 66-83 43z" fill="#008bff" stroke="none"/>
<path d="M4646 7472l83-53-60 56-85 46z" fill="#00bbff" stroke="none"/>
<path d="M4646 7472l83-53-9 8-81 51z" fill="#00fffc" stroke="none"/>
<path d="M4646 7472l83-53-71 66-83 43z" fill="none"/>
<path d="M4563 7531l83-59-71 56-82 83z" fill="#008bff" stroke="none"/>
<path d="M4563 7531l83-59-62 49-68 63z" fill="#00bbff" stroke="none"/>
<path d="M4563 7531l83-59-7 6-77 53z" fill="#00fffc" stroke="none"/>
<path d="M4563 7531l83-59-71 56-82 83z" fill="none"/>
<path d="M4480 7613l83-82-70 80-83 64z" fill="#008bff" stroke="none"/>
<path d="M4480 7613l83-82-47 53-70 59z" fill="#00bbff" stroke="none"/>
<path d="M4560 7534l3-3-1 0z" fill="#00fffc" stroke="none"/>
<path d="M4480 7613l83-82-70 80-83 64z" fill="none"/>
<path d="M4397 7710l83-97-70 62-83 81z" fill="#0044ff" stroke="none"/>
<path d="M4397 7710l83-97-70 62-77 75-5 5z" fill="#008bff" stroke="none"/>
<path d="M4397 7710l83-97-34 30-58 73z" fill="#00bbff" stroke="none"/>
<path d="M4397 7710l83-97-70 62-83 81z" fill="none"/>
<path d="M4314 7796l83-86-70 46-83 70z" fill="#0044ff" stroke="none"/>
<path d="M4314 7796l83-86-69 45-66 63z" fill="#008bff" stroke="none"/>
<path d="M4366 7742l31-32-9 6z" fill="#00bbff" stroke="none"/>
<path d="M4314 7796l83-86-70 46-83 70z" fill="none"/>
<path d="M4231 7854l83-58-70 30-83 60z" fill="#0044ff" stroke="none"/>
<path d="M4231 7854l83-58-52 22-75 56z" fill="#008bff" stroke="none"/>
<path d="M4231 7854l83-58-70 30-83 60z" fill="none"/>
<path d="M4148 7936l83-82-70 32-83 55z" fill="#0044ff" stroke="none"/>
<path d="M4148 7936l83-82-44 20-67 64z" fill="#008bff" stroke="none"/>
<path d="M4148 7936l83-82-70 32-83 55z" fill="none"/>
<path d="M4065 8001l83-65-70 5-83 58z" fill="#0044ff" stroke="none"/>
<path d="M4065 8001l83-65-28 2-68 62z" fill="#008bff" stroke="none"/>
<path d="M4065 8001l83-65-70 5-83 58z" fill="none"/>
<path d="M3983 8039l82-38-70-2-83 66z" fill="#0044ff" stroke="none"/>
<path d="M3983 8039l82-38-13-1-86 45z" fill="#008bff" stroke="none"/>
<path d="M3983 8039l82-38-70-2-83 66z" fill="none"/>
<path d="M3900 8127l83-88-71 26-83 55z" fill="#0044ff" stroke="none"/>
<path d="M3937 8087l46-48-17 6z" fill="#008bff" stroke="none"/>
<path d="M3900 8127l83-88-71 26-83 55z" fill="none"/>
<path d="M3817 8168l83-41-71-7-83 68z" fill="#0014ff" stroke="none"/>
<path d="M3817 8168l83-41-71-7-75 62-6 6z" fill="#0044ff" stroke="none"/>
<path d="M3817 8168l83-41-71-7-83 68z" fill="none"/>
<path d="M3734 8216l83-48-71 20-82 39z" fill="#0014ff" stroke="none"/>
<path d="M3734 8216l83-48-69 20-18 8-66 31z" fill="#0044ff" stroke="none"/>
<path d="M3734 8216l83-48-71 20-82 39z" fill="none"/>
<path d="M3651 8256l83-40-70 11-83 43z" fill="#0044ff"/>
<path d="M3568 8326l83-70-70 14-83 77z" fill="#0014ff" stroke="none"/>
<path d="M3568 8326l83-70-70 14-37 34-33 39z" fill="#0044ff" stroke="none"/>
<path d="M3568 8326l83-70-70 14-83 77z" fill="none"/>
<path d="M3485 8335l83-9-70 21-83-21z" fill="#0014ff" stroke="none"/>
<path d="M3485 8335l83-9-57 17-32-1-64-16z" fill="#0044ff" stroke="none"/>
<path d="M3485 8335l33-4-52 1z" fill="#008bff" stroke="none"/>
<path d="M3485 8335l83-9-70 21-83-21z" fill="none"/>
<path d="M3402 8392l83-57-70-9-83 33z" fill="#0044ff" stroke="none"/>
<path d="M3402 8392l83-57-19-3-77 54z" fill="#008bff" stroke="none"/>
<path d="M3402 8392l83-57-70-9-83 33z" fill="none"/>
<path d="M3319 8402l83-10-70-33-83 36z" fill="#0044ff" stroke="none"/>
<path d="M3319 8402l83-10-13-6-122 11z" fill="#008bff" stroke="none"/>
<path d="M3319 8402l83-10-70-33-83 36z" fill="none"/>
<path d="M3236 8406l83-4-70-7-83-61z" fill="#0044ff" stroke="none"/>
<path d="M3236 8406l83-4-52-5-29-11-72-52z" fill="#008bff" stroke="none"/>
<path d="M3236 8406l83-4-70-7-83-61z" fill="none"/>
<path d="M3154 8391l82 15-70-72-83 61z" fill="#008bff" stroke="none"/>
<path d="M3154 8391l74 13-130-10z" fill="#00bbff" stroke="none"/>
<path d="M3154 8391l82 15-70-72-83 61z" fill="none"/>
<path d="M6291 6642l83-111-70 28-83 111z" fill="#008bff" stroke="none"/>
<path d="M6291 6642l83-111-70 28-75 100-3 9z" fill="#00bbff" stroke="none"/>
<path d="M6301 6629l73-98-41 16z" fill="#00fffc" stroke="none"/>
<path d="M6291 6642l83-111-70 28-83 111z" fill="none"/>
<path d="M6208 6747l83-105-70 28-83 93z" fill="#008bff" stroke="none"/>
<path d="M6208 6747l83-105-65 26-45 85z" fill="#00bbff" stroke="none"/>
<path d="M6208 6747l83-105-70 28-83 93z" fill="none"/>
<path d="M6125 6831l83-84-70 16-83 86z" fill="#008bff" stroke="none"/>
<path d="M6135 6821l73-74-27 6z" fill="#00bbff" stroke="none"/>
<path d="M6125 6831l83-84-70 16-83 86z" fill="none"/>
<path d="M6042 6922l83-91-70 18-83 39z" fill="#008bff"/>
<path d="M5959 6934l83-12-70-34-83 89z" fill="#0044ff" stroke="none"/>
<path d="M5959 6934l83-12-70-34-32 35-35 44z" fill="#008bff" stroke="none"/>
<path d="M5959 6934l83-12-70-34-83 89z" fill="none"/>
<path d="M5877 7001l82-67-70 43-83 26z" fill="#0044ff" stroke="none"/>
<path d="M5877 7001l82-67-54 33-96 36z" fill="#008bff" stroke="none"/>
<path d="M5877 7001l82-67-70 43-83 26z" fill="none"/>
<path d="M5794 7028l83-27-71 2-83 56z" fill="#0044ff" stroke="none"/>
<path d="M5794 7028l83-27-68 2-78 53z" fill="#008bff" stroke="none"/>
<path d="M5794 7028l83-27-71 2-83 56z" fill="none"/>
<path d="M5711 7086l83-58-71 31-83 48z" fill="#0044ff" stroke="none"/>
<path d="M5711 7086l83-58-63 28-82 49z" fill="#008bff" stroke="none"/>
<path d="M5711 7086l83-58-71 31-83 48z" fill="none"/>
<path d="M5628 7127l83-41-71 21-82 56z" fill="#0044ff" stroke="none"/>
<path d="M5628 7127l83-41-62 19-79 52z" fill="#008bff" stroke="none"/>
<path d="M5628 7127l83-41-71 21-82 56z" fill="none"/>
<path d="M5545 7168l83-41-70 36-83 9z" fill="#0044ff" stroke="none"/>
<path d="M5545 7168l83-41-58 30-50 10-45 5z" fill="#008bff" stroke="none"/>
<path d="M5545 7168l83-41-70 36-83 9z" fill="none"/>
<path d="M5462 7197l83-29-70 4-83 57z" fill="#008bff" stroke="none"/>
<path d="M5462 7197l65-23-76 28z" fill="#00bbff" stroke="none"/>
<path d="M5462 7197l83-29-70 4-83 57z" fill="none"/>
<path d="M5379 7225l83-28-70 32-83 32z" fill="#008bff" stroke="none"/>
<path d="M5379 7225l83-28-11 5-96 36z" fill="#00bbff" stroke="none"/>
<path d="M5379 7225l83-28-70 32-83 32z" fill="none"/>
<path d="M5296 7239l83-14-70 36-83 15z" fill="#008bff" stroke="none"/>
<path d="M5296 7239l83-14-24 13-106 26z" fill="#00bbff" stroke="none"/>
<path d="M5296 7239l83-14-70 36-83 15z" fill="none"/>
<path d="M5213 7266l83-27-70 37-83 38z" fill="#008bff" stroke="none"/>
<path d="M5213 7266l83-27-47 25-91 40z" fill="#00bbff" stroke="none"/>
<path d="M5213 7266l83-27-70 37-83 38z" fill="none"/>
<path d="M5130 7257l83 9-70 48-83 10z" fill="#008bff" stroke="none"/>
<path d="M5130 7257l83 9-55 38-67 16-31 4z" fill="#00bbff" stroke="none"/>
<path d="M5130 7257l76 9-103 18z" fill="#00fffc" stroke="none"/>
<path d="M5130 7257l83 9-70 48-83 10z" fill="none"/>
<path d="M5048 7240l82 17-70 67-83 0z" fill="#00bbff" stroke="none"/>
<path d="M5048 7240l82 17-27 27-110 22z" fill="#00fffc" stroke="none"/>
<path d="M5048 7240l28 6-39 6z" fill="#00ffcc" stroke="none"/>
<path d="M5048 7240l82 17-70 67-83 0z" fill="none"/>
<path d="M4965 7245l83-5-71 84-83 14z" fill="#00bbff" stroke="none"/>
<path d="M4965 7245l83-5-55 66-96 32-3 0z" fill="#00fffc" stroke="none"/>
<path d="M4965 7245l83-5-11 12-101 31z" fill="#00ffcc" stroke="none"/>
<path d="M4965 7245l83-5-71 84-83 14z" fill="none"/>
<path d="M4882 7268l83-23-71 93-83 38z" fill="#00fffc" stroke="none"/>
<path d="M4882 7268l83-23-29 38-91 41z" fill="#00ffcc" stroke="none"/>
<path d="M4882 7268l83-23-71 93-83 38z" fill="none"/>
<path d="M4799 7289l83-21-71 108-82 43z" fill="#00fffc" stroke="none"/>
<path d="M4799 7289l83-21-37 56-88 43z" fill="#00ffcc" stroke="none"/>
<path d="M4799 7289l67-17-75 32z" fill="#00ff85" stroke="none"/>
<path d="M4799 7289l83-21-71 108-82 43z" fill="none"/>
<path d="M4716 7364l83-75-70 130-83 53z" fill="#00fffc" stroke="none"/>
<path d="M4716 7364l83-75-42 78-77 53z" fill="#00ffcc" stroke="none"/>
<path d="M4732 7350l67-61-8 15z" fill="#00ff85" stroke="none"/>
<path d="M4716 7364l83-75-70 130-83 53z" fill="none"/>
<path d="M4633 7438l83-74-70 108-83 59z" fill="#00fffc" stroke="none"/>
<path d="M4633 7438l83-74-36 56-76 56z" fill="#00ffcc" stroke="none"/>
<path d="M4633 7438l83-74-70 108-83 59z" fill="none"/>
<path d="M4550 7529l83-91-70 93-83 82z" fill="#00bbff" stroke="none"/>
<path d="M4550 7529l83-91-70 93-3 3-65 61z" fill="#00fffc" stroke="none"/>
<path d="M4550 7529l83-91-29 38-64 65z" fill="#00ffcc" stroke="none"/>
<path d="M4550 7529l83-91-70 93-83 82z" fill="none"/>
<path d="M4467 7643l83-114-70 84-83 97z" fill="#00bbff" stroke="none"/>
<path d="M4467 7643l83-114-55 66-55 74z" fill="#00fffc" stroke="none"/>
<path d="M4522 7568l28-39-10 12z" fill="#00ffcc" stroke="none"/>
<path d="M4467 7643l83-114-70 84-83 97z" fill="none"/>
<path d="M4384 7748l83-105-70 67-83 86z" fill="#008bff" stroke="none"/>
<path d="M4384 7748l83-105-70 67-31 32-37 44z" fill="#00bbff" stroke="none"/>
<path d="M4391 7739l76-96-27 26z" fill="#00fffc" stroke="none"/>
<path d="M4384 7748l83-105-70 67-83 86z" fill="none"/>
<path d="M4301 7818l83-70-70 48-83 58z" fill="#008bff" stroke="none"/>
<path d="M4301 7818l83-70-55 38-75 56z" fill="#00bbff" stroke="none"/>
<path d="M4301 7818l83-70-70 48-83 58z" fill="none"/>
<path d="M4219 7900l82-82-70 36-83 82z" fill="#008bff" stroke="none"/>
<path d="M4219 7900l82-82-47 24-60 71z" fill="#00bbff" stroke="none"/>
<path d="M4219 7900l82-82-70 36-83 82z" fill="none"/>
<path d="M4136 7968l83-68-71 36-83 65z" fill="#008bff" stroke="none"/>
<path d="M4136 7968l83-68-25 13-69 60z" fill="#00bbff" stroke="none"/>
<path d="M4136 7968l83-68-71 36-83 65z" fill="none"/>
<path d="M4053 8036l83-68-71 33-82 38z" fill="#008bff" stroke="none"/>
<path d="M4070 8022l66-54-11 5z" fill="#00bbff" stroke="none"/>
<path d="M4053 8036l83-68-71 33-82 38z" fill="none"/>
<path d="M3970 8091l83-55-70 3-83 88z" fill="#0044ff" stroke="none"/>
<path d="M3970 8091l83-55-70 3-46 48-25 34z" fill="#008bff" stroke="none"/>
<path d="M3970 8091l83-55-70 3-83 88z" fill="none"/>
<path d="M3887 8146l83-55-70 36-83 41z" fill="#0044ff" stroke="none"/>
<path d="M3887 8146l83-55-58 30-87 44z" fill="#008bff" stroke="none"/>
<path d="M3887 8146l83-55-70 36-83 41z" fill="none"/>
<path d="M3804 8184l83-38-70 22-83 48z" fill="#0044ff" stroke="none"/>
<path d="M3804 8184l83-38-62 19-84 48z" fill="#008bff" stroke="none"/>
<path d="M3804 8184l83-38-70 22-83 48z" fill="none"/>
<path d="M3721 8254l83-70-70 32-83 40z" fill="#0044ff" stroke="none"/>
<path d="M3721 8254l83-70-63 29-87 43z" fill="#008bff" stroke="none"/>
<path d="M3721 8254l83-70-70 32-83 40z" fill="none"/>
<path d="M3638 8284l83-30-70 2-83 70z" fill="#0044ff" stroke="none"/>
<path d="M3638 8284l83-30-67 2-70 61z" fill="#008bff" stroke="none"/>
<path d="M3638 8284l83-30-70 2-83 70z" fill="none"/>
<path d="M3555 8368l83-84-70 42-83 9z" fill="#0044ff" stroke="none"/>
<path d="M3555 8368l83-84-54 33-66 14-33 4z" fill="#008bff" stroke="none"/>
<path d="M3555 8368l83-84-70 42-83 9z" fill="none"/>
<path d="M3472 8374l83-6-70-33-83 57z" fill="#008bff"/>
<path d="M3390 8386l82-12-70 18-83 10z" fill="#008bff" stroke="none"/>
<path d="M3390 8386l73-11-100 17z" fill="#00bbff" stroke="none"/>
<path d="M3390 8386l82-12-70 18-83 10z" fill="none"/>
<path d="M3307 8378l83 8-71 16-83 4z" fill="#008bff" stroke="none"/>
<path d="M3307 8378l83 8-27 6-122 12z" fill="#00bbff" stroke="none"/>
<path d="M3307 8378l83 8-71 16-83 4z" fill="none"/>
<path d="M3224 8363l83 15-71 28-82-15z" fill="#008bff" stroke="none"/>
<path d="M3224 8363l83 15-66 26-13 0-74-13z" fill="#00bbff" stroke="none"/>
<path d="M3224 8363l73 13-114 3z" fill="#00fffc" stroke="none"/>
<path d="M3224 8363l83 15-71 28-82-15z" fill="none"/>
<path d="M6361 6588l83-22-70-35-83 111z" fill="#00bbff" stroke="none"/>
<path d="M6361 6588l83-22-70-35-73 98-6 10z" fill="#00fffc" stroke="none"/>
<path d="M6361 6588l56-14-66 22z" fill="#00ffcc" stroke="none"/>
<path d="M6361 6588l83-22-70-35-83 111z" fill="none"/>
<path d="M6278 6766l83-178-70 54-83 105z" fill="#00bbff" stroke="none"/>
<path d="M6289 6744l72-156-66 51z" fill="#00fffc" stroke="none"/>
<path d="M6350 6612l11-24-10 8z" fill="#00ffcc" stroke="none"/>
<path d="M6278 6766l83-178-70 54-83 105z" fill="none"/>
<path d="M6195 6781l83-15-70-19-83 84z" fill="#008bff" stroke="none"/>
<path d="M6195 6781l83-15-70-19-73 74-7 8z" fill="#00bbff" stroke="none"/>
<path d="M6195 6781l43-8-53 15z" fill="#00fffc" stroke="none"/>
<path d="M6195 6781l83-15-70-19-83 84z" fill="none"/>
<path d="M6113 6854l82-73-70 50-83 91z" fill="#008bff" stroke="none"/>
<path d="M6113 6854l82-73-67 48-61 69z" fill="#00bbff" stroke="none"/>
<path d="M6138 6831l57-50-10 7z" fill="#00fffc" stroke="none"/>
<path d="M6113 6854l82-73-70 50-83 91z" fill="none"/>
<path d="M6030 6956l83-102-71 68-83 12z" fill="#008bff" stroke="none"/>
<path d="M6030 6956l83-102-46 44-91 41z" fill="#00bbff" stroke="none"/>
<path d="M6030 6956l83-102-71 68-83 12z" fill="none"/>
<path d="M5947 7002l83-46-71-22-82 67z" fill="#008bff" stroke="none"/>
<path d="M5947 7002l83-46-54-17-68 62z" fill="#00bbff" stroke="none"/>
<path d="M5947 7002l83-46-71-22-82 67z" fill="none"/>
<path d="M5864 7031l83-29-70-1-83 27z" fill="#008bff" stroke="none"/>
<path d="M5864 7031l83-29-39-1-106 27z" fill="#00bbff" stroke="none"/>
<path d="M5864 7031l83-29-70-1-83 27z" fill="none"/>
<path d="M5781 7086l83-55-70-3-83 58z" fill="#008bff" stroke="none"/>
<path d="M5781 7086l83-55-62-3-72 58z" fill="#00bbff" stroke="none"/>
<path d="M5781 7086l83-55-70-3-83 58z" fill="none"/>
<path d="M5698 7134l83-48-70 0-83 41z" fill="#008bff" stroke="none"/>
<path d="M5698 7134l83-48-51 0-89 43z" fill="#00bbff" stroke="none"/>
<path d="M5698 7134l83-48-70 0-83 41z" fill="none"/>
<path d="M5615 7171l83-37-70-7-83 41z" fill="#008bff" stroke="none"/>
<path d="M5615 7171l83-37-57-5-92 40z" fill="#00bbff" stroke="none"/>
<path d="M5615 7171l83-37-70-7-83 41z" fill="none"/>
<path d="M5532 7193l83-22-70-3-83 29z" fill="#008bff" stroke="none"/>
<path d="M5532 7193l83-22-66-2-22 5-65 23z" fill="#00bbff" stroke="none"/>
<path d="M5532 7193l83-22-70-3-83 29z" fill="none"/>
<path d="M5449 7216l83-23-70 4-83 28z" fill="#00bbff" stroke="none"/>
<path d="M5449 7216l52-14-66 16z" fill="#00fffc" stroke="none"/>
<path d="M5449 7216l83-23-70 4-83 28z" fill="none"/>
<path d="M5366 7229l83-13-70 9-83 14z" fill="#00bbff" stroke="none"/>
<path d="M5366 7229l83-13-14 2-115 18z" fill="#00fffc" stroke="none"/>
<path d="M5366 7229l83-13-70 9-83 14z" fill="none"/>
<path d="M5284 7221l82 8-70 10-83 27z" fill="#00bbff" stroke="none"/>
<path d="M5284 7221l82 8-46 7-104 28z" fill="#00fffc" stroke="none"/>
<path d="M5284 7221l16 2-23 3z" fill="#00ffcc" stroke="none"/>
<path d="M5284 7221l82 8-70 10-83 27z" fill="none"/>
<path d="M5201 7213l83 8-71 45-83-9z" fill="#00bbff" stroke="none"/>
<path d="M5201 7213l83 8-68 43-10 2-76-9z" fill="#00fffc" stroke="none"/>
<path d="M5201 7213l83 8-7 5-119 14z" fill="#00ffcc" stroke="none"/>
<path d="M5201 7213l83 8-71 45-83-9z" fill="none"/>
<path d="M5118 7170l83 43-71 44-82-17z" fill="#00fffc" stroke="none"/>
<path d="M5118 7170l83 43-43 27-82 6-28-6z" fill="#00ffcc" stroke="none"/>
<path d="M5118 7170l57 30-90 2z" fill="#00ff85" stroke="none"/>
<path d="M5118 7170l83 43-71 44-82-17z" fill="none"/>
<path d="M5035 7160l83 10-70 70-83 5z" fill="#00ffcc" stroke="none"/>
<path d="M5035 7160l83 10-33 32-106 26z" fill="#00ff85" stroke="none"/>
<path d="M5035 7160l36 4-48 10z" fill="#00ff55" stroke="none"/>
<path d="M5035 7160l83 10-70 70-83 5z" fill="none"/>
<path d="M4952 7147l83 13-70 85-83 23z" fill="#00ffcc" stroke="none"/>
<path d="M4952 7147l83 13-56 68-95 37z" fill="#00ff85" stroke="none"/>
<path d="M4952 7147l83 13-12 14-103 29z" fill="#00ff55" stroke="none"/>
<path d="M4952 7147l83 13-70 85-83 23z" fill="none"/>
<path d="M4869 7156l83-9-70 121-83 21z" fill="#00ffcc" stroke="none"/>
<path d="M4869 7156l83-9-68 118-18 7-67 17z" fill="#00ff85" stroke="none"/>
<path d="M4869 7156l83-9-32 56-95 37z" fill="#00ff55" stroke="none"/>
<path d="M4869 7156l64-7-74 27z" fill="#00ff0e" stroke="none"/>
<path d="M4869 7156l83-9-70 121-83 21z" fill="none"/>
<path d="M4786 7243l83-87-70 133-83 75z" fill="#00ffcc" stroke="none"/>
<path d="M4786 7243l83-87-70 133-67 61-14 11z" fill="#00ff85" stroke="none"/>
<path d="M4786 7243l83-87-44 84-71 59z" fill="#00ff55" stroke="none"/>
<path d="M4805 7223l64-67-10 20z" fill="#00ff0e" stroke="none"/>
<path d="M4786 7243l83-87-70 133-83 75z" fill="none"/>
<path d="M4703 7353l83-110-70 121-83 74z" fill="#00ffcc" stroke="none"/>
<path d="M4703 7353l83-110-68 118-71 60z" fill="#00ff85" stroke="none"/>
<path d="M4703 7353l83-110-32 56-63 68z" fill="#00ff55" stroke="none"/>
<path d="M4703 7353l83-110-70 121-83 74z" fill="none"/>
<path d="M4620 7460l83-107-70 85-83 91z" fill="#00ffcc" stroke="none"/>
<path d="M4620 7460l83-107-56 68-59 71z" fill="#00ff85" stroke="none"/>
<path d="M4667 7399l36-46-12 14z" fill="#00ff55" stroke="none"/>
<path d="M4620 7460l83-107-70 85-83 91z" fill="none"/>
<path d="M4537 7598l83-138-70 69-83 114z" fill="#00fffc" stroke="none"/>
<path d="M4537 7598l83-138-70 69-28 39-27 58z" fill="#00ffcc" stroke="none"/>
<path d="M4563 7556l57-96-32 32z" fill="#00ff85" stroke="none"/>
<path d="M4537 7598l83-138-70 69-83 114z" fill="none"/>
<path d="M4455 7703l82-105-70 45-83 105z" fill="#00bbff" stroke="none"/>
<path d="M4455 7703l82-105-70 45-76 96-4 7z" fill="#00fffc" stroke="none"/>
<path d="M4455 7703l82-105-42 28-47 82z" fill="#00ffcc" stroke="none"/>
<path d="M4455 7703l82-105-70 45-83 105z" fill="none"/>
<path d="M4372 7807l83-104-71 45-83 70z" fill="#00bbff" stroke="none"/>
<path d="M4372 7807l83-104-68 43-62 68z" fill="#00fffc" stroke="none"/>
<path d="M4438 7724l17-21-7 5z" fill="#00ffcc" stroke="none"/>
<path d="M4372 7807l83-104-71 45-83 70z" fill="none"/>
<path d="M4289 7891l83-84-71 11-82 82z" fill="#00bbff" stroke="none"/>
<path d="M4289 7891l83-84-47 7-51 79z" fill="#00fffc" stroke="none"/>
<path d="M4289 7891l83-84-71 11-82 82z" fill="none"/>
<path d="M4206 7964l83-73-70 9-83 68z" fill="#00bbff" stroke="none"/>
<path d="M4237 7937l52-46-15 2z" fill="#00fffc" stroke="none"/>
<path d="M4206 7964l83-73-70 9-83 68z" fill="none"/>
<path d="M4123 8039l83-75-70 4-83 68z" fill="#008bff" stroke="none"/>
<path d="M4123 8039l83-75-70 4-66 54-13 14z" fill="#00bbff" stroke="none"/>
<path d="M4123 8039l83-75-70 4-83 68z" fill="none"/>
<path d="M4040 8098l83-59-70-3-83 55z" fill="#008bff" stroke="none"/>
<path d="M4040 8098l83-59-66-3-74 57z" fill="#00bbff" stroke="none"/>
<path d="M4040 8098l83-59-70-3-83 55z" fill="none"/>
<path d="M3957 8146l83-48-70-7-83 55z" fill="#008bff" stroke="none"/>
<path d="M3957 8146l83-48-57-5-77 53z" fill="#00bbff" stroke="none"/>
<path d="M3957 8146l83-48-70-7-83 55z" fill="none"/>
<path d="M3874 8188l83-42-70 0-83 38z" fill="#008bff" stroke="none"/>
<path d="M3874 8188l83-42-51 0-93 39z" fill="#00bbff" stroke="none"/>
<path d="M3874 8188l83-42-70 0-83 38z" fill="none"/>
<path d="M3791 8255l83-67-70-4-83 70z" fill="#008bff" stroke="none"/>
<path d="M3791 8255l83-67-61-3-60 70z" fill="#00bbff" stroke="none"/>
<path d="M3791 8255l83-67-70-4-83 70z" fill="none"/>
<path d="M3709 8305l82-50-70-1-83 30z" fill="#008bff" stroke="none"/>
<path d="M3709 8305l82-50-38 0-98 34z" fill="#00bbff" stroke="none"/>
<path d="M3709 8305l82-50-70-1-83 30z" fill="none"/>
<path d="M3626 8300l83 5-71-21-83 84z" fill="#008bff" stroke="none"/>
<path d="M3626 8300l83 5-54-16-75 55z" fill="#00bbff" stroke="none"/>
<path d="M3626 8300l83 5-71-21-83 84z" fill="none"/>
<path d="M3543 8323l83-23-71 68-83 6z" fill="#008bff" stroke="none"/>
<path d="M3543 8323l83-23-46 44-105 28z" fill="#00bbff" stroke="none"/>
<path d="M3543 8323l57-16-68 24z" fill="#00fffc" stroke="none"/>
<path d="M3543 8323l83-23-71 68-83 6z" fill="none"/>
<path d="M3460 8405l83-82-71 51-82 12z" fill="#008bff" stroke="none"/>
<path d="M3460 8405l83-82-68 49-12 3-73 11z" fill="#00bbff" stroke="none"/>
<path d="M3500 8365l43-42-11 8z" fill="#00fffc" stroke="none"/>
<path d="M3460 8405l83-82-71 51-82 12z" fill="none"/>
<path d="M3377 8323l83 82-70-19-83-8z" fill="#00bbff" stroke="none"/>
<path d="M3377 8323l72 72-138-21z" fill="#00fffc" stroke="none"/>
<path d="M3377 8323l11 12-21-4z" fill="#00ffcc" stroke="none"/>
<path d="M3377 8323l83 82-70-19-83-8z" fill="none"/>
<path d="M3294 8398l83-75-70 55-83-15z" fill="#00bbff" stroke="none"/>
<path d="M3294 8398l83-75-66 51-14 2-73-13z" fill="#00fffc" stroke="none"/>
<path d="M3322 8373l55-50-10 8z" fill="#00ffcc" stroke="none"/>
<path d="M3294 8398l83-75-70 55-83-15z" fill="none"/>
<path d="M6431 6669l83-56-70-47-83 22z" fill="#00fffc" stroke="none"/>
<path d="M6431 6669l83-56-39-26-58-13-56 14z" fill="#00ffcc" stroke="none"/>
<path d="M6431 6669l83-56-70-47-83 22z" fill="none"/>
<path d="M6349 6752l82-83-70-81-83 178z" fill="#00bbff" stroke="none"/>
<path d="M6349 6752l82-83-70-81-72 156 3 19z" fill="#00fffc" stroke="none"/>
<path d="M6423 6677l8-8-70-81-11 24z" fill="#00ffcc" stroke="none"/>
<path d="M6349 6752l82-83-70-81-83 178z" fill="none"/>
<path d="M6266 6850l83-98-71 14-83 15z" fill="#00bbff" stroke="none"/>
<path d="M6266 6850l83-98-57 11-54 10-43 8z" fill="#00fffc" stroke="none"/>
<path d="M6266 6850l83-98-71 14-83 15z" fill="none"/>
<path d="M6183 6879l83-29-71-69-82 73z" fill="#00bbff" stroke="none"/>
<path d="M6183 6879l83-29-71-69-57 50-12 28z" fill="#00fffc" stroke="none"/>
<path d="M6183 6879l83-29-71-69-82 73z" fill="none"/>
<path d="M6100 6952l83-73-70-25-83 102z" fill="#00bbff" stroke="none"/>
<path d="M6100 6952l83-73-57-20-36 93z" fill="#00fffc" stroke="none"/>
<path d="M6100 6952l83-73-70-25-83 102z" fill="none"/>
<path d="M6017 6994l83-42-70 4-83 46z" fill="#00bbff" stroke="none"/>
<path d="M6017 6994l83-42-10 0-88 43z" fill="#00fffc" stroke="none"/>
<path d="M6017 6994l83-42-70 4-83 46z" fill="none"/>
<path d="M5934 7070l83-76-70 8-83 29z" fill="#00bbff" stroke="none"/>
<path d="M5970 7036l47-42-15 1z" fill="#00fffc" stroke="none"/>
<path d="M5934 7070l83-76-70 8-83 29z" fill="none"/>
<path d="M5851 7071l83-1-70-39-83 55z" fill="#00bbff" stroke="none"/>
<path d="M5851 7071l61-1-91 7z" fill="#00fffc" stroke="none"/>
<path d="M5851 7071l83-1-70-39-83 55z" fill="none"/>
<path d="M5768 7126l83-55-70 15-83 48z" fill="#00bbff" stroke="none"/>
<path d="M5768 7126l83-55-30 6-79 52z" fill="#00fffc" stroke="none"/>
<path d="M5768 7126l83-55-70 15-83 48z" fill="none"/>
<path d="M5685 7159l83-33-70 8-83 37z" fill="#00bbff" stroke="none"/>
<path d="M5685 7159l83-33-26 3-95 37z" fill="#00fffc" stroke="none"/>
<path d="M5685 7159l83-33-70 8-83 37z" fill="none"/>
<path d="M5603 7182l82-23-70 12-83 22z" fill="#00bbff" stroke="none"/>
<path d="M5603 7182l82-23-38 7-106 26z" fill="#00fffc" stroke="none"/>
<path d="M5603 7182l82-23-70 12-83 22z" fill="none"/>
<path d="M5520 7194l83-12-71 11-83 23z" fill="#00bbff" stroke="none"/>
<path d="M5520 7194l83-12-62 10-40 10-52 14z" fill="#00fffc" stroke="none"/>
<path d="M5520 7194l20-3-27 5z" fill="#00ffcc" stroke="none"/>
<path d="M5520 7194l83-12-71 11-83 23z" fill="none"/>
<path d="M5437 7216l83-22-71 22-83 13z" fill="#00fffc" stroke="none"/>
<path d="M5437 7216l83-22-7 2-107 26z" fill="#00ffcc" stroke="none"/>
<path d="M5437 7216l83-22-71 22-83 13z" fill="none"/>
<path d="M5354 7197l83 19-71 13-82-8z" fill="#00fffc" stroke="none"/>
<path d="M5354 7197l83 19-31 6-106 1-16-2z" fill="#00ffcc" stroke="none"/>
<path d="M5354 7197l7 2-12 0z" fill="#00ff85" stroke="none"/>
<path d="M5354 7197l83 19-71 13-82-8z" fill="none"/>
<path d="M5271 7178l83 19-70 24-83-8z" fill="#00ffcc" stroke="none"/>
<path d="M5271 7178l83 19-5 2-129 4z" fill="#00ff85" stroke="none"/>
<path d="M5271 7178l83 19-70 24-83-8z" fill="none"/>
<path d="M5188 7139l83 39-70 35-83-43z" fill="#00ffcc" stroke="none"/>
<path d="M5188 7139l83 39-51 25-45-3-57-30z" fill="#00ff85" stroke="none"/>
<path d="M5188 7139l62 29-109-8z" fill="#00ff55" stroke="none"/>
<path d="M5188 7139l83 39-70 35-83-43z" fill="none"/>
<path d="M5105 7039l83 100-70 31-83-10z" fill="#00ff85" stroke="none"/>
<path d="M5105 7039l83 100-47 21-70 4-36-4z" fill="#00ff55" stroke="none"/>
<path d="M5105 7039l66 79-110-3z" fill="#00ff0e" stroke="none"/>
<path d="M5105 7039l12 15-20-1z" fill="#22ff00" stroke="none"/>
<path d="M5105 7039l83 100-70 31-83-10z" fill="none"/>
<path d="M5022 6899l83 140-70 121-83-13z" fill="#00ff55" stroke="none"/>
<path d="M5022 6899l83 140-44 76-107 25z" fill="#00ff0e" stroke="none"/>
<path d="M5022 6899l83 140-8 14-122 12z" fill="#22ff00" stroke="none"/>
<path d="M5022 6899l50 85-75 5z" fill="#69ff00" stroke="none"/>
<path d="M5022 6899l14 23-21 1z" fill="#99ff00" stroke="none"/>
<path d="M5022 6899l83 140-70 121-83-13z" fill="none"/>
<path d="M4939 6864l83 35-70 248-83 9z" fill="#00ff55" stroke="none"/>
<path d="M4939 6864l83 35-68 241-21 9-64 7z" fill="#00ff0e" stroke="none"/>
<path d="M4939 6864l83 35-47 166-93 38z" fill="#22ff00" stroke="none"/>
<path d="M4939 6864l83 35-25 90-96 36z" fill="#69ff00" stroke="none"/>
<path d="M4939 6864l83 35-7 24-98 34z" fill="#99ff00" stroke="none"/>
<path d="M4939 6864l31 13-37 12z" fill="#e0ff00" stroke="none"/>
<path d="M4939 6864l83 35-70 248-83 9z" fill="none"/>
<path d="M4856 6996l83-132-70 292-83 87z" fill="#00ff55" stroke="none"/>
<path d="M4856 6996l83-132-70 292-64 67-17 13z" fill="#00ff0e" stroke="none"/>
<path d="M4856 6996l83-132-57 239-72 58z" fill="#22ff00" stroke="none"/>
<path d="M4856 6996l83-132-38 161-70 61z" fill="#69ff00" stroke="none"/>
<path d="M4856 6996l83-132-22 93-67 63z" fill="#99ff00" stroke="none"/>
<path d="M4909 6912l30-48-6 25z" fill="#e0ff00" stroke="none"/>
<path d="M4856 6996l83-132-70 292-83 87z" fill="none"/>
<path d="M4774 7232l82-236-70 247-83 110z" fill="#00ff55" stroke="none"/>
<path d="M4774 7232l82-236-68 240-58 72z" fill="#00ff0e" stroke="none"/>
<path d="M4774 7232l82-236-46 165-45 85z" fill="#22ff00" stroke="none"/>
<path d="M4806 7139l50-143-25 90z" fill="#69ff00" stroke="none"/>
<path d="M4843 7034l13-38-6 24z" fill="#99ff00" stroke="none"/>
<path d="M4774 7232l82-236-70 247-83 110z" fill="none"/>
<path d="M4691 7429l83-197-71 121-83 107z" fill="#00ff85" stroke="none"/>
<path d="M4691 7429l83-197-71 121-36 46-23 50z" fill="#00ff55" stroke="none"/>
<path d="M4708 7388l66-156-44 76z" fill="#00ff0e" stroke="none"/>
<path d="M4761 7261l13-29-9 14z" fill="#22ff00" stroke="none"/>
<path d="M4691 7429l83-197-71 121-83 107z" fill="none"/>
<path d="M4608 7564l83-135-71 31-83 138z" fill="#00ffcc" stroke="none"/>
<path d="M4608 7564l83-135-71 31-57 96-6 33z" fill="#00ff85" stroke="none"/>
<path d="M4629 7529l62-100-47 20z" fill="#00ff55" stroke="none"/>
<path d="M4608 7564l83-135-71 31-83 138z" fill="none"/>
<path d="M4525 7680l83-116-71 34-82 105z" fill="#00ffcc" stroke="none"/>
<path d="M4525 7680l83-116-51 25-37 92z" fill="#00ff85" stroke="none"/>
<path d="M4525 7680l83-116-71 34-82 105z" fill="none"/>
<path d="M4442 7794l83-114-70 23-83 104z" fill="#00fffc" stroke="none"/>
<path d="M4442 7794l83-114-70 23-17 21-27 76z" fill="#00ffcc" stroke="none"/>
<path d="M4517 7690l8-10-5 1z" fill="#00ff85" stroke="none"/>
<path d="M4442 7794l83-114-70 23-83 104z" fill="none"/>
<path d="M4359 7869l83-75-70 13-83 84z" fill="#00fffc" stroke="none"/>
<path d="M4359 7869l83-75-31 6-59 71z" fill="#00ffcc" stroke="none"/>
<path d="M4359 7869l83-75-70 13-83 84z" fill="none"/>
<path d="M4276 7953l83-84-70 22-83 73z" fill="#00bbff" stroke="none"/>
<path d="M4276 7953l83-84-70 22-52 46-23 26z" fill="#00fffc" stroke="none"/>
<path d="M4339 7890l20-21-7 2z" fill="#00ffcc" stroke="none"/>
<path d="M4276 7953l83-84-70 22-83 73z" fill="none"/>
<path d="M4193 8027l83-74-70 11-83 75z" fill="#00bbff" stroke="none"/>
<path d="M4193 8027l83-74-62 10-59 71z" fill="#00fffc" stroke="none"/>
<path d="M4193 8027l83-74-70 11-83 75z" fill="none"/>
<path d="M4110 8091l83-64-70 12-83 59z" fill="#00bbff" stroke="none"/>
<path d="M4110 8091l83-64-38 7-71 59z" fill="#00fffc" stroke="none"/>
<path d="M4110 8091l83-64-70 12-83 59z" fill="none"/>
<path d="M4027 8132l83-41-70 7-83 48z" fill="#00bbff" stroke="none"/>
<path d="M4027 8132l83-41-26 2-86 45z" fill="#00fffc" stroke="none"/>
<path d="M4027 8132l83-41-70 7-83 48z" fill="none"/>
<path d="M3945 8227l82-95-70 14-83 42z" fill="#00bbff" stroke="none"/>
<path d="M3966 8202l61-70-29 6z" fill="#00fffc" stroke="none"/>
<path d="M3945 8227l82-95-70 14-83 42z" fill="none"/>
<path d="M3862 8247l83-20-71-39-83 67z" fill="#00bbff" stroke="none"/>
<path d="M3862 8247l46-11-61 13z" fill="#00fffc" stroke="none"/>
<path d="M3862 8247l83-20-71-39-83 67z" fill="none"/>
<path d="M3779 8301l83-54-71 8-82 50z" fill="#00bbff" stroke="none"/>
<path d="M3779 8301l83-54-15 2-78 53z" fill="#00fffc" stroke="none"/>
<path d="M3779 8301l83-54-71 8-82 50z" fill="none"/>
<path d="M3696 8326l83-25-70 4-83-5z" fill="#00bbff" stroke="none"/>
<path d="M3696 8326l83-25-10 1-130 3z" fill="#00fffc" stroke="none"/>
<path d="M3696 8326l83-25-70 4-83-5z" fill="none"/>
<path d="M3613 8392l83-66-70-26-83 23z" fill="#00bbff" stroke="none"/>
<path d="M3613 8392l83-66-57-21-39 2-57 16z" fill="#00fffc" stroke="none"/>
<path d="M3613 8392l83-66-70-26-83 23z" fill="none"/>
<path d="M3530 8391l83 1-70-69-83 82z" fill="#00bbff" stroke="none"/>
<path d="M3530 8391l83 1-70-69-43 42-26 37z" fill="#00fffc" stroke="none"/>
<path d="M3530 8391l83 1-70-69-83 82z" fill="none"/>
<path d="M3447 8405l83-14-70 14-83-82z" fill="#00bbff" stroke="none"/>
<path d="M3447 8405l83-14-56 11-25-7-72-72z" fill="#00fffc" stroke="none"/>
<path d="M3447 8405l9-2-68-68-11-12z" fill="#00ffcc" stroke="none"/>
<path d="M3447 8405l83-14-70 14-83-82z" fill="none"/>
<path d="M3364 8445l83-40-70-82-83 75z" fill="#00fffc" stroke="none"/>
<path d="M3364 8445l83-40-70-82-55 50 3 46z" fill="#00ffcc" stroke="none"/>
<path d="M3364 8445l83-40-70-82-83 75z" fill="none"/>
<path d="M6502 6787l83-163-71-11-83 56z" fill="#00fffc" stroke="none"/>
<path d="M6536 6719l49-95-71-11-83 56 5 8z" fill="#00ffcc" stroke="none"/>
<path d="M6502 6787l83-163-71-11-83 56z" fill="none"/>
<path d="M6419 6789l83-2-71-118-82 83z" fill="#00fffc" stroke="none"/>
<path d="M6436 6677l-5-8-8 8z" fill="#00ffcc" stroke="none"/>
<path d="M6419 6789l83-2-71-118-82 83z" fill="none"/>
<path d="M6336 6893l83-104-70-37-83 98z" fill="#00fffc"/>
<path d="M6253 6934l83-41-70-43-83 29z" fill="#00fffc"/>
<path d="M6170 6984l83-50-70-55-83 73z" fill="#00fffc"/>
<path d="M6087 7050l83-66-70-32-83 42z" fill="#00fffc"/>
<path d="M6004 7084l83-34-70-56-83 76z" fill="#00bbff" stroke="none"/>
<path d="M6004 7084l83-34-70-56-47 42-20 37z" fill="#00fffc" stroke="none"/>
<path d="M6004 7084l83-34-70-56-83 76z" fill="none"/>
<path d="M5921 7136l83-52-70-14-83 1z" fill="#00bbff" stroke="none"/>
<path d="M5921 7136l83-52-54-11-38-3-61 1z" fill="#00fffc" stroke="none"/>
<path d="M5921 7136l83-52-70-14-83 1z" fill="none"/>
<path d="M5839 7190l82-54-70-65-83 55z" fill="#00fffc"/>
<path d="M5756 7232l83-42-71-64-83 33z" fill="#00fffc"/>
<path d="M5673 7254l83-22-71-73-82 23z" fill="#00fffc"/>
<path d="M5590 7250l83 4-70-72-83 12z" fill="#00fffc" stroke="none"/>
<path d="M5590 7250l31 1-81-60-20 3z" fill="#00ffcc" stroke="none"/>
<path d="M5590 7250l83 4-70-72-83 12z" fill="none"/>
<path d="M5507 7272l83-22-70-56-83 22z" fill="#00ffcc"/>
<path d="M5424 7266l83 6-70-56-83-19z" fill="#00ffcc" stroke="none"/>
<path d="M5424 7266l7 0-70-67-7-2z" fill="#00ff85" stroke="none"/>
<path d="M5424 7266l83 6-70-56-83-19z" fill="none"/>
<path d="M5341 7220l83 46-70-69-83-19z" fill="#00ff85" stroke="none"/>
<path d="M5341 7220l3 1-11-6z" fill="#00ff55" stroke="none"/>
<path d="M5341 7220l83 46-70-69-83-19z" fill="none"/>
<path d="M5258 7147l83 73-70-42-83-39z" fill="#00ff85" stroke="none"/>
<path d="M5258 7147l83 73-8-5-83-47-62-29z" fill="#00ff55" stroke="none"/>
<path d="M5258 7147l19 17-52-20z" fill="#00ff0e" stroke="none"/>
<path d="M5258 7147l83 73-70-42-83-39z" fill="none"/>
<path d="M5175 6965l83 182-70-8-83-100z" fill="#00ff55" stroke="none"/>
<path d="M5175 6965l83 182-33-3-54-26-66-79z" fill="#00ff0e" stroke="none"/>
<path d="M5175 6965l59 129-117-40-12-15z" fill="#22ff00" stroke="none"/>
<path d="M5175 6965l25 53-58-18z" fill="#69ff00" stroke="none"/>
<path d="M5175 6965l83 182-70-8-83-100z" fill="none"/>
<path d="M5092 6424l83 541-70 74-83-140z" fill="#22ff00" stroke="none"/>
<path d="M5092 6424l83 541-33 35-70-16-50-85z" fill="#69ff00" stroke="none"/>
<path d="M5092 6424l81 526-137-28-14-23z" fill="#99ff00" stroke="none"/>
<path d="M5092 6424l69 449-132-20z" fill="#e0ff00" stroke="none"/>
<path d="M5092 6424l58 373-110-17z" fill="#ffee00" stroke="none"/>
<path d="M5092 6424l46 296-87-13z" fill="#ffa700" stroke="none"/>
<path d="M5092 6424l34 220-65-10z" fill="#ff7700" stroke="none"/>
<path d="M5092 6424l22 143-42-6z" fill="#ff3000" stroke="none"/>
<path d="M5092 6424l11 67-20-3z" fill="#ff0000" stroke="none"/>
<path d="M5092 6424l83 541-70 74-83-140z" fill="none"/>
<path d="M5010 7046l82-622-70 475-83-35z" fill="#69ff00" stroke="none"/>
<path d="M5010 7045l82-621-70 475-83-35 70 180z" fill="#99ff00" stroke="none"/>
<path d="M5022 6954l70-530-63 429-59 24-31-13 19 48z" fill="#e0ff00" stroke="none"/>
<path d="M5034 6864l58-440-52 356z" fill="#ffee00" stroke="none"/>
<path d="M5046 6774l46-350-41 283z" fill="#ffa700" stroke="none"/>
<path d="M5058 6683l34-259-31 210z" fill="#ff7700" stroke="none"/>
<path d="M5070 6593l22-169-20 137z" fill="#ff3000" stroke="none"/>
<path d="M5082 6503l10-79-9 64z" fill="#ff0000" stroke="none"/>
<path d="M5010 7046l82-622-70 475-83-35z" fill="none"/>
<path d="M4927 6520l83 526-71-182-83 132z" fill="#69ff00" stroke="none"/>
<path d="M4927 6520l82 525 0-1-70-180-83 132z" fill="#99ff00" stroke="none"/>
<path d="M4927 6520l70 449-39-57-19-48-30 48-46 37z" fill="#e0ff00" stroke="none"/>
<path d="M4927 6520l58 372-111-16z" fill="#ffee00" stroke="none"/>
<path d="M4927 6520l46 296-88-13z" fill="#ffa700" stroke="none"/>
<path d="M4927 6520l34 220-65-10z" fill="#ff7700" stroke="none"/>
<path d="M4927 6520l22 143-43-6z" fill="#ff3000" stroke="none"/>
<path d="M4927 6520l10 67-20-3z" fill="#ff0000" stroke="none"/>
<path d="M4927 6520l83 526-71-182-83 132z" fill="none"/>
<path d="M4844 7158l83-638-71 476-82 236z" fill="#22ff00" stroke="none"/>
<path d="M4844 7158l83-638-71 476-50 143 4 54z" fill="#69ff00" stroke="none"/>
<path d="M4846 7140l81-620-71 476-13 38z" fill="#99ff00" stroke="none"/>
<path d="M4858 7050l69-530-64 429z" fill="#e0ff00" stroke="none"/>
<path d="M4870 6960l57-440-53 356z" fill="#ffee00" stroke="none"/>
<path d="M4881 6869l46-349-42 283z" fill="#ffa700" stroke="none"/>
<path d="M4893 6779l34-259-31 210z" fill="#ff7700" stroke="none"/>
<path d="M4905 6689l22-169-21 137z" fill="#ff3000" stroke="none"/>
<path d="M4916 6599l11-79-10 64z" fill="#ff0000" stroke="none"/>
<path d="M4844 7158l83-638-71 476-82 236z" fill="none"/>
<path d="M4761 7437l83-279-70 74-83 197z" fill="#00ff55" stroke="none"/>
<path d="M4761 7437l83-279-70 74-66 156 20 45z" fill="#00ff0e" stroke="none"/>
<path d="M4785 7355l59-197-70 74-13 29z" fill="#22ff00" stroke="none"/>
<path d="M4820 7239l24-81-34 35z" fill="#69ff00" stroke="none"/>
<path d="M4761 7437l83-279-70 74-83 197z" fill="none"/>
<path d="M4678 7606l83-169-70-8-83 135z" fill="#00ff85" stroke="none"/>
<path d="M4678 7606l83-169-70-8-62 100 41 72z" fill="#00ff55" stroke="none"/>
<path d="M4742 7476l19-39-33-4z" fill="#00ff0e" stroke="none"/>
<path d="M4678 7606l83-169-70-8-83 135z" fill="none"/>
<path d="M4595 7748l83-142-70-42-83 116z" fill="#00ff85" stroke="none"/>
<path d="M4675 7610l3-4-8-5z" fill="#00ff55" stroke="none"/>
<path d="M4595 7748l83-142-70-42-83 116z" fill="none"/>
<path d="M4512 7850l83-102-70-68-83 114z" fill="#00ffcc" stroke="none"/>
<path d="M4588 7757l7-9-70-68-8 10z" fill="#00ff85" stroke="none"/>
<path d="M4512 7850l83-102-70-68-83 114z" fill="none"/>
<path d="M4429 7925l83-75-70-56-83 75z" fill="#00ffcc"/>
<path d="M4346 8025l83-100-70-56-83 84z" fill="#00fffc" stroke="none"/>
<path d="M4398 7963l31-38-70-56-20 21z" fill="#00ffcc" stroke="none"/>
<path d="M4346 8025l83-100-70-56-83 84z" fill="none"/>
<path d="M4264 8100l82-75-70-72-83 74z" fill="#00fffc"/>
<path d="M4181 8154l83-54-71-73-83 64z" fill="#00fffc"/>
<path d="M4098 8197l83-43-71-63-83 41z" fill="#00fffc"/>
<path d="M4015 8241l83-44-71-65-82 95z" fill="#00bbff" stroke="none"/>
<path d="M4015 8241l83-44-71-65-61 70-5 28z" fill="#00fffc" stroke="none"/>
<path d="M4015 8241l83-44-71-65-82 95z" fill="none"/>
<path d="M3932 8303l83-62-70-14-83 20z" fill="#00bbff" stroke="none"/>
<path d="M3932 8303l83-62-54-11-53 6-46 11z" fill="#00fffc" stroke="none"/>
<path d="M3932 8303l83-62-70-14-83 20z" fill="none"/>
<path d="M3849 8334l83-31-70-56-83 54z" fill="#00fffc"/>
<path d="M3766 8381l83-47-70-33-83 25z" fill="#00fffc"/>
<path d="M3683 8436l83-55-70-55-83 66z" fill="#00fffc"/>
<path d="M3600 8428l83 8-70-44-83-1z" fill="#00fffc"/>
<path d="M3517 8522l83-94-70-37-83 14z" fill="#00fffc" stroke="none"/>
<path d="M3456 8403l-9 2 5 7z" fill="#00ffcc" stroke="none"/>
<path d="M3517 8522l83-94-70-37-83 14z" fill="none"/>
<path d="M3435 8456l82 66-70-117-83 40z" fill="#00fffc" stroke="none"/>
<path d="M3435 8456l48 39-31-83-5-7-83 40z" fill="#00ffcc" stroke="none"/>
<path d="M3435 8456l82 66-70-117-83 40z" fill="none"/>
<path d="M6572 6797l83-54-70-119-83 163z" fill="#00fffc" stroke="none"/>
<path d="M6572 6797l83-54-70-119-49 95 25 77z" fill="#00ffcc" stroke="none"/>
<path d="M6572 6797l83-54-70-119-83 163z" fill="none"/>
<path d="M6489 6878l83-81-70-10-83 2z" fill="#00fffc" stroke="none"/>
<path d="M6550 6819l22-22-11-1z" fill="#00ffcc" stroke="none"/>
<path d="M6489 6878l83-81-70-10-83 2z" fill="none"/>
<path d="M6406 6975l83-97-70-89-83 104z" fill="#00fffc"/>
<path d="M6323 7003l83-28-70-82-83 41z" fill="#00fffc"/>
<path d="M6240 7074l83-71-70-69-83 50z" fill="#00fffc"/>
<path d="M6158 7115l82-41-70-90-83 66z" fill="#00fffc"/>
<path d="M6075 7190l83-75-71-65-83 34z" fill="#00fffc"/>
<path d="M5992 7191l83-1-71-106-83 52z" fill="#00fffc"/>
<path d="M5909 7245l83-54-71-55-82 54z" fill="#00fffc"/>
<path d="M5826 7277l83-32-70-55-83 42z" fill="#00fffc"/>
<path d="M5743 7298l83-21-70-45-83 22z" fill="#00fffc"/>
<path d="M5660 7309l83-11-70-44-83-4z" fill="#00fffc" stroke="none"/>
<path d="M5660 7309l61-8-100-50-31-1z" fill="#00ffcc" stroke="none"/>
<path d="M5660 7309l83-11-70-44-83-4z" fill="none"/>
<path d="M5577 7329l83-20-70-59-83 22z" fill="#00ffcc"/>
<path d="M5494 7308l83 21-70-57-83-6z" fill="#00ffcc" stroke="none"/>
<path d="M5494 7308l35 9-98-51-7 0z" fill="#00ff85" stroke="none"/>
<path d="M5494 7308l83 21-70-57-83-6z" fill="none"/>
<path d="M5411 7286l83 22-70-42-83-46z" fill="#00ff85" stroke="none"/>
<path d="M5411 7286l5 1-72-66-3-1z" fill="#00ff55" stroke="none"/>
<path d="M5411 7286l83 22-70-42-83-46z" fill="none"/>
<path d="M5329 7244l82 42-70-66-83-73z" fill="#00ff55" stroke="none"/>
<path d="M5277 7164l-19-17 66 91z" fill="#00ff0e" stroke="none"/>
<path d="M5329 7244l82 42-70-66-83-73z" fill="none"/>
<path d="M5246 7141l83 103-71-97-83-182z" fill="#00ff55" stroke="none"/>
<path d="M5246 7141l82 102-4-5-66-91-83-182z" fill="#00ff0e" stroke="none"/>
<path d="M5246 7141l29 36-41-83-59-129z" fill="#22ff00" stroke="none"/>
<path d="M5200 7018l-25-53 44 108z" fill="#69ff00" stroke="none"/>
<path d="M5246 7141l83 103-71-97-83-182z" fill="none"/>
<path d="M5163 6999l83 142-71-176-83-541z" fill="#22ff00" stroke="none"/>
<path d="M5163 6999l64 110-8-36-44-108-83-541z" fill="#69ff00" stroke="none"/>
<path d="M5163 6999l28 48-18-97-81-526z" fill="#99ff00" stroke="none"/>
<path d="M5161 6873l-69-449 68 554z" fill="#e0ff00" stroke="none"/>
<path d="M5150 6797l-58-373 57 459z" fill="#ffee00" stroke="none"/>
<path d="M5138 6720l-46-296 45 365z" fill="#ffa700" stroke="none"/>
<path d="M5126 6644l-34-220 34 271z" fill="#ff7700" stroke="none"/>
<path d="M5114 6567l-22-143 22 176z" fill="#ff3000" stroke="none"/>
<path d="M5103 6491l-11-67 11 82z" fill="#ff0000" stroke="none"/>
<path d="M5163 6999l83 142-71-176-83-541z" fill="none"/>
<path d="M5080 6963l83 36-71-575-82 622z" fill="#69ff00" stroke="none"/>
<path d="M5080 6963l83 36-71-575-82 621 0 1z" fill="#99ff00" stroke="none"/>
<path d="M5080 6963l64 28 16-13-68-554-70 530 27 45z" fill="#e0ff00" stroke="none"/>
<path d="M5149 6883l-57-459-58 440z" fill="#ffee00" stroke="none"/>
<path d="M5137 6789l-45-365-46 350z" fill="#ffa700" stroke="none"/>
<path d="M5126 6695l-34-271-34 259z" fill="#ff7700" stroke="none"/>
<path d="M5114 6600l-22-176-22 169z" fill="#ff3000" stroke="none"/>
<path d="M5103 6506l-11-82-10 79z" fill="#ff0000" stroke="none"/>
<path d="M5080 6963l83 36-71-575-82 622z" fill="none"/>
<path d="M4997 7095l83-132-70 83-83-526z" fill="#69ff00" stroke="none"/>
<path d="M4997 7095l83-132-70 83-1-1-82-525z" fill="#99ff00" stroke="none"/>
<path d="M5016 7066l64-103-31 36-52-30-70-449 67 554z" fill="#e0ff00" stroke="none"/>
<path d="M4985 6892l-58-372 56 460z" fill="#ffee00" stroke="none"/>
<path d="M4973 6816l-46-296 44 365z" fill="#ffa700" stroke="none"/>
<path d="M4961 6740l-34-220 33 271z" fill="#ff7700" stroke="none"/>
<path d="M4949 6663l-22-143 21 177z" fill="#ff3000" stroke="none"/>
<path d="M4937 6587l-10-67 10 82z" fill="#ff0000" stroke="none"/>
<path d="M4997 7095l83-132-70 83-83-526z" fill="none"/>
<path d="M4914 7334l83-239-70-575-83 638z" fill="#22ff00" stroke="none"/>
<path d="M4932 7281l65-186-70-575-83 638 43 108z" fill="#69ff00" stroke="none"/>
<path d="M4969 7176l28-81-70-575-81 620z" fill="#99ff00" stroke="none"/>
<path d="M4994 7074l-67-554-69 530z" fill="#e0ff00" stroke="none"/>
<path d="M4983 6980l-56-460-57 440z" fill="#ffee00" stroke="none"/>
<path d="M4971 6885l-44-365-46 349z" fill="#ffa700" stroke="none"/>
<path d="M4960 6791l-33-271-34 259z" fill="#ff7700" stroke="none"/>
<path d="M4948 6697l-21-177-22 169z" fill="#ff3000" stroke="none"/>
<path d="M4937 6602l-10-82-11 79z" fill="#ff0000" stroke="none"/>
<path d="M4914 7334l83-239-70-575-83 638z" fill="none"/>
<path d="M4831 7533l83-199-70-176-83 279z" fill="#00ff55" stroke="none"/>
<path d="M4832 7531l82-197-70-176-83 279 66 90z" fill="#00ff0e" stroke="none"/>
<path d="M4885 7404l29-70-70-176-59 197z" fill="#22ff00" stroke="none"/>
<path d="M4887 7266l-43-108-24 81z" fill="#69ff00" stroke="none"/>
<path d="M4831 7533l83-199-70-176-83 279z" fill="none"/>
<path d="M4748 7671l83-138-70-96-83 169z" fill="#00ff55" stroke="none"/>
<path d="M4827 7527l-66-90-19 39z" fill="#00ff0e" stroke="none"/>
<path d="M4748 7671l83-138-70-96-83 169z" fill="none"/>
<path d="M4665 7790l83-119-70-65-83 142z" fill="#00ff85" stroke="none"/>
<path d="M4744 7678l4-7-70-65-3 4z" fill="#00ff55" stroke="none"/>
<path d="M4665 7790l83-119-70-65-83 142z" fill="none"/>
<path d="M4582 7907l83-117-70-42-83 102z" fill="#00ffcc" stroke="none"/>
<path d="M4631 7839l34-49-70-42-7 9z" fill="#00ff85" stroke="none"/>
<path d="M4582 7907l83-117-70-42-83 102z" fill="none"/>
<path d="M4500 7984l82-77-70-57-83 75z" fill="#00ffcc"/>
<path d="M4417 8069l83-85-71-59-83 100z" fill="#00fffc" stroke="none"/>
<path d="M4438 8047l62-63-71-59-31 38z" fill="#00ffcc" stroke="none"/>
<path d="M4417 8069l83-85-71-59-83 100z" fill="none"/>
<path d="M4334 8145l83-76-71-44-82 75z" fill="#00fffc"/>
<path d="M4251 8209l83-64-70-45-83 54z" fill="#00fffc"/>
<path d="M4168 8251l83-42-70-55-83 43z" fill="#00fffc"/>
<path d="M4085 8347l83-96-70-54-83 44z" fill="#00fffc"/>
<path d="M4002 8368l83-21-70-106-83 62z" fill="#00fffc"/>
<path d="M3919 8424l83-56-70-65-83 31z" fill="#00fffc"/>
<path d="M3836 8449l83-25-70-90-83 47z" fill="#00fffc"/>
<path d="M3753 8518l83-69-70-68-83 55z" fill="#00fffc"/>
<path d="M3671 8517l82 1-70-82-83-8z" fill="#00fffc"/>
<path d="M3588 8533l83-16-71-89-83 94z" fill="#00fffc" stroke="none"/>
<path d="M3588 8533l22-4-33 2z" fill="#00ffcc" stroke="none"/>
<path d="M3588 8533l83-16-71-89-83 94z" fill="none"/>
<path d="M3505 8575l83-42-71-11-82-66z" fill="#00fffc" stroke="none"/>
<path d="M3505 8575l83-42-11-2-94-36-48-39z" fill="#00ffcc" stroke="none"/>
<path d="M3505 8575l83-42-71-11-82-66z" fill="none"/>
<path d="M6642 6841l83-18-70-80-83 54z" fill="#00ffcc"/>
<path d="M6559 7015l83-174-70-44-83 81z" fill="#00fffc" stroke="none"/>
<path d="M6621 6885l21-44-70-44-22 22z" fill="#00ffcc" stroke="none"/>
<path d="M6559 7015l83-174-70-44-83 81z" fill="none"/>
<path d="M6476 7025l83-10-70-137-83 97z" fill="#00fffc"/>
<path d="M6394 7094l82-69-70-50-83 28z" fill="#00fffc"/>
<path d="M6311 7192l83-98-71-91-83 71z" fill="#00bbff" stroke="none"/>
<path d="M6362 7132l32-38-71-91-83 71 29 48z" fill="#00fffc" stroke="none"/>
<path d="M6311 7192l83-98-71-91-83 71z" fill="none"/>
<path d="M6228 7235l83-43-71-118-82 41z" fill="#00bbff" stroke="none"/>
<path d="M6269 7122l-29-48-82 41 37 63z" fill="#00fffc" stroke="none"/>
<path d="M6228 7235l83-43-71-118-82 41z" fill="none"/>
<path d="M6145 7261l83-26-70-120-83 75z" fill="#00bbff" stroke="none"/>
<path d="M6195 7178l-37-63-83 75 19 19z" fill="#00fffc" stroke="none"/>
<path d="M6145 7261l83-26-70-120-83 75z" fill="none"/>
<path d="M6062 7312l83-51-70-71-83 1z" fill="#00bbff" stroke="none"/>
<path d="M6094 7209l-19-19-83 1 63 108z" fill="#00fffc" stroke="none"/>
<path d="M6062 7312l83-51-70-71-83 1z" fill="none"/>
<path d="M5979 7357l83-45-70-121-83 54z" fill="#00bbff" stroke="none"/>
<path d="M6055 7299l-63-108-83 54 67 106z" fill="#00fffc" stroke="none"/>
<path d="M5979 7357l83-45-70-121-83 54z" fill="none"/>
<path d="M5896 7390l83-33-70-112-83 32z" fill="#00bbff" stroke="none"/>
<path d="M5896 7390l70-28 10-11-67-106-83 32z" fill="#00fffc" stroke="none"/>
<path d="M5896 7390l83-33-70-112-83 32z" fill="none"/>
<path d="M5813 7408l83-18-70-113-83 21z" fill="#00fffc"/>
<path d="M5730 7426l83-18-70-110-83 11z" fill="#00fffc" stroke="none"/>
<path d="M5721 7301l-61 8 39 64z" fill="#00ffcc" stroke="none"/>
<path d="M5730 7426l83-18-70-110-83 11z" fill="none"/>
<path d="M5647 7432l83-6-70-117-83 20z" fill="#00fffc" stroke="none"/>
<path d="M5647 7432l39-3 13-56-39-64-83 20z" fill="#00ffcc" stroke="none"/>
<path d="M5647 7432l83-6-70-117-83 20z" fill="none"/>
<path d="M5565 7416l82 16-70-103-83-21z" fill="#00ffcc" stroke="none"/>
<path d="M5529 7317l-35-9 50 76z" fill="#00ff85" stroke="none"/>
<path d="M5565 7416l82 16-70-103-83-21z" fill="none"/>
<path d="M5482 7397l83 19-71-108-83-22z" fill="#00ffcc" stroke="none"/>
<path d="M5482 7397l68 16-6-29-50-76-83-22z" fill="#00ff85" stroke="none"/>
<path d="M5416 7287l-5-1 7 9z" fill="#00ff55" stroke="none"/>
<path d="M5482 7397l83 19-71-108-83-22z" fill="none"/>
<path d="M5399 7344l83 53-71-111-82-42z" fill="#00ff85" stroke="none"/>
<path d="M5399 7344l49 32-30-81-7-9-82-42z" fill="#00ff55" stroke="none"/>
<path d="M5399 7344l83 53-71-111-82-42z" fill="none"/>
<path d="M5316 7324l83 20-70-100-83-103z" fill="#00ff55" stroke="none"/>
<path d="M5316 7324l40 10-28-91-82-102z" fill="#00ff0e" stroke="none"/>
<path d="M5275 7177l-29-36 32 84z" fill="#22ff00" stroke="none"/>
<path d="M5316 7324l83 20-70-100-83-103z" fill="none"/>
<path d="M5233 7304l83 20-70-183-83-142z" fill="#00ff0e" stroke="none"/>
<path d="M5233 7304l7 2 38-81-32-84-83-142z" fill="#22ff00" stroke="none"/>
<path d="M5227 7109l-64-110 43 189z" fill="#69ff00" stroke="none"/>
<path d="M5191 7047l-28-48 19 83z" fill="#99ff00" stroke="none"/>
<path d="M5233 7304l83 20-70-183-83-142z" fill="none"/>
<path d="M5150 7311l83-7-70-305-83-36z" fill="#22ff00" stroke="none"/>
<path d="M5206 7188l-43-189-83-36 58 287z" fill="#69ff00" stroke="none"/>
<path d="M5182 7082l-19-83-83-36 37 184z" fill="#99ff00" stroke="none"/>
<path d="M5144 6991l-64-28 16 81z" fill="#e0ff00" stroke="none"/>
<path d="M5150 7311l83-7-70-305-83-36z" fill="none"/>
<path d="M5067 7400l83-89-70-348-83 132z" fill="#22ff00" stroke="none"/>
<path d="M5138 7250l-58-287-83 132 44 190z" fill="#69ff00" stroke="none"/>
<path d="M5117 7147l-37-184-83 132 19 83z" fill="#99ff00" stroke="none"/>
<path d="M5096 7044l-16-81-64 103z" fill="#e0ff00" stroke="none"/>
<path d="M5067 7400l83-89-70-348-83 132z" fill="none"/>
<path d="M4984 7517l83-117-70-305-83 239z" fill="#00ff0e" stroke="none"/>
<path d="M5061 7410l6-10-70-305-83 239 32 84z" fill="#22ff00" stroke="none"/>
<path d="M5041 7285l-44-190-65 186z" fill="#69ff00" stroke="none"/>
<path d="M5016 7178l-19-83-28 81z" fill="#99ff00" stroke="none"/>
<path d="M4984 7517l83-117-70-305-83 239z" fill="none"/>
<path d="M4901 7633l83-116-70-183-83 199z" fill="#00ff55" stroke="none"/>
<path d="M4944 7573l40-56-70-183-82 197z" fill="#00ff0e" stroke="none"/>
<path d="M4946 7418l-32-84-29 70z" fill="#22ff00" stroke="none"/>
<path d="M4901 7633l83-116-70-183-83 199z" fill="none"/>
<path d="M4818 7783l83-150-70-100-83 138z" fill="#00ff85" stroke="none"/>
<path d="M4852 7723l49-90-70-100-83 138 6 10z" fill="#00ff55" stroke="none"/>
<path d="M4818 7783l83-150-70-100-83 138z" fill="none"/>
<path d="M4736 7898l82-115-70-112-83 119z" fill="#00ffcc" stroke="none"/>
<path d="M4750 7877l68-94-70-112-83 119 50 76z" fill="#00ff85" stroke="none"/>
<path d="M4754 7681l-6-10-4 7z" fill="#00ff55" stroke="none"/>
<path d="M4736 7898l82-115-70-112-83 119z" fill="none"/>
<path d="M4653 8010l83-112-71-108-83 117z" fill="#00ffcc" stroke="none"/>
<path d="M4715 7866l-50-76-34 49z" fill="#00ff85" stroke="none"/>
<path d="M4653 8010l83-112-71-108-83 117z" fill="none"/>
<path d="M4570 8100l83-90-71-103-82 77z" fill="#00fffc" stroke="none"/>
<path d="M4614 8053l39-43-71-103-82 77 38 64z" fill="#00ffcc" stroke="none"/>
<path d="M4570 8100l83-90-71-103-82 77z" fill="none"/>
<path d="M4487 8179l83-79-70-116-83 85z" fill="#00fffc" stroke="none"/>
<path d="M4538 8048l-38-64-62 63z" fill="#00ffcc" stroke="none"/>
<path d="M4487 8179l83-79-70-116-83 85z" fill="none"/>
<path d="M4404 8258l83-79-70-110-83 76z" fill="#00fffc"/>
<path d="M4321 8321l83-63-70-113-83 64z" fill="#00bbff" stroke="none"/>
<path d="M4334 8311l70-53-70-113-83 64 67 106z" fill="#00fffc" stroke="none"/>
<path d="M4321 8321l83-63-70-113-83 64z" fill="none"/>
<path d="M4238 8372l83-51-70-112-83 42z" fill="#00bbff" stroke="none"/>
<path d="M4318 8315l-67-106-83 42 63 109z" fill="#00fffc" stroke="none"/>
<path d="M4238 8372l83-51-70-112-83 42z" fill="none"/>
<path d="M4155 8418l83-46-70-121-83 96z" fill="#00bbff" stroke="none"/>
<path d="M4231 8360l-63-109-83 96 19 19z" fill="#00fffc" stroke="none"/>
<path d="M4155 8418l83-46-70-121-83 96z" fill="none"/>
<path d="M4072 8488l83-70-70-71-83 21z" fill="#00bbff" stroke="none"/>
<path d="M4104 8366l-19-19-83 21 37 64z" fill="#00fffc" stroke="none"/>
<path d="M4072 8488l83-70-70-71-83 21z" fill="none"/>
<path d="M3990 8542l82-54-70-120-83 56z" fill="#00bbff" stroke="none"/>
<path d="M4039 8432l-37-64-83 56 29 47z" fill="#00fffc" stroke="none"/>
<path d="M3990 8542l82-54-70-120-83 56z" fill="none"/>
<path d="M3907 8541l83 1-71-118-83 25z" fill="#00bbff" stroke="none"/>
<path d="M3907 8541l31 0 10-70-29-47-83 25z" fill="#00fffc" stroke="none"/>
<path d="M3907 8541l83 1-71-118-83 25z" fill="none"/>
<path d="M3824 8568l83-27-71-92-83 69z" fill="#00fffc"/>
<path d="M3741 8654l83-86-71-50-82-1z" fill="#00fffc"/>
<path d="M3658 8577l83 77-70-137-83 16z" fill="#00fffc" stroke="none"/>
<path d="M3658 8577l21 19-69-67-22 4z" fill="#00ffcc" stroke="none"/>
<path d="M3658 8577l83 77-70-137-83 16z" fill="none"/>
<path d="M3575 8655l83-78-70-44-83 42z" fill="#00ffcc"/>
<path d="M6712 7023l83-107-70-93-83 18z" fill="#00fffc" stroke="none"/>
<path d="M6729 6829l-4-6-83 18 20 51z" fill="#00ffcc" stroke="none"/>
<path d="M6712 7023l83-107-70-93-83 18z" fill="none"/>
<path d="M6630 7122l82-99-70-182-83 174z" fill="#00bbff" stroke="none"/>
<path d="M6691 7048l21-25-70-182-83 174 4 5z" fill="#00fffc" stroke="none"/>
<path d="M6662 6892l-20-51-21 44z" fill="#00ffcc" stroke="none"/>
<path d="M6630 7122l82-99-70-182-83 174z" fill="none"/>
<path d="M6547 7200l83-78-71-107-83 10z" fill="#00bbff" stroke="none"/>
<path d="M6563 7020l-4-5-83 10 26 65z" fill="#00fffc" stroke="none"/>
<path d="M6547 7200l83-78-71-107-83 10z" fill="none"/>
<path d="M6464 7284l83-84-71-175-82 69z" fill="#008bff" stroke="none"/>
<path d="M6483 7265l64-65-71-175-82 69 65 177z" fill="#00bbff" stroke="none"/>
<path d="M6502 7090l-26-65-82 69 10 30z" fill="#00fffc" stroke="none"/>
<path d="M6464 7284l83-84-71-175-82 69z" fill="none"/>
<path d="M6381 7290l83-6-70-190-83 98z" fill="#008bff" stroke="none"/>
<path d="M6381 7290l66-4 12-15-65-177-83 98z" fill="#00bbff" stroke="none"/>
<path d="M6404 7124l-10-30-32 38z" fill="#00fffc" stroke="none"/>
<path d="M6381 7290l83-6-70-190-83 98z" fill="none"/>
<path d="M6298 7351l83-61-70-98-83 43z" fill="#00bbff"/>
<path d="M6215 7372l83-21-70-116-83 26z" fill="#00bbff"/>
<path d="M6132 7424l83-52-70-111-83 51z" fill="#00bbff"/>
<path d="M6049 7459l83-35-70-112-83 45z" fill="#00bbff"/>
<path d="M5966 7494l83-35-70-102-83 33z" fill="#00bbff" stroke="none"/>
<path d="M5966 7362l-70 28 24 35z" fill="#00fffc" stroke="none"/>
<path d="M5966 7494l83-35-70-102-83 33z" fill="none"/>
<path d="M5884 7515l82-21-70-104-83 18z" fill="#00bbff" stroke="none"/>
<path d="M5884 7515l8-2 28-88-24-35-83 18z" fill="#00fffc" stroke="none"/>
<path d="M5884 7515l82-21-70-104-83 18z" fill="none"/>
<path d="M5801 7534l83-19-71-107-83 18z" fill="#00fffc"/>
<path d="M5718 7536l83-2-71-108-83 6z" fill="#00fffc" stroke="none"/>
<path d="M5686 7429l-39 3 37 54z" fill="#00ffcc" stroke="none"/>
<path d="M5718 7536l83-2-71-108-83 6z" fill="none"/>
<path d="M5635 7549l83-13-71-104-82-16z" fill="#00fffc" stroke="none"/>
<path d="M5635 7549l41-6 8-57-37-54-82-16z" fill="#00ffcc" stroke="none"/>
<path d="M5635 7549l83-13-71-104-82-16z" fill="none"/>
<path d="M5552 7523l83 26-70-133-83-19z" fill="#00ffcc" stroke="none"/>
<path d="M5550 7413l-68-16 66 118z" fill="#00ff85" stroke="none"/>
<path d="M5552 7523l83 26-70-133-83-19z" fill="none"/>
<path d="M5469 7486l83 37-70-126-83-53z" fill="#00ffcc" stroke="none"/>
<path d="M5469 7486l79 35 0-6-66-118-83-53z" fill="#00ff85" stroke="none"/>
<path d="M5448 7376l-49-32 56 114z" fill="#00ff55" stroke="none"/>
<path d="M5469 7486l83 37-70-126-83-53z" fill="none"/>
<path d="M5386 7475l83 11-70-142-83-20z" fill="#00ff85" stroke="none"/>
<path d="M5386 7475l62 8 7-25-56-114-83-20z" fill="#00ff55" stroke="none"/>
<path d="M5356 7334l-40-10 27 59z" fill="#00ff0e" stroke="none"/>
<path d="M5386 7475l83 11-70-142-83-20z" fill="none"/>
<path d="M5303 7486l83-11-70-151-83-20z" fill="#00ff55" stroke="none"/>
<path d="M5343 7383l-27-59-83-20 62 160z" fill="#00ff0e" stroke="none"/>
<path d="M5240 7306l-7-2 3 9z" fill="#22ff00" stroke="none"/>
<path d="M5303 7486l83-11-70-151-83-20z" fill="none"/>
<path d="M5220 7503l83-17-70-182-83 7z" fill="#00ff55" stroke="none"/>
<path d="M5220 7503l47-10 28-29-62-160-83 7z" fill="#00ff0e" stroke="none"/>
<path d="M5236 7313l-3-9-83 7 26 72z" fill="#22ff00" stroke="none"/>
<path d="M5220 7503l83-17-70-182-83 7z" fill="none"/>
<path d="M5137 7582l83-79-70-192-83 89z" fill="#00ff55" stroke="none"/>
<path d="M5174 7547l46-44-70-192-83 89 62 161z" fill="#00ff0e" stroke="none"/>
<path d="M5176 7383l-26-72-83 89 4 9z" fill="#22ff00" stroke="none"/>
<path d="M5137 7582l83-79-70-192-83 89z" fill="none"/>
<path d="M5055 7668l82-86-70-182-83 117z" fill="#00ff55" stroke="none"/>
<path d="M5129 7561l-62-161-83 117 28 59z" fill="#00ff0e" stroke="none"/>
<path d="M5071 7409l-4-9-6 10z" fill="#22ff00" stroke="none"/>
<path d="M5055 7668l82-86-70-182-83 117z" fill="none"/>
<path d="M4972 7775l83-107-71-151-83 116z" fill="#00ff85" stroke="none"/>
<path d="M4992 7749l63-81-71-151-83 116 57 114z" fill="#00ff55" stroke="none"/>
<path d="M5012 7576l-28-59-40 56z" fill="#00ff0e" stroke="none"/>
<path d="M4972 7775l83-107-71-151-83 116z" fill="none"/>
<path d="M4889 7908l83-133-71-142-83 150z" fill="#00ffcc" stroke="none"/>
<path d="M4892 7903l80-128-71-142-83 150 66 117z" fill="#00ff85" stroke="none"/>
<path d="M4958 7747l-57-114-49 90z" fill="#00ff55" stroke="none"/>
<path d="M4889 7908l83-133-71-142-83 150z" fill="none"/>
<path d="M4806 8031l83-123-71-125-82 115z" fill="#00ffcc" stroke="none"/>
<path d="M4884 7900l-66-117-68 94z" fill="#00ff85" stroke="none"/>
<path d="M4806 8031l83-123-71-125-82 115z" fill="none"/>
<path d="M4723 8115l83-84-70-133-83 112z" fill="#00fffc" stroke="none"/>
<path d="M4765 8072l41-41-70-133-83 112 36 55z" fill="#00ffcc" stroke="none"/>
<path d="M4723 8115l83-84-70-133-83 112z" fill="none"/>
<path d="M4640 8209l83-94-70-105-83 90z" fill="#00fffc" stroke="none"/>
<path d="M4689 8065l-36-55-39 43z" fill="#00ffcc" stroke="none"/>
<path d="M4640 8209l83-94-70-105-83 90z" fill="none"/>
<path d="M4557 8286l83-77-70-109-83 79z" fill="#00fffc"/>
<path d="M4474 8361l83-75-70-107-83 79z" fill="#00bbff" stroke="none"/>
<path d="M4548 8294l9-8-70-107-83 79 24 35z" fill="#00fffc" stroke="none"/>
<path d="M4474 8361l83-75-70-107-83 79z" fill="none"/>
<path d="M4391 8423l83-62-70-103-83 63z" fill="#00bbff" stroke="none"/>
<path d="M4428 8293l-24-35-70 53z" fill="#00fffc" stroke="none"/>
<path d="M4391 8423l83-62-70-103-83 63z" fill="none"/>
<path d="M4308 8485l83-62-70-102-83 51z" fill="#00bbff"/>
<path d="M4226 8529l82-44-70-113-83 46z" fill="#00bbff"/>
<path d="M4143 8605l83-76-71-111-83 70z" fill="#00bbff"/>
<path d="M4060 8640l83-35-71-117-82 54z" fill="#00bbff"/>
<path d="M3977 8731l83-91-70-98-83-1z" fill="#008bff" stroke="none"/>
<path d="M3994 8712l66-72-70-98-83-1 65 176z" fill="#00bbff" stroke="none"/>
<path d="M3938 8541l-31 0 10 29z" fill="#00fffc" stroke="none"/>
<path d="M3977 8731l83-91-70-98-83-1z" fill="none"/>
<path d="M3894 8742l83-11-70-190-83 27z" fill="#008bff" stroke="none"/>
<path d="M3894 8742l63-9 15-16-65-176-83 27z" fill="#00bbff" stroke="none"/>
<path d="M3917 8570l-10-29-83 27 26 64z" fill="#00fffc" stroke="none"/>
<path d="M3894 8742l83-11-70-190-83 27z" fill="none"/>
<path d="M3811 8761l83-19-70-174-83 86z" fill="#00bbff" stroke="none"/>
<path d="M3850 8632l-26-64-83 86 3 5z" fill="#00fffc" stroke="none"/>
<path d="M3811 8761l83-19-70-174-83 86z" fill="none"/>
<path d="M3728 8758l83 3-70-107-83-77z" fill="#00bbff" stroke="none"/>
<path d="M3728 8758l21 1-5-100-3-5-83-77z" fill="#00fffc" stroke="none"/>
<path d="M3679 8596l-21-19 19 50z" fill="#00ffcc" stroke="none"/>
<path d="M3728 8758l83 3-70-107-83-77z" fill="none"/>
<path d="M3645 8748l83 10-70-181-83 78z" fill="#00fffc" stroke="none"/>
<path d="M3677 8627l-19-50-83 78 4 5z" fill="#00ffcc" stroke="none"/>
<path d="M3645 8748l83 10-70-181-83 78z" fill="none"/>
<path d="M6783 7182l83-107-71-159-83 107z" fill="#00bbff" stroke="none"/>
<path d="M6850 7039l-55-123-83 107 10 22z" fill="#00fffc" stroke="none"/>
<path d="M6783 7182l83-107-71-159-83 107z" fill="none"/>
<path d="M6700 7270l83-88-71-159-82 99z" fill="#008bff" stroke="none"/>
<path d="M6749 7217l34-35-71-159-82 99 49 105z" fill="#00bbff" stroke="none"/>
<path d="M6722 7045l-10-22-21 25z" fill="#00fffc" stroke="none"/>
<path d="M6700 7270l83-88-71-159-82 99z" fill="none"/>
<path d="M6617 7351l83-81-70-148-83 78z" fill="#008bff" stroke="none"/>
<path d="M6679 7227l-49-105-83 78 23 50z" fill="#00bbff" stroke="none"/>
<path d="M6617 7351l83-81-70-148-83 78z" fill="none"/>
<path d="M6534 7383l83-32-70-151-83 84z" fill="#008bff" stroke="none"/>
<path d="M6570 7250l-23-50-64 65z" fill="#00bbff" stroke="none"/>
<path d="M6534 7383l83-32-70-151-83 84z" fill="none"/>
<path d="M6451 7465l83-82-70-99-83 6z" fill="#008bff" stroke="none"/>
<path d="M6447 7286l-66 4 22 55z" fill="#00bbff" stroke="none"/>
<path d="M6451 7465l83-82-70-99-83 6z" fill="none"/>
<path d="M6368 7484l83-19-70-175-83 61z" fill="#008bff" stroke="none"/>
<path d="M6403 7345l-22-55-83 61 22 42z" fill="#00bbff" stroke="none"/>
<path d="M6368 7484l83-19-70-175-83 61z" fill="none"/>
<path d="M6285 7533l83-49-70-133-83 21z" fill="#008bff" stroke="none"/>
<path d="M6320 7393l-22-42-83 21 36 83z" fill="#00bbff" stroke="none"/>
<path d="M6285 7533l83-49-70-133-83 21z" fill="none"/>
<path d="M6202 7573l83-40-70-161-83 52z" fill="#008bff" stroke="none"/>
<path d="M6251 7455l-36-83-83 52 38 81z" fill="#00bbff" stroke="none"/>
<path d="M6202 7573l83-40-70-161-83 52z" fill="none"/>
<path d="M6120 7622l82-49-70-149-83 35z" fill="#008bff" stroke="none"/>
<path d="M6170 7505l-38-81-83 35 43 98z" fill="#00bbff" stroke="none"/>
<path d="M6120 7622l82-49-70-149-83 35z" fill="none"/>
<path d="M6037 7623l83-1-71-163-83 35z" fill="#008bff" stroke="none"/>
<path d="M6037 7623l16-1 39-65-43-98-83 35z" fill="#00bbff" stroke="none"/>
<path d="M6037 7623l83-1-71-163-83 35z" fill="none"/>
<path d="M5954 7671l83-48-71-129-82 21z" fill="#00bbff" stroke="none"/>
<path d="M5892 7513l-8 2 2 5z" fill="#00fffc" stroke="none"/>
<path d="M5954 7671l83-48-71-129-82 21z" fill="none"/>
<path d="M5871 7692l83-21-70-156-83 19z" fill="#00bbff" stroke="none"/>
<path d="M5886 7520l-2-5-83 19 24 55z" fill="#00fffc" stroke="none"/>
<path d="M5871 7692l83-21-70-156-83 19z" fill="none"/>
<path d="M5788 7693l83-1-70-158-83 2z" fill="#00bbff" stroke="none"/>
<path d="M5825 7589l-24-55-83 2 61 136z" fill="#00fffc" stroke="none"/>
<path d="M5788 7693l83-1-70-158-83 2z" fill="none"/>
<path d="M5705 7713l83-20-70-157-83 13z" fill="#00bbff" stroke="none"/>
<path d="M5705 7713l47-11 27-30-61-136-83 13z" fill="#00fffc" stroke="none"/>
<path d="M5676 7543l-41 6 13 30z" fill="#00ffcc" stroke="none"/>
<path d="M5705 7713l83-20-70-157-83 13z" fill="none"/>
<path d="M5622 7702l83 11-70-164-83-26z" fill="#00fffc" stroke="none"/>
<path d="M5648 7579l-13-30-83-26 57 146z" fill="#00ffcc" stroke="none"/>
<path d="M5622 7702l83 11-70-164-83-26z" fill="none"/>
<path d="M5539 7680l83 22-70-179-83-37z" fill="#00fffc" stroke="none"/>
<path d="M5539 7680l58 16 12-27-57-146-83-37z" fill="#00ffcc" stroke="none"/>
<path d="M5548 7521l-79-35 45 124z" fill="#00ff85" stroke="none"/>
<path d="M5539 7680l83 22-70-179-83-37z" fill="none"/>
<path d="M5456 7674l83 6-70-194-83-11z" fill="#00ffcc" stroke="none"/>
<path d="M5456 7674l13 1 45-65-45-124-83-11z" fill="#00ff85" stroke="none"/>
<path d="M5448 7483l-62-8 24 67z" fill="#00ff55" stroke="none"/>
<path d="M5456 7674l83 6-70-194-83-11z" fill="none"/>
<path d="M5373 7698l83-24-70-199-83 11z" fill="#00ff85" stroke="none"/>
<path d="M5410 7542l-24-67-83 11 40 120z" fill="#00ff55" stroke="none"/>
<path d="M5373 7698l83-24-70-199-83 11z" fill="none"/>
<path d="M5291 7736l82-38-70-212-83 17z" fill="#00ff85" stroke="none"/>
<path d="M5343 7606l-40-120-83 17 48 159z" fill="#00ff55" stroke="none"/>
<path d="M5267 7493l-47 10 8 24z" fill="#00ff0e" stroke="none"/>
<path d="M5291 7736l82-38-70-212-83 17z" fill="none"/>
<path d="M5208 7794l83-58-71-233-83 79z" fill="#00ff85" stroke="none"/>
<path d="M5268 7662l-48-159-83 79 40 120z" fill="#00ff55" stroke="none"/>
<path d="M5228 7527l-8-24-46 44z" fill="#00ff0e" stroke="none"/>
<path d="M5208 7794l83-58-71-233-83 79z" fill="none"/>
<path d="M5125 7867l83-73-71-212-82 86z" fill="#00ff85" stroke="none"/>
<path d="M5177 7702l-40-120-82 86 23 67z" fill="#00ff55" stroke="none"/>
<path d="M5125 7867l83-73-71-212-82 86z" fill="none"/>
<path d="M5042 7970l83-103-70-199-83 107z" fill="#00ffcc" stroke="none"/>
<path d="M5112 7882l13-15-70-199-83 107 44 124z" fill="#00ff85" stroke="none"/>
<path d="M5078 7735l-23-67-63 81z" fill="#00ff55" stroke="none"/>
<path d="M5042 7970l83-103-70-199-83 107z" fill="none"/>
<path d="M4959 8088l83-118-70-195-83 133z" fill="#00fffc" stroke="none"/>
<path d="M4984 8053l58-83-70-195-83 133 57 147z" fill="#00ffcc" stroke="none"/>
<path d="M5016 7899l-44-124-80 128z" fill="#00ff85" stroke="none"/>
<path d="M4959 8088l83-118-70-195-83 133z" fill="none"/>
<path d="M4876 8195l83-107-70-180-83 123z" fill="#00fffc" stroke="none"/>
<path d="M4946 8055l-57-147-83 123 13 30z" fill="#00ffcc" stroke="none"/>
<path d="M4876 8195l83-107-70-180-83 123z" fill="none"/>
<path d="M4793 8271l83-76-70-164-83 84z" fill="#00bbff" stroke="none"/>
<path d="M4829 8239l47-44-70-164-83 84 61 135z" fill="#00fffc" stroke="none"/>
<path d="M4819 8061l-13-30-41 41z" fill="#00ffcc" stroke="none"/>
<path d="M4793 8271l83-76-70-164-83 84z" fill="none"/>
<path d="M4710 8366l83-95-70-156-83 94z" fill="#00bbff" stroke="none"/>
<path d="M4784 8250l-61-135-83 94 25 55z" fill="#00fffc" stroke="none"/>
<path d="M4710 8366l83-95-70-156-83 94z" fill="none"/>
<path d="M4627 8443l83-77-70-157-83 77z" fill="#00bbff" stroke="none"/>
<path d="M4665 8264l-25-55-83 77 2 5z" fill="#00fffc" stroke="none"/>
<path d="M4627 8443l83-77-70-157-83 77z" fill="none"/>
<path d="M4545 8490l82-47-70-157-83 75z" fill="#00bbff" stroke="none"/>
<path d="M4559 8291l-2-5-9 8z" fill="#00fffc" stroke="none"/>
<path d="M4545 8490l82-47-70-157-83 75z" fill="none"/>
<path d="M4462 8586l83-96-71-129-83 62z" fill="#008bff" stroke="none"/>
<path d="M4528 8509l17-19-71-129-83 62 43 98z" fill="#00bbff" stroke="none"/>
<path d="M4462 8586l83-96-71-129-83 62z" fill="none"/>
<path d="M4379 8634l83-48-71-163-83 62z" fill="#008bff" stroke="none"/>
<path d="M4434 8521l-43-98-83 62 38 80z" fill="#00bbff" stroke="none"/>
<path d="M4379 8634l83-48-71-163-83 62z" fill="none"/>
<path d="M4296 8690l83-56-71-149-82 44z" fill="#008bff" stroke="none"/>
<path d="M4346 8565l-38-80-82 44 36 83z" fill="#00bbff" stroke="none"/>
<path d="M4296 8690l83-56-71-149-82 44z" fill="none"/>
<path d="M4213 8738l83-48-70-161-83 76z" fill="#008bff" stroke="none"/>
<path d="M4262 8612l-36-83-83 76 22 42z" fill="#00bbff" stroke="none"/>
<path d="M4213 8738l83-48-70-161-83 76z" fill="none"/>
<path d="M4130 8815l83-77-70-133-83 35z" fill="#008bff" stroke="none"/>
<path d="M4165 8647l-22-42-83 35 22 55z" fill="#00bbff" stroke="none"/>
<path d="M4130 8815l83-77-70-133-83 35z" fill="none"/>
<path d="M4047 8830l83-15-70-175-83 91z" fill="#008bff" stroke="none"/>
<path d="M4082 8695l-22-55-66 72z" fill="#00bbff" stroke="none"/>
<path d="M4047 8830l83-15-70-175-83 91z" fill="none"/>
<path d="M3964 8893l83-63-70-99-83 11z" fill="#008bff" stroke="none"/>
<path d="M3957 8733l-63 9 23 50z" fill="#00bbff" stroke="none"/>
<path d="M3964 8893l83-63-70-99-83 11z" fill="none"/>
<path d="M3881 8909l83-16-70-151-83 19z" fill="#008bff" stroke="none"/>
<path d="M3917 8792l-23-50-83 19 50 105z" fill="#00bbff" stroke="none"/>
<path d="M3881 8909l83-16-70-151-83 19z" fill="none"/>
<path d="M3798 8917l83-8-70-148-83-3z" fill="#008bff" stroke="none"/>
<path d="M3798 8917l34-3 29-48-50-105-83-3z" fill="#00bbff" stroke="none"/>
<path d="M3749 8759l-21-1 10 22z" fill="#00fffc" stroke="none"/>
<path d="M3798 8917l83-8-70-148-83-3z" fill="none"/>
<path d="M3716 8907l82 10-70-159-83-10z" fill="#00bbff" stroke="none"/>
<path d="M3738 8780l-10-22-83-10 55 123z" fill="#00fffc" stroke="none"/>
<path d="M3716 8907l82 10-70-159-83-10z" fill="none"/>
<path d="M6853 7247l83-33-70-139-83 107z" fill="#00bbff"/>
<path d="M6770 7401l83-154-70-65-83 88z" fill="#008bff" stroke="none"/>
<path d="M6839 7273l14-26-70-65-34 35z" fill="#00bbff" stroke="none"/>
<path d="M6770 7401l83-154-70-65-83 88z" fill="none"/>
<path d="M6687 7457l83-56-70-131-83 81z" fill="#0044ff" stroke="none"/>
<path d="M6688 7457l82-56-70-131-83 81 70 106z" fill="#008bff" stroke="none"/>
<path d="M6687 7457l83-56-70-131-83 81z" fill="none"/>
<path d="M6604 7515l83-58-70-106-83 32z" fill="#0044ff" stroke="none"/>
<path d="M6687 7457l-70-106-83 32 60 112z" fill="#008bff" stroke="none"/>
<path d="M6604 7515l83-58-70-106-83 32z" fill="none"/>
<path d="M6521 7627l83-112-70-132-83 82z" fill="#0044ff" stroke="none"/>
<path d="M6594 7495l-60-112-83 82 16 37z" fill="#008bff" stroke="none"/>
<path d="M6521 7627l83-112-70-132-83 82z" fill="none"/>
<path d="M6439 7640l82-13-70-162-83 19z" fill="#0044ff" stroke="none"/>
<path d="M6467 7502l-16-37-83 19 40 89z" fill="#008bff" stroke="none"/>
<path d="M6439 7640l82-13-70-162-83 19z" fill="none"/>
<path d="M6356 7686l83-46-71-156-83 49z" fill="#0044ff" stroke="none"/>
<path d="M6408 7573l-40-89-83 49 41 89z" fill="#008bff" stroke="none"/>
<path d="M6356 7686l83-46-71-156-83 49z" fill="none"/>
<path d="M6273 7737l83-51-71-153-83 40z" fill="#0044ff" stroke="none"/>
<path d="M6326 7622l-41-89-83 40 42 98z" fill="#008bff" stroke="none"/>
<path d="M6273 7737l83-51-71-153-83 40z" fill="none"/>
<path d="M6190 7759l83-22-71-164-82 49z" fill="#0044ff" stroke="none"/>
<path d="M6244 7671l-42-98-82 49 57 112z" fill="#008bff" stroke="none"/>
<path d="M6190 7759l83-22-71-164-82 49z" fill="none"/>
<path d="M6107 7794l83-35-70-137-83 1z" fill="#0044ff" stroke="none"/>
<path d="M6107 7794l4-2 66-58-57-112-83 1z" fill="#008bff" stroke="none"/>
<path d="M6053 7622l-16 1 6 15z" fill="#00bbff" stroke="none"/>
<path d="M6107 7794l83-35-70-137-83 1z" fill="none"/>
<path d="M6024 7817l83-23-70-171-83 48z" fill="#008bff" stroke="none"/>
<path d="M6043 7638l-6-15-83 48 8 17z" fill="#00bbff" stroke="none"/>
<path d="M6024 7817l83-23-70-171-83 48z" fill="none"/>
<path d="M5941 7847l83-30-70-146-83 21z" fill="#008bff" stroke="none"/>
<path d="M5962 7688l-8-17-83 21 29 64z" fill="#00bbff" stroke="none"/>
<path d="M5941 7847l83-30-70-146-83 21z" fill="none"/>
<path d="M5858 7876l83-29-70-155-83 1z" fill="#008bff" stroke="none"/>
<path d="M5900 7756l-29-64-83 1 50 132z" fill="#00bbff" stroke="none"/>
<path d="M5858 7876l83-29-70-155-83 1z" fill="none"/>
<path d="M5775 7897l83-21-70-183-83 20z" fill="#008bff" stroke="none"/>
<path d="M5838 7825l-50-132-83 20 67 176z" fill="#00bbff" stroke="none"/>
<path d="M5752 7702l-47 11 10 25z" fill="#00fffc" stroke="none"/>
<path d="M5775 7897l83-21-70-183-83 20z" fill="none"/>
<path d="M5692 7905l83-8-70-184-83-11z" fill="#008bff" stroke="none"/>
<path d="M5692 7905l73-7 7-9-67-176-83-11z" fill="#00bbff" stroke="none"/>
<path d="M5715 7738l-10-25-83-11 39 112z" fill="#00fffc" stroke="none"/>
<path d="M5692 7905l83-8-70-184-83-11z" fill="none"/>
<path d="M5610 7900l82 5-70-203-83-22z" fill="#00bbff" stroke="none"/>
<path d="M5661 7814l-39-112-83-22 67 209z" fill="#00fffc" stroke="none"/>
<path d="M5597 7696l-58-16 23 71z" fill="#00ffcc" stroke="none"/>
<path d="M5610 7900l82 5-70-203-83-22z" fill="none"/>
<path d="M5527 7915l83-15-71-220-83-6z" fill="#00bbff" stroke="none"/>
<path d="M5527 7915l63-11 16-15-67-209-83-6z" fill="#00fffc" stroke="none"/>
<path d="M5562 7751l-23-71-83-6 42 144z" fill="#00ffcc" stroke="none"/>
<path d="M5469 7675l-13-1 4 11z" fill="#00ff85" stroke="none"/>
<path d="M5527 7915l83-15-71-220-83-6z" fill="none"/>
<path d="M5444 7916l83-1-71-241-83 24z" fill="#00fffc" stroke="none"/>
<path d="M5498 7818l-42-144-83 24 60 185z" fill="#00ffcc" stroke="none"/>
<path d="M5460 7685l-4-11-83 24 16 47z" fill="#00ff85" stroke="none"/>
<path d="M5444 7916l83-1-71-241-83 24z" fill="none"/>
<path d="M5361 7964l83-48-71-218-82 38z" fill="#00fffc" stroke="none"/>
<path d="M5433 7883l-60-185-82 38 60 196z" fill="#00ffcc" stroke="none"/>
<path d="M5389 7745l-16-47-82 38 18 60z" fill="#00ff85" stroke="none"/>
<path d="M5361 7964l83-48-71-218-82 38z" fill="none"/>
<path d="M5278 8012l83-48-70-228-83 58z" fill="#00fffc" stroke="none"/>
<path d="M5351 7932l-60-196-83 58 59 185z" fill="#00ffcc" stroke="none"/>
<path d="M5309 7796l-18-60-83 58 15 47z" fill="#00ff85" stroke="none"/>
<path d="M5278 8012l83-48-70-228-83 58z" fill="none"/>
<path d="M5195 8108l83-96-70-218-83 73z" fill="#00fffc" stroke="none"/>
<path d="M5267 7979l-59-185-83 73 42 144z" fill="#00ffcc" stroke="none"/>
<path d="M5223 7841l-15-47-83 73 3 11z" fill="#00ff85" stroke="none"/>
<path d="M5195 8108l83-96-70-218-83 73z" fill="none"/>
<path d="M5112 8189l83-81-70-241-83 103z" fill="#00bbff" stroke="none"/>
<path d="M5132 8170l63-62-70-241-83 103 67 208z" fill="#00fffc" stroke="none"/>
<path d="M5167 8011l-42-144-83 103 23 70z" fill="#00ffcc" stroke="none"/>
<path d="M5128 7878l-3-11-13 15z" fill="#00ff85" stroke="none"/>
<path d="M5112 8189l83-81-70-241-83 103z" fill="none"/>
<path d="M5029 8290l83-101-70-219-83 118z" fill="#00bbff" stroke="none"/>
<path d="M5109 8178l-67-208-83 118 39 112z" fill="#00fffc" stroke="none"/>
<path d="M5065 8040l-23-70-58 83z" fill="#00ffcc" stroke="none"/>
<path d="M5029 8290l83-101-70-219-83 118z" fill="none"/>
<path d="M4946 8379l83-89-70-202-83 107z" fill="#008bff" stroke="none"/>
<path d="M4957 8367l72-77-70-202-83 107 67 176z" fill="#00bbff" stroke="none"/>
<path d="M4998 8200l-39-112-83 107 10 25z" fill="#00fffc" stroke="none"/>
<path d="M4946 8379l83-89-70-202-83 107z" fill="none"/>
<path d="M4863 8455l83-76-70-184-83 76z" fill="#008bff" stroke="none"/>
<path d="M4943 8371l-67-176-83 76 51 132z" fill="#00bbff" stroke="none"/>
<path d="M4886 8220l-10-25-47 44z" fill="#00fffc" stroke="none"/>
<path d="M4863 8455l83-76-70-184-83 76z" fill="none"/>
<path d="M4781 8522l82-67-70-184-83 95z" fill="#008bff" stroke="none"/>
<path d="M4844 8403l-51-132-83 95 30 65z" fill="#00bbff" stroke="none"/>
<path d="M4781 8522l82-67-70-184-83 95z" fill="none"/>
<path d="M4698 8588l83-66-71-156-83 77z" fill="#008bff" stroke="none"/>
<path d="M4740 8431l-30-65-83 77 8 16z" fill="#00bbff" stroke="none"/>
<path d="M4698 8588l83-66-71-156-83 77z" fill="none"/>
<path d="M4615 8662l83-74-71-145-82 47z" fill="#008bff" stroke="none"/>
<path d="M4635 8459l-8-16-82 47 6 16z" fill="#00bbff" stroke="none"/>
<path d="M4615 8662l83-74-71-145-82 47z" fill="none"/>
<path d="M4532 8723l83-61-70-172-83 96z" fill="#0044ff" stroke="none"/>
<path d="M4611 8665l4-3-70-172-83 96 57 113z" fill="#008bff" stroke="none"/>
<path d="M4551 8506l-6-16-17 19z" fill="#00bbff" stroke="none"/>
<path d="M4532 8723l83-61-70-172-83 96z" fill="none"/>
<path d="M4449 8798l83-75-70-137-83 48z" fill="#0044ff" stroke="none"/>
<path d="M4519 8699l-57-113-83 48 42 98z" fill="#008bff" stroke="none"/>
<path d="M4449 8798l83-75-70-137-83 48z" fill="none"/>
<path d="M4366 8843l83-45-70-164-83 56z" fill="#0044ff" stroke="none"/>
<path d="M4421 8732l-42-98-83 56 41 89z" fill="#008bff" stroke="none"/>
<path d="M4366 8843l83-45-70-164-83 56z" fill="none"/>
<path d="M4283 8893l83-50-70-153-83 48z" fill="#0044ff" stroke="none"/>
<path d="M4337 8779l-41-89-83 48 40 88z" fill="#008bff" stroke="none"/>
<path d="M4283 8893l83-50-70-153-83 48z" fill="none"/>
<path d="M4200 8977l83-84-70-155-83 77z" fill="#0044ff" stroke="none"/>
<path d="M4253 8826l-40-88-83 77 16 37z" fill="#008bff" stroke="none"/>
<path d="M4200 8977l83-84-70-155-83 77z" fill="none"/>
<path d="M4117 8961l83 16-70-162-83 15z" fill="#0044ff" stroke="none"/>
<path d="M4146 8852l-16-37-83 15 60 111z" fill="#008bff" stroke="none"/>
<path d="M4117 8961l83 16-70-162-83 15z" fill="none"/>
<path d="M4034 9000l83-39-70-131-83 63z" fill="#0044ff" stroke="none"/>
<path d="M4107 8941l-60-111-83 63 70 107z" fill="#008bff" stroke="none"/>
<path d="M4034 9000l83-39-70-131-83 63z" fill="none"/>
<path d="M3952 9040l82-40-70-107-83 16z" fill="#0044ff" stroke="none"/>
<path d="M3952 9040l82-40 0 0-70-107-83 16z" fill="#008bff" stroke="none"/>
<path d="M3952 9040l82-40-70-107-83 16z" fill="none"/>
<path d="M3869 8982l83 58-71-131-83 8z" fill="#008bff" stroke="none"/>
<path d="M3869 8982l14 10-51-78-34 3z" fill="#00bbff" stroke="none"/>
<path d="M3869 8982l83 58-71-131-83 8z" fill="none"/>
<path d="M3786 9046l83-64-71-65-82-10z" fill="#00bbff"/>
<path d="M6923 7428l83-34-70-180-83 33z" fill="#0044ff" stroke="none"/>
<path d="M6997 7371l-61-157-83 33 70 180z" fill="#008bff" stroke="none"/>
<path d="M6938 7218l-2-4-83 33 11 28z" fill="#00bbff" stroke="none"/>
<path d="M6923 7428l83-34-70-180-83 33z" fill="none"/>
<path d="M6840 7486l83-58-70-181-83 154z" fill="#0044ff" stroke="none"/>
<path d="M6923 7427l-70-180-83 154 30 37z" fill="#008bff" stroke="none"/>
<path d="M6864 7275l-11-28-14 26z" fill="#00bbff" stroke="none"/>
<path d="M6840 7486l83-58-70-181-83 154z" fill="none"/>
<path d="M6757 7592l83-106-70-85-83 56z" fill="#0044ff" stroke="none"/>
<path d="M6800 7438l-30-37-82 56z" fill="#008bff" stroke="none"/>
<path d="M6757 7592l83-106-70-85-83 56z" fill="none"/>
<path d="M6675 7642l82-50-70-135-83 58z" fill="#0044ff"/>
<path d="M6592 7683l83-41-71-127-83 112z" fill="#0044ff"/>
<path d="M6509 7772l83-89-71-56-82 13z" fill="#0014ff" stroke="none"/>
<path d="M6524 7755l68-72-71-56-82 13 62 117z" fill="#0044ff" stroke="none"/>
<path d="M6509 7772l83-89-71-56-82 13z" fill="none"/>
<path d="M6426 7805l83-33-70-132-83 46z" fill="#0014ff" stroke="none"/>
<path d="M6426 7805l43-17 32-31-62-117-83 46z" fill="#0044ff" stroke="none"/>
<path d="M6426 7805l83-33-70-132-83 46z" fill="none"/>
<path d="M6343 7849l83-44-70-119-83 51z" fill="#0044ff"/>
<path d="M6260 7896l83-47-70-112-83 22z" fill="#0044ff"/>
<path d="M6177 7947l83-51-70-137-83 35z" fill="#0044ff" stroke="none"/>
<path d="M6111 7792l-4 2 0 1z" fill="#008bff" stroke="none"/>
<path d="M6177 7947l83-51-70-137-83 35z" fill="none"/>
<path d="M6094 7963l83-16-70-153-83 23z" fill="#0044ff" stroke="none"/>
<path d="M6107 7795l0-1-83 23 23 47z" fill="#008bff" stroke="none"/>
<path d="M6094 7963l83-16-70-153-83 23z" fill="none"/>
<path d="M6011 8006l83-43-70-146-83 30z" fill="#0044ff" stroke="none"/>
<path d="M6047 7864l-23-47-83 30 34 76z" fill="#008bff" stroke="none"/>
<path d="M6011 8006l83-43-70-146-83 30z" fill="none"/>
<path d="M5928 8033l83-27-70-159-83 29z" fill="#0044ff" stroke="none"/>
<path d="M5975 7923l-34-76-83 29 49 110z" fill="#008bff" stroke="none"/>
<path d="M5928 8033l83-27-70-159-83 29z" fill="none"/>
<path d="M5846 8072l82-39-70-157-83 21z" fill="#0044ff" stroke="none"/>
<path d="M5907 7986l-49-110-83 21 59 146z" fill="#008bff" stroke="none"/>
<path d="M5846 8072l82-39-70-157-83 21z" fill="none"/>
<path d="M5763 8087l83-15-71-175-83 8z" fill="#0044ff" stroke="none"/>
<path d="M5763 8087l39-7 32-37-59-146-83 8z" fill="#008bff" stroke="none"/>
<path d="M5765 7898l-73 7 22 55z" fill="#00bbff" stroke="none"/>
<path d="M5763 8087l83-15-71-175-83 8z" fill="none"/>
<path d="M5680 8104l83-17-71-182-82-5z" fill="#008bff" stroke="none"/>
<path d="M5714 7960l-22-55-82-5 44 131z" fill="#00bbff" stroke="none"/>
<path d="M5680 8104l83-17-71-182-82-5z" fill="none"/>
<path d="M5597 8134l83-30-70-204-83 15z" fill="#008bff" stroke="none"/>
<path d="M5654 8031l-44-131-83 15 56 174z" fill="#00bbff" stroke="none"/>
<path d="M5590 7904l-63 11 11 37z" fill="#00fffc" stroke="none"/>
<path d="M5597 8134l83-30-70-204-83 15z" fill="none"/>
<path d="M5514 8165l83-31-70-219-83 1z" fill="#008bff" stroke="none"/>
<path d="M5583 8089l-56-174-83 1 65 230z" fill="#00bbff" stroke="none"/>
<path d="M5538 7952l-11-37-83 1 28 99z" fill="#00fffc" stroke="none"/>
<path d="M5514 8165l83-31-70-219-83 1z" fill="none"/>
<path d="M5431 8214l83-49-70-249-83 48z" fill="#008bff" stroke="none"/>
<path d="M5509 8146l-65-230-83 48 64 230z" fill="#00bbff" stroke="none"/>
<path d="M5472 8015l-28-99-83 48 28 99z" fill="#00fffc" stroke="none"/>
<path d="M5431 8214l83-49-70-249-83 48z" fill="none"/>
<path d="M5348 8262l83-48-70-250-83 48z" fill="#008bff" stroke="none"/>
<path d="M5425 8194l-64-230-83 48 65 230z" fill="#00bbff" stroke="none"/>
<path d="M5389 8063l-28-99-83 48 28 100z" fill="#00fffc" stroke="none"/>
<path d="M5348 8262l83-48-70-250-83 48z" fill="none"/>
<path d="M5265 8327l83-65-70-250-83 96z" fill="#008bff" stroke="none"/>
<path d="M5343 8242l-65-230-83 96 56 174z" fill="#00bbff" stroke="none"/>
<path d="M5306 8112l-28-100-83 96 12 36z" fill="#00fffc" stroke="none"/>
<path d="M5265 8327l83-65-70-250-83 96z" fill="none"/>
<path d="M5182 8394l83-67-70-219-83 81z" fill="#008bff" stroke="none"/>
<path d="M5251 8282l-56-174-83 81 45 131z" fill="#00bbff" stroke="none"/>
<path d="M5207 8144l-12-36-63 62z" fill="#00fffc" stroke="none"/>
<path d="M5182 8394l83-67-70-219-83 81z" fill="none"/>
<path d="M5099 8472l83-78-70-205-83 101z" fill="#008bff" stroke="none"/>
<path d="M5157 8320l-45-131-83 101 22 56z" fill="#00bbff" stroke="none"/>
<path d="M5099 8472l83-78-70-205-83 101z" fill="none"/>
<path d="M5017 8554l82-82-70-182-83 89z" fill="#0044ff" stroke="none"/>
<path d="M5060 8511l39-39-70-182-83 89 59 146z" fill="#008bff" stroke="none"/>
<path d="M5051 8346l-22-56-72 77z" fill="#00bbff" stroke="none"/>
<path d="M5017 8554l82-82-70-182-83 89z" fill="none"/>
<path d="M4934 8612l83-58-71-175-83 76z" fill="#0044ff" stroke="none"/>
<path d="M5005 8525l-59-146-83 76 49 109z" fill="#008bff" stroke="none"/>
<path d="M4934 8612l83-58-71-175-83 76z" fill="none"/>
<path d="M4851 8681l83-69-71-157-82 67z" fill="#0044ff" stroke="none"/>
<path d="M4912 8564l-49-109-82 67 33 76z" fill="#008bff" stroke="none"/>
<path d="M4851 8681l83-69-71-157-82 67z" fill="none"/>
<path d="M4768 8734l83-53-70-159-83 66z" fill="#0044ff" stroke="none"/>
<path d="M4814 8598l-33-76-83 66 22 48z" fill="#008bff" stroke="none"/>
<path d="M4768 8734l83-53-70-159-83 66z" fill="none"/>
<path d="M4685 8815l83-81-70-146-83 74z" fill="#0044ff" stroke="none"/>
<path d="M4720 8636l-22-48-83 74 0 1z" fill="#008bff" stroke="none"/>
<path d="M4685 8815l83-81-70-146-83 74z" fill="none"/>
<path d="M4602 8860l83-45-70-153-83 61z" fill="#0044ff" stroke="none"/>
<path d="M4615 8663l0-1-4 3z" fill="#008bff" stroke="none"/>
<path d="M4602 8860l83-45-70-153-83 61z" fill="none"/>
<path d="M4519 8910l83-50-70-137-83 75z" fill="#0044ff"/>
<path d="M4436 8962l83-52-70-112-83 45z" fill="#0044ff"/>
<path d="M4353 9025l83-63-70-119-83 50z" fill="#0014ff" stroke="none"/>
<path d="M4393 8994l43-32-70-119-83 50 63 117z" fill="#0044ff" stroke="none"/>
<path d="M4353 9025l83-63-70-119-83 50z" fill="none"/>
<path d="M4271 9033l82-8-70-132-83 84z" fill="#0014ff" stroke="none"/>
<path d="M4271 9033l67-7 8-16-63-117-83 84z" fill="#0044ff" stroke="none"/>
<path d="M4271 9033l82-8-70-132-83 84z" fill="none"/>
<path d="M4188 9088l83-55-71-56-83-16z" fill="#0044ff"/>
<path d="M4105 9134l83-46-71-127-83 39z" fill="#0044ff"/>
<path d="M4022 9125l83 9-71-134-82 40z" fill="#0044ff" stroke="none"/>
<path d="M4034 9000l-82 40 30 37z" fill="#008bff" stroke="none"/>
<path d="M4022 9125l83 9-71-134-82 40z" fill="none"/>
<path d="M3939 9163l83-38-70-85-83-58z" fill="#0044ff" stroke="none"/>
<path d="M3982 9077l-30-37-83-58 70 181z" fill="#008bff" stroke="none"/>
<path d="M3883 8992l-14-10 11 29z" fill="#00bbff" stroke="none"/>
<path d="M3939 9163l83-38-70-85-83-58z" fill="none"/>
<path d="M3856 9226l83-63-70-181-83 64z" fill="#0044ff" stroke="none"/>
<path d="M3939 9163l-70-181-83 64 61 156z" fill="#008bff" stroke="none"/>
<path d="M3880 9011l-11-29-83 64 2 4z" fill="#00bbff" stroke="none"/>
<path d="M3856 9226l83-63-70-181-83 64z" fill="none"/>
<path d="M6993 7546l83-99-70-53-83 34z" fill="#0044ff"/>
<path d="M6911 7587l82-41-70-118-83 58z" fill="#0044ff"/>
<path d="M6828 7698l83-111-71-101-83 106z" fill="#0014ff" stroke="none"/>
<path d="M6842 7678l69-91-71-101-83 106 51 75z" fill="#0044ff" stroke="none"/>
<path d="M6828 7698l83-111-71-101-83 106z" fill="none"/>
<path d="M6745 7776l83-78-71-106-82 50z" fill="#0014ff" stroke="none"/>
<path d="M6808 7667l-51-75-82 50 26 51z" fill="#0044ff" stroke="none"/>
<path d="M6745 7776l83-78-71-106-82 50z" fill="none"/>
<path d="M6662 7846l83-70-70-134-83 41z" fill="#0014ff" stroke="none"/>
<path d="M6701 7693l-26-51-83 41 24 56z" fill="#0044ff" stroke="none"/>
<path d="M6662 7846l83-70-70-134-83 41z" fill="none"/>
<path d="M6579 7849l83-3-70-163-83 89z" fill="#0014ff" stroke="none"/>
<path d="M6616 7739l-24-56-68 72z" fill="#0044ff" stroke="none"/>
<path d="M6579 7849l83-3-70-163-83 89z" fill="none"/>
<path d="M6496 7916l83-67-70-77-83 33z" fill="#0014ff" stroke="none"/>
<path d="M6469 7788l-43 17 12 19z" fill="#0044ff" stroke="none"/>
<path d="M6496 7916l83-67-70-77-83 33z" fill="none"/>
<path d="M6413 7946l83-30-70-111-83 44z" fill="#0014ff" stroke="none"/>
<path d="M6438 7824l-12-19-83 44 27 37z" fill="#0044ff" stroke="none"/>
<path d="M6413 7946l83-30-70-111-83 44z" fill="none"/>
<path d="M6330 7984l83-38-70-97-83 47z" fill="#0014ff" stroke="none"/>
<path d="M6370 7886l-27-37-83 47 43 54z" fill="#0044ff" stroke="none"/>
<path d="M6330 7984l83-38-70-97-83 47z" fill="none"/>
<path d="M6247 8061l83-77-70-88-83 51z" fill="#0014ff" stroke="none"/>
<path d="M6303 7950l-43-54-83 51 15 24z" fill="#0044ff" stroke="none"/>
<path d="M6247 8061l83-77-70-88-83 51z" fill="none"/>
<path d="M6165 8099l82-38-70-114-83 16z" fill="#0014ff" stroke="none"/>
<path d="M6192 7971l-15-24-83 16 43 83z" fill="#0044ff" stroke="none"/>
<path d="M6165 8099l82-38-70-114-83 16z" fill="none"/>
<path d="M6082 8125l83-26-71-136-83 43z" fill="#0014ff" stroke="none"/>
<path d="M6137 8046l-43-83-83 43 65 109z" fill="#0044ff" stroke="none"/>
<path d="M6082 8125l83-26-71-136-83 43z" fill="none"/>
<path d="M5999 8178l83-53-71-119-83 27z" fill="#0014ff" stroke="none"/>
<path d="M6076 8115l-65-109-83 27 62 127z" fill="#0044ff" stroke="none"/>
<path d="M5999 8178l83-53-71-119-83 27z" fill="none"/>
<path d="M5916 8223l83-45-71-145-82 39z" fill="#0014ff" stroke="none"/>
<path d="M5990 8160l-62-127-82 39 64 140z" fill="#0044ff" stroke="none"/>
<path d="M5916 8223l83-45-71-145-82 39z" fill="none"/>
<path d="M5833 8244l83-21-70-151-83 15z" fill="#0014ff" stroke="none"/>
<path d="M5833 8244l63-16 14-16-64-140-83 15z" fill="#0044ff" stroke="none"/>
<path d="M5802 8080l-39 7 12 27z" fill="#008bff" stroke="none"/>
<path d="M5833 8244l83-21-70-151-83 15z" fill="none"/>
<path d="M5750 8287l83-43-70-157-83 17z" fill="#0044ff" stroke="none"/>
<path d="M5775 8114l-12-27-83 17 28 73z" fill="#008bff" stroke="none"/>
<path d="M5750 8287l83-43-70-157-83 17z" fill="none"/>
<path d="M5667 8331l83-44-70-183-83 30z" fill="#0044ff" stroke="none"/>
<path d="M5708 8177l-28-73-83 30 35 98z" fill="#008bff" stroke="none"/>
<path d="M5667 8331l83-44-70-183-83 30z" fill="none"/>
<path d="M5584 8362l83-31-70-197-83 31z" fill="#0044ff" stroke="none"/>
<path d="M5632 8232l-35-98-83 31 44 124z" fill="#008bff" stroke="none"/>
<path d="M5584 8362l83-31-70-197-83 31z" fill="none"/>
<path d="M5501 8407l83-45-70-197-83 49z" fill="#0044ff" stroke="none"/>
<path d="M5558 8289l-44-124-83 49 45 124z" fill="#008bff" stroke="none"/>
<path d="M5501 8407l83-45-70-197-83 49z" fill="none"/>
<path d="M5418 8458l83-51-70-193-83 48z" fill="#0044ff" stroke="none"/>
<path d="M5476 8338l-45-124-83 48 44 123z" fill="#008bff" stroke="none"/>
<path d="M5418 8458l83-51-70-193-83 48z" fill="none"/>
<path d="M5336 8524l82-66-70-196-83 65z" fill="#0044ff" stroke="none"/>
<path d="M5392 8385l-44-123-83 65 35 98z" fill="#008bff" stroke="none"/>
<path d="M5336 8524l82-66-70-196-83 65z" fill="none"/>
<path d="M5253 8576l83-52-71-197-83 67z" fill="#0044ff" stroke="none"/>
<path d="M5300 8425l-35-98-83 67 28 72z" fill="#008bff" stroke="none"/>
<path d="M5253 8576l83-52-71-197-83 67z" fill="none"/>
<path d="M5170 8629l83-53-71-182-83 78z" fill="#0044ff" stroke="none"/>
<path d="M5210 8466l-28-72-83 78 13 28z" fill="#008bff" stroke="none"/>
<path d="M5170 8629l83-53-71-182-83 78z" fill="none"/>
<path d="M5087 8705l83-76-71-157-82 82z" fill="#0014ff" stroke="none"/>
<path d="M5106 8687l64-58-71-157-82 82 65 140z" fill="#0044ff" stroke="none"/>
<path d="M5112 8500l-13-28-39 39z" fill="#008bff" stroke="none"/>
<path d="M5087 8705l83-76-71-157-82 82z" fill="none"/>
<path d="M5004 8756l83-51-70-151-83 58z" fill="#0014ff" stroke="none"/>
<path d="M5082 8694l-65-140-83 58 61 127z" fill="#0044ff" stroke="none"/>
<path d="M5004 8756l83-51-70-151-83 58z" fill="none"/>
<path d="M4921 8800l83-44-70-144-83 69z" fill="#0014ff" stroke="none"/>
<path d="M4995 8739l-61-127-83 69 64 108z" fill="#0044ff" stroke="none"/>
<path d="M4921 8800l83-44-70-144-83 69z" fill="none"/>
<path d="M4838 8870l83-70-70-119-83 53z" fill="#0014ff" stroke="none"/>
<path d="M4915 8789l-64-108-83 53 43 84z" fill="#0044ff" stroke="none"/>
<path d="M4838 8870l83-70-70-119-83 53z" fill="none"/>
<path d="M4755 8929l83-59-70-136-83 81z" fill="#0014ff" stroke="none"/>
<path d="M4811 8818l-43-84-83 81 15 24z" fill="#0044ff" stroke="none"/>
<path d="M4755 8929l83-59-70-136-83 81z" fill="none"/>
<path d="M4672 8948l83-19-70-114-83 45z" fill="#0014ff" stroke="none"/>
<path d="M4700 8839l-15-24-83 45 43 54z" fill="#0044ff" stroke="none"/>
<path d="M4672 8948l83-19-70-114-83 45z" fill="none"/>
<path d="M4589 9006l83-58-70-88-83 50z" fill="#0014ff" stroke="none"/>
<path d="M4645 8914l-43-54-83 50 27 37z" fill="#0044ff" stroke="none"/>
<path d="M4589 9006l83-58-70-88-83 50z" fill="none"/>
<path d="M4507 9073l82-67-70-96-83 52z" fill="#0014ff" stroke="none"/>
<path d="M4546 8947l-27-37-83 52 13 19z" fill="#0044ff" stroke="none"/>
<path d="M4507 9073l82-67-70-96-83 52z" fill="none"/>
<path d="M4424 9103l83-30-71-111-83 63z" fill="#0014ff" stroke="none"/>
<path d="M4449 8981l-13-19-43 32z" fill="#0044ff" stroke="none"/>
<path d="M4424 9103l83-30-71-111-83 63z" fill="none"/>
<path d="M4341 9195l83-92-71-78-82 8z" fill="#0014ff" stroke="none"/>
<path d="M4338 9026l-67 7 24 56z" fill="#0044ff" stroke="none"/>
<path d="M4341 9195l83-92-71-78-82 8z" fill="none"/>
<path d="M4258 9222l83-27-70-162-83 55z" fill="#0014ff" stroke="none"/>
<path d="M4295 9089l-24-56-83 55 26 51z" fill="#0044ff" stroke="none"/>
<path d="M4258 9222l83-27-70-162-83 55z" fill="none"/>
<path d="M4175 9240l83-18-70-134-83 46z" fill="#0014ff" stroke="none"/>
<path d="M4214 9139l-26-51-83 46 50 76z" fill="#0044ff" stroke="none"/>
<path d="M4175 9240l83-18-70-134-83 46z" fill="none"/>
<path d="M4092 9226l83 14-70-106-83-9z" fill="#0014ff" stroke="none"/>
<path d="M4092 9226l68 12-5-28-50-76-83-9z" fill="#0044ff" stroke="none"/>
<path d="M4092 9226l83 14-70-106-83-9z" fill="none"/>
<path d="M4009 9282l83-56-70-101-83 38z" fill="#0044ff"/>
<path d="M3926 9278l83 4-70-119-83 63z" fill="#0044ff"/>
<path d="M7064 7635l83-71-71-117-83 99z" fill="#0044ff"/>
<path d="M6981 7694l83-59-71-89-82 41z" fill="#0044ff"/>
<path d="M6898 7758l83-64-70-107-83 111z" fill="#0014ff" stroke="none"/>
<path d="M6922 7739l59-45-70-107-69 91z" fill="#0044ff" stroke="none"/>
<path d="M6898 7758l83-64-70-107-83 111z" fill="none"/>
<path d="M6815 7826l83-68-70-60-83 78z" fill="#0014ff"/>
<path d="M6732 7877l83-51-70-50-83 70z" fill="#0014ff"/>
<path d="M6649 7934l83-57-70-31-83 3z" fill="#0014ff"/>
<path d="M6566 7975l83-41-70-85-83 67z" fill="#0014ff"/>
<path d="M6483 8031l83-56-70-59-83 30z" fill="#0014ff"/>
<path d="M6401 8087l82-56-70-85-83 38z" fill="#0014ff"/>
<path d="M6318 8110l83-23-71-103-83 77z" fill="#0014ff"/>
<path d="M6235 8180l83-70-71-49-82 38z" fill="#0014ff"/>
<path d="M6152 8235l83-55-70-81-83 26z" fill="#0014ff"/>
<path d="M6069 8259l83-24-70-110-83 53z" fill="#0014ff"/>
<path d="M5986 8282l83-23-70-81-83 45z" fill="#0014ff" stroke="none"/>
<path d="M5986 8282l5-1-18-10z" fill="#0044ff" stroke="none"/>
<path d="M5986 8282l83-23-70-81-83 45z" fill="none"/>
<path d="M5903 8354l83-72-70-59-83 21z" fill="#0014ff" stroke="none"/>
<path d="M5981 8287l5-5-13-11-77-43-63 16 34 54z" fill="#0044ff" stroke="none"/>
<path d="M5903 8354l83-72-70-59-83 21z" fill="none"/>
<path d="M5820 8373l83-19-70-110-83 43z" fill="#0014ff" stroke="none"/>
<path d="M5820 8373l20-5 27-70-34-54-83 43z" fill="#0044ff" stroke="none"/>
<path d="M5820 8373l83-19-70-110-83 43z" fill="none"/>
<path d="M5737 8410l83-37-70-86-83 44z" fill="#0044ff"/>
<path d="M5654 8476l83-66-70-79-83 31z" fill="#0014ff" stroke="none"/>
<path d="M5655 8476l82-66-70-79-83 31 70 114z" fill="#0044ff" stroke="none"/>
<path d="M5654 8476l83-66-70-79-83 31z" fill="none"/>
<path d="M5572 8508l82-32-70-114-83 45z" fill="#0014ff" stroke="none"/>
<path d="M5572 8508l82-32 0 0-70-114-83 45z" fill="#0044ff" stroke="none"/>
<path d="M5572 8508l82-32-70-114-83 45z" fill="none"/>
<path d="M5489 8573l83-65-71-101-83 51z" fill="#0014ff" stroke="none"/>
<path d="M5489 8573l83-65-71-101-83 51 71 115z" fill="#0044ff" stroke="none"/>
<path d="M5489 8573l83-65-71-101-83 51z" fill="none"/>
<path d="M5406 8603l83-30-71-115-82 66z" fill="#0014ff" stroke="none"/>
<path d="M5406 8603l82-30 1 0-71-115-82 66z" fill="#0044ff" stroke="none"/>
<path d="M5406 8603l83-30-71-115-82 66z" fill="none"/>
<path d="M5323 8662l83-59-70-79-83 52z" fill="#0044ff"/>
<path d="M5240 8739l83-77-70-86-83 53z" fill="#0014ff" stroke="none"/>
<path d="M5303 8681l20-19-70-86-83 53 34 54z" fill="#0044ff" stroke="none"/>
<path d="M5240 8739l83-77-70-86-83 53z" fill="none"/>
<path d="M5157 8764l83-25-70-110-83 76z" fill="#0014ff" stroke="none"/>
<path d="M5157 8764l5-1 42-80-34-54-64 58 38 66z" fill="#0044ff" stroke="none"/>
<path d="M5157 8764l83-25-70-110-83 76z" fill="none"/>
<path d="M5074 8838l83-74-70-59-83 51z" fill="#0014ff" stroke="none"/>
<path d="M5152 8768l5-4-13-11z" fill="#0044ff" stroke="none"/>
<path d="M5074 8838l83-74-70-59-83 51z" fill="none"/>
<path d="M4991 8910l83-72-70-82-83 44z" fill="#0014ff"/>
<path d="M4908 8951l83-41-70-110-83 70z" fill="#0014ff"/>
<path d="M4826 8978l82-27-70-81-83 59z" fill="#0014ff"/>
<path d="M4743 9051l83-73-71-49-83 19z" fill="#0014ff"/>
<path d="M4660 9092l83-41-71-103-83 58z" fill="#0014ff"/>
<path d="M4577 9132l83-40-71-86-82 67z" fill="#0014ff"/>
<path d="M4494 9188l83-56-70-59-83 30z" fill="#0014ff"/>
<path d="M4411 9227l83-39-70-85-83 92z" fill="#0014ff"/>
<path d="M4328 9272l83-45-70-32-83 27z" fill="#0014ff"/>
<path d="M4245 9300l83-28-70-50-83 18z" fill="#0014ff"/>
<path d="M4162 9333l83-33-70-60-83-14z" fill="#0014ff" stroke="none"/>
<path d="M4162 9333l59-23-61-72-68-12z" fill="#0044ff" stroke="none"/>
<path d="M4162 9333l83-33-70-60-83-14z" fill="none"/>
<path d="M4079 9370l83-37-70-107-83 56z" fill="#0044ff"/>
<path d="M3997 9396l82-26-70-88-83-4z" fill="#0044ff"/>
<path d="M7134 7716l83-83-70-69-83 71z" fill="#0044ff"/>
<path d="M7051 7762l83-46-70-81-83 59z" fill="#0044ff"/>
<path d="M6968 7825l83-63-70-68-83 64z" fill="#0014ff" stroke="none"/>
<path d="M6996 7804l55-42-70-68-59 45z" fill="#0044ff" stroke="none"/>
<path d="M6968 7825l83-63-70-68-83 64z" fill="none"/>
<path d="M6885 7857l83-32-70-67-83 68z" fill="#0014ff" stroke="none"/>
<path d="M6885 7857l58-22-80 12z" fill="#0044ff" stroke="none"/>
<path d="M6885 7857l83-32-70-67-83 68z" fill="none"/>
<path d="M6802 7928l83-71-70-31-83 51z" fill="#0014ff" stroke="none"/>
<path d="M6843 7893l42-36-22-10z" fill="#0044ff" stroke="none"/>
<path d="M6802 7928l83-71-70-31-83 51z" fill="none"/>
<path d="M6720 7984l82-56-70-51-83 57z" fill="#0014ff"/>
<path d="M6637 8035l83-51-71-50-83 41z" fill="#0014ff"/>
<path d="M6554 8080l83-45-71-60-83 56z" fill="#0014ff"/>
<path d="M6471 8136l83-56-71-49-82 56z" fill="#0014ff"/>
<path d="M6388 8163l83-27-70-49-83 23z" fill="#0014ff"/>
<path d="M6305 8204l83-41-70-53-83 70z" fill="#0014ff" stroke="none"/>
<path d="M6305 8204l21-10-24 9z" fill="#0044ff" stroke="none"/>
<path d="M6305 8204l83-41-70-53-83 70z" fill="none"/>
<path d="M6222 8247l83-43-70-24-83 55z" fill="#0014ff" stroke="none"/>
<path d="M6222 8247l83-43-3-1-89 42z" fill="#0044ff" stroke="none"/>
<path d="M6222 8247l83-43-70-24-83 55z" fill="none"/>
<path d="M6139 8284l83-37-70-12-83 24z" fill="#0014ff" stroke="none"/>
<path d="M6139 8284l83-37-9-2-104 28z" fill="#0044ff" stroke="none"/>
<path d="M6139 8284l83-37-70-12-83 24z" fill="none"/>
<path d="M6056 8323l83-39-70-25-83 23z" fill="#0014ff" stroke="none"/>
<path d="M6056 8323l83-39-30-11-118 8-5 1z" fill="#0044ff" stroke="none"/>
<path d="M6056 8323l83-39-70-25-83 23z" fill="none"/>
<path d="M5973 8363l83-40-70-41-83 72z" fill="#0014ff" stroke="none"/>
<path d="M5973 8363l83-40-70-41-5 5-51 70z" fill="#0044ff" stroke="none"/>
<path d="M5973 8363l83-40-70-41-83 72z" fill="none"/>
<path d="M5891 8399l82-36-70-9-83 19z" fill="#0014ff" stroke="none"/>
<path d="M5891 8399l82-36-43-6-90 11-20 5z" fill="#0044ff" stroke="none"/>
<path d="M5891 8399l82-36-70-9-83 19z" fill="none"/>
<path d="M5808 8435l83-36-71-26-83 37z" fill="#0044ff"/>
<path d="M5725 8473l83-38-71-25-83 66z" fill="#0014ff" stroke="none"/>
<path d="M5725 8473l83-38-71-25-82 66 0 0z" fill="#0044ff" stroke="none"/>
<path d="M5725 8473l83-38-71-25-83 66z" fill="none"/>
<path d="M5642 8513l83-40-71 3-82 32z" fill="#0014ff" stroke="none"/>
<path d="M5642 8513l83-40-70 3-1 0-82 32z" fill="#0044ff" stroke="none"/>
<path d="M5642 8513l83-40-71 3-82 32z" fill="none"/>
<path d="M5559 8570l83-57-70-5-83 65z" fill="#0014ff" stroke="none"/>
<path d="M5559 8570l83-57-70-5-83 65 0 0z" fill="#0044ff" stroke="none"/>
<path d="M5559 8570l83-57-70-5-83 65z" fill="none"/>
<path d="M5476 8628l83-58-70 3-83 30z" fill="#0014ff" stroke="none"/>
<path d="M5476 8628l83-58-70 3-1 0-82 30z" fill="#0044ff" stroke="none"/>
<path d="M5476 8628l83-58-70 3-83 30z" fill="none"/>
<path d="M5393 8688l83-60-70-25-83 59z" fill="#0044ff"/>
<path d="M5310 8749l83-61-70-26-83 77z" fill="#0014ff" stroke="none"/>
<path d="M5310 8749l83-61-70-26-20 19-36 62z" fill="#0044ff" stroke="none"/>
<path d="M5310 8749l83-61-70-26-83 77z" fill="none"/>
<path d="M5227 8805l83-56-70-10-83 25z" fill="#0014ff" stroke="none"/>
<path d="M5227 8805l83-56-43-6-105 20-5 1z" fill="#0044ff" stroke="none"/>
<path d="M5227 8805l83-56-70-10-83 25z" fill="none"/>
<path d="M5144 8863l83-58-70-41-83 74z" fill="#0014ff" stroke="none"/>
<path d="M5144 8863l83-58-70-41-5 4-38 84z" fill="#0044ff" stroke="none"/>
<path d="M5144 8863l83-58-70-41-83 74z" fill="none"/>
<path d="M5062 8922l82-59-70-25-83 72z" fill="#0014ff" stroke="none"/>
<path d="M5062 8922l82-59-30-11-62 68z" fill="#0044ff" stroke="none"/>
<path d="M5062 8922l82-59-70-25-83 72z" fill="none"/>
<path d="M4979 8975l83-53-71-12-83 41z" fill="#0014ff" stroke="none"/>
<path d="M4979 8975l83-53-10-2-76 54z" fill="#0044ff" stroke="none"/>
<path d="M4979 8975l83-53-71-12-83 41z" fill="none"/>
<path d="M4896 9031l83-56-71-24-82 27z" fill="#0014ff" stroke="none"/>
<path d="M4958 8989l21-14-3-1z" fill="#0044ff" stroke="none"/>
<path d="M4896 9031l83-56-71-24-82 27z" fill="none"/>
<path d="M4813 9100l83-69-70-53-83 73z" fill="#0014ff"/>
<path d="M4730 9140l83-40-70-49-83 41z" fill="#0014ff"/>
<path d="M4647 9192l83-52-70-48-83 40z" fill="#0014ff"/>
<path d="M4564 9238l83-46-70-60-83 56z" fill="#0014ff"/>
<path d="M4481 9278l83-40-70-50-83 39z" fill="#0014ff"/>
<path d="M4398 9303l83-25-70-51-83 45z" fill="#0014ff" stroke="none"/>
<path d="M4398 9303l42-13-64 3z" fill="#0044ff" stroke="none"/>
<path d="M4398 9303l83-25-70-51-83 45z" fill="none"/>
<path d="M4315 9368l83-65-70-31-83 28z" fill="#0014ff" stroke="none"/>
<path d="M4341 9348l57-45-22-10z" fill="#0044ff" stroke="none"/>
<path d="M4315 9368l83-65-70-31-83 28z" fill="none"/>
<path d="M4233 9401l82-33-70-68-83 33z" fill="#0014ff" stroke="none"/>
<path d="M4233 9401l55-22-67-69-59 23z" fill="#0044ff" stroke="none"/>
<path d="M4233 9401l82-33-70-68-83 33z" fill="none"/>
<path d="M4150 9451l83-50-71-68-83 37z" fill="#0044ff"/>
<path d="M4067 9465l83-14-71-81-82 26z" fill="#0044ff"/></g>
<g stroke="#000" stroke-width="1.25" fill="none"><line x1="407.1" y1="986.2" x2="730.4" y2="798.2" /><line x1="407.1" y1="986.2" x2="154.2" y2="745.7" /><line x1="430.6" y1="972.5" x2="435.7" y2="981.4" /><line x1="458.2" y1="956.5" x2="460.7" y2="960.8" /><line x1="485.9" y1="940.4" x2="488.4" y2="944.7" /><line x1="513.5" y1="924.3" x2="516.0" y2="928.7" /><line x1="541.1" y1="908.3" x2="543.6" y2="912.6" /><line x1="568.8" y1="892.2" x2="573.9" y2="901.0" /><line x1="596.4" y1="876.1" x2="598.9" y2="880.5" /><line x1="624.0" y1="860.1" x2="626.5" y2="864.4" /><line x1="651.6" y1="844.0" x2="654.2" y2="848.3" /><line x1="679.3" y1="827.9" x2="681.8" y2="832.2" /><line x1="706.9" y1="811.9" x2="712.0" y2="820.7" /><line x1="395.5" y1="975.2" x2="392.1" y2="978.8" /><line x1="381.5" y1="961.8" x2="378.0" y2="965.4" /><line x1="367.4" y1="948.5" x2="364.0" y2="952.1" /><line x1="353.4" y1="935.1" x2="349.9" y2="938.7" /><line x1="339.3" y1="921.7" x2="332.3" y2="929.1" /><line x1="325.3" y1="908.4" x2="321.8" y2="912.0" /><line x1="311.2" y1="895.0" x2="307.8" y2="898.6" /><line x1="297.2" y1="881.6" x2="293.7" y2="885.3" /><line x1="283.1" y1="868.3" x2="279.7" y2="871.9" /><line x1="269.1" y1="854.9" x2="262.0" y2="862.3" /><line x1="255.0" y1="841.6" x2="251.6" y2="845.2" /><line x1="241.0" y1="828.2" x2="237.5" y2="831.8" /><line x1="226.9" y1="814.8" x2="223.5" y2="818.5" /><line x1="212.9" y1="801.5" x2="209.4" y2="805.1" /><line x1="198.8" y1="788.1" x2="191.8" y2="795.5" /><line x1="184.8" y1="774.8" x2="181.3" y2="778.4" /><line x1="170.7" y1="761.4" x2="167.3" y2="765.0" /><line x1="156.7" y1="748.0" x2="153.2" y2="751.7" /><line x1="154.2" y1="745.7" x2="150.9" y2="745.7" /><line x1="154.2" y1="736.6" x2="147.6" y2="736.6" /><line x1="154.2" y1="727.5" x2="150.9" y2="727.5" /><line x1="154.2" y1="718.3" x2="150.9" y2="718.3" /><line x1="154.2" y1="709.2" x2="150.9" y2="709.2" /><line x1="154.2" y1="700.1" x2="150.9" y2="700.1" /><line x1="154.2" y1="691.0" x2="147.6" y2="691.0" /><line x1="154.2" y1="681.9" x2="150.9" y2="681.9" /><line x1="154.2" y1="672.7" x2="150.9" y2="672.7" /><line x1="154.2" y1="663.6" x2="150.9" y2="663.6" /><line x1="154.2" y1="654.5" x2="150.9" y2="654.5" /><line x1="154.2" y1="645.4" x2="147.6" y2="645.4" /><line x1="154.2" y1="636.3" x2="150.9" y2="636.3" /><line x1="154.2" y1="627.2" x2="150.9" y2="627.2" /><line x1="154.2" y1="618.0" x2="150.9" y2="618.0" /><line x1="154.2" y1="608.9" x2="150.9" y2="608.9" /><line x1="154.2" y1="599.8" x2="147.6" y2="599.8" /><line x1="154.2" y1="590.7" x2="150.9" y2="590.7" /><line x1="154.2" y1="581.6" x2="150.9" y2="581.6" /><line x1="154.2" y1="572.4" x2="150.9" y2="572.4" /><line x1="154.2" y1="563.3" x2="150.9" y2="563.3" /><line x1="154.2" y1="554.2" x2="147.6" y2="554.2" /></g>
<text transform="translate(27.2,370.9) scale(.97,1)" font-size="33.2">PHOBOS preliminary</text>
<text transform="translate(537.2,410.6) scale(.98,1)" font-size="49.3">0-10%</text>
<g font-size="44" text-anchor="end">
<text transform="translate(147.6,572.4) scale(.94,1)">15</text>
<text transform="translate(147.6,618.2) scale(.94,1)">10</text>
<text transform="translate(147.6,664) scale(.94,1)">5</text>
<text transform="translate(147.6,709.8) scale(.94,1)">0</text>
<text transform="translate(147.6,755.5) scale(.94,1)">-5</text>
<text transform="translate(182.5,825.5) scale(.94,1)">200</text>
<text transform="translate(252.7,892.3) scale(.94,1)">100</text>
<text transform="translate(322.2,959.3) scale(.94,1)">0</text>
</g>
<g font-size="44">
<text transform="translate(443.3,1012.5) scale(.94,1)">-5</text>
<text transform="translate(581.6,932) scale(.94,1)">0</text>
<text transform="translate(719.6,852.8) scale(.94,1)">5</text>
</g>
<text class="sy" font-size="69.5" transform="translate(152.5,935) rotate(43.4)">Δ<tspan dx="-3" dy="1.5">ϕ</tspan></text>
<text class="sy" font-size="69.5" transform="translate(606.3,1027.8) rotate(-30.2)">Δη</text>
<text font-size="60" transform="translate(76.6,754.5) rotate(-90)"><tspan x="0" textLength="55.72" lengthAdjust="spacingAndGlyphs">R(</tspan><tspan class="sy" font-size="56.5" x="55.7" textLength="33.8" lengthAdjust="spacingAndGlyphs">Δ</tspan><tspan class="sy" font-size="56.5" x="88.8" textLength="33.98" lengthAdjust="spacingAndGlyphs">η</tspan><tspan x="121" textLength="14.67" lengthAdjust="spacingAndGlyphs">,</tspan><tspan class="sy" font-size="56.5" x="137" textLength="33.8" lengthAdjust="spacingAndGlyphs">Δ</tspan><tspan class="sy" font-size="56.5" x="167.5" textLength="33.32" lengthAdjust="spacingAndGlyphs">ϕ</tspan><tspan x="196.3" textLength="17.59" lengthAdjust="spacingAndGlyphs">)</tspan></text>

</svg>
</body></html>
